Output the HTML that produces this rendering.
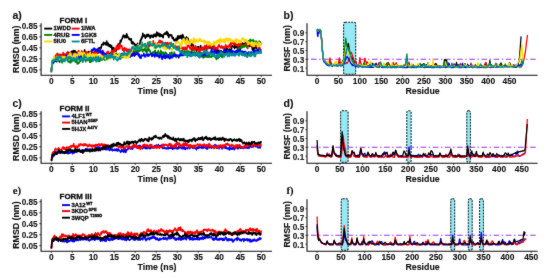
<!DOCTYPE html>
<html><head><meta charset="utf-8"><title>RMSD and RMSF</title>
<style>html,body{margin:0;padding:0;background:#fff;width:550px;height:278px;overflow:hidden} svg text{stroke:#000;stroke-width:0.1px}</style>
</head><body>
<svg width="550" height="278" viewBox="0 0 550 278" style="display:block"><defs><filter id="bl" x="0" y="0" width="550" height="278" filterUnits="userSpaceOnUse" color-interpolation-filters="sRGB"><feConvolveMatrix order="3" kernelMatrix="1 2 1 2 32 2 1 2 1" edgeMode="duplicate"/></filter></defs><g filter="url(#bl)"><rect width="550" height="278" fill="#fff"/><text x="12.4" y="19.1" font-family="'Liberation Sans', Arial, Helvetica, sans-serif" font-weight="bold" font-size="10.5" fill="#111">a)</text><text transform="translate(18.6,49.2) rotate(-90)" text-anchor="middle" font-family="'Liberation Sans', Arial, Helvetica, sans-serif" font-weight="bold" font-size="8.8" fill="#111">RMSD (nm)</text><line x1="39.3" y1="69.8" x2="41.1" y2="69.8" stroke="#111" stroke-width="0.8"/><text x="37.6" y="73.2" text-anchor="end" font-family="'Liberation Sans', Arial, Helvetica, sans-serif" font-weight="bold" font-size="8.2" fill="#222" color="#222">0.05</text><line x1="39.3" y1="58.8" x2="41.1" y2="58.8" stroke="#111" stroke-width="0.8"/><text x="37.6" y="62.2" text-anchor="end" font-family="'Liberation Sans', Arial, Helvetica, sans-serif" font-weight="bold" font-size="8.2" fill="#222" color="#222">0.25</text><line x1="39.3" y1="47.8" x2="41.1" y2="47.8" stroke="#111" stroke-width="0.8"/><text x="37.6" y="51.2" text-anchor="end" font-family="'Liberation Sans', Arial, Helvetica, sans-serif" font-weight="bold" font-size="8.2" fill="#222" color="#222">0.45</text><line x1="39.3" y1="36.8" x2="41.1" y2="36.8" stroke="#111" stroke-width="0.8"/><text x="37.6" y="40.2" text-anchor="end" font-family="'Liberation Sans', Arial, Helvetica, sans-serif" font-weight="bold" font-size="8.2" fill="#222" color="#222">0.65</text><line x1="39.3" y1="25.8" x2="41.1" y2="25.8" stroke="#111" stroke-width="0.8"/><text x="37.6" y="29.2" text-anchor="end" font-family="'Liberation Sans', Arial, Helvetica, sans-serif" font-weight="bold" font-size="8.2" fill="#222" color="#222">0.85</text><line x1="51.3" y1="75.3" x2="51.3" y2="76.9" stroke="#111" stroke-width="0.8"/><text x="51.3" y="84.2" text-anchor="middle" font-family="'Liberation Sans', Arial, Helvetica, sans-serif" font-weight="bold" font-size="8.4" fill="#111">0</text><line x1="72.3" y1="75.3" x2="72.3" y2="76.9" stroke="#111" stroke-width="0.8"/><text x="72.3" y="84.2" text-anchor="middle" font-family="'Liberation Sans', Arial, Helvetica, sans-serif" font-weight="bold" font-size="8.4" fill="#111">5</text><line x1="93.3" y1="75.3" x2="93.3" y2="76.9" stroke="#111" stroke-width="0.8"/><text x="93.3" y="84.2" text-anchor="middle" font-family="'Liberation Sans', Arial, Helvetica, sans-serif" font-weight="bold" font-size="8.4" fill="#111">10</text><line x1="114.3" y1="75.3" x2="114.3" y2="76.9" stroke="#111" stroke-width="0.8"/><text x="114.3" y="84.2" text-anchor="middle" font-family="'Liberation Sans', Arial, Helvetica, sans-serif" font-weight="bold" font-size="8.4" fill="#111">15</text><line x1="135.3" y1="75.3" x2="135.3" y2="76.9" stroke="#111" stroke-width="0.8"/><text x="135.3" y="84.2" text-anchor="middle" font-family="'Liberation Sans', Arial, Helvetica, sans-serif" font-weight="bold" font-size="8.4" fill="#111">20</text><line x1="156.3" y1="75.3" x2="156.3" y2="76.9" stroke="#111" stroke-width="0.8"/><text x="156.3" y="84.2" text-anchor="middle" font-family="'Liberation Sans', Arial, Helvetica, sans-serif" font-weight="bold" font-size="8.4" fill="#111">25</text><line x1="177.3" y1="75.3" x2="177.3" y2="76.9" stroke="#111" stroke-width="0.8"/><text x="177.3" y="84.2" text-anchor="middle" font-family="'Liberation Sans', Arial, Helvetica, sans-serif" font-weight="bold" font-size="8.4" fill="#111">30</text><line x1="198.3" y1="75.3" x2="198.3" y2="76.9" stroke="#111" stroke-width="0.8"/><text x="198.3" y="84.2" text-anchor="middle" font-family="'Liberation Sans', Arial, Helvetica, sans-serif" font-weight="bold" font-size="8.4" fill="#111">35</text><line x1="219.3" y1="75.3" x2="219.3" y2="76.9" stroke="#111" stroke-width="0.8"/><text x="219.3" y="84.2" text-anchor="middle" font-family="'Liberation Sans', Arial, Helvetica, sans-serif" font-weight="bold" font-size="8.4" fill="#111">40</text><line x1="240.3" y1="75.3" x2="240.3" y2="76.9" stroke="#111" stroke-width="0.8"/><text x="240.3" y="84.2" text-anchor="middle" font-family="'Liberation Sans', Arial, Helvetica, sans-serif" font-weight="bold" font-size="8.4" fill="#111">45</text><line x1="261.3" y1="75.3" x2="261.3" y2="76.9" stroke="#111" stroke-width="0.8"/><text x="261.3" y="84.2" text-anchor="middle" font-family="'Liberation Sans', Arial, Helvetica, sans-serif" font-weight="bold" font-size="8.4" fill="#111">50</text><text x="157" y="94" text-anchor="middle" font-family="'Liberation Sans', Arial, Helvetica, sans-serif" font-weight="bold" font-size="8.8" fill="#111">Time (ns)</text><path d="M51.3,71.45 L51.65,67.36 L52,64.9 L52.35,61.74 L52.7,63.45 L53.05,61.93 L53.4,61.41 L53.75,60.2 L54.1,61.32 L54.46,58.99 L54.81,56.72 L55.16,56.41 L55.51,56.76 L55.86,56.49 L56.21,55.45 L56.56,58.52 L56.91,56.32 L57.26,55.6 L57.61,56.26 L57.96,55.54 L58.31,56.76 L58.66,57.24 L59.01,57.48 L59.36,56.27 L59.71,57.09 L60.06,56.22 L60.42,56.23 L60.77,54.87 L61.12,56.59 L61.47,55.89 L61.82,56.05 L62.17,54.86 L62.52,56.62 L62.87,55.23 L63.22,56.91 L63.57,56.36 L63.92,56.19 L64.27,54.47 L64.62,54.43 L64.97,57.08 L65.32,56.29 L65.67,54.86 L66.02,56.56 L66.38,57.32 L66.73,53.75 L67.08,55.23 L67.43,54.66 L67.78,55.61 L68.13,54.39 L68.48,54.35 L68.83,52.39 L69.18,55.14 L69.53,54.9 L69.88,53.32 L70.23,54.28 L70.58,52.33 L70.93,52.73 L71.28,53.51 L71.63,51.59 L71.98,52.45 L72.34,50.97 L72.69,52.85 L73.04,52.51 L73.39,51.39 L73.74,50.5 L74.09,50.7 L74.44,52.08 L74.79,51.36 L75.14,50.89 L75.49,53.18 L75.84,53.74 L76.19,53.81 L76.54,53.69 L76.89,55.05 L77.24,55.15 L77.59,54.58 L77.94,52.64 L78.29,54.42 L78.65,53.97 L79,52.76 L79.35,52.71 L79.7,54 L80.05,53 L80.4,54.64 L80.75,54.28 L81.1,55.58 L81.45,53.21 L81.8,54.6 L82.15,54.57 L82.5,53.75 L82.85,53.62 L83.2,52.26 L83.55,54.92 L83.9,53.73 L84.25,53.1 L84.61,49.74 L84.96,52.23 L85.31,53.15 L85.66,53.26 L86.01,52.92 L86.36,55.32 L86.71,55.77 L87.06,53.77 L87.41,52.98 L87.76,53.17 L88.11,54.62 L88.46,51.75 L88.81,51.54 L89.16,52.73 L89.51,52.6 L89.86,54.92 L90.21,51.72 L90.57,53.14 L90.92,52.4 L91.27,52 L91.62,53.58 L91.97,54.68 L92.32,52.86 L92.67,53.28 L93.02,52.62 L93.37,52.75 L93.72,52.72 L94.07,54.73 L94.42,52.03 L94.77,53.32 L95.12,51.69 L95.47,51.52 L95.82,52.52 L96.17,54.94 L96.53,52.96 L96.88,53.26 L97.23,51.53 L97.58,50.37 L97.93,53 L98.28,49.28 L98.63,49.98 L98.98,47.77 L99.33,48.02 L99.68,47.98 L100.03,47.91 L100.38,47.34 L100.73,47.38 L101.08,48.16 L101.43,46.49 L101.78,44.45 L102.13,44.59 L102.49,44.06 L102.84,44.38 L103.19,44.86 L103.54,42.27 L103.89,43.9 L104.24,43.71 L104.59,43.87 L104.94,43.03 L105.29,43.39 L105.64,43.02 L105.99,44.99 L106.34,44.76 L106.69,41.03 L107.04,44.04 L107.39,44.93 L107.74,43.99 L108.09,43.09 L108.45,46.04 L108.8,45.32 L109.15,44.6 L109.5,46.39 L109.85,46.12 L110.2,44.69 L110.55,47.08 L110.9,46.81 L111.25,47.26 L111.6,45.56 L111.95,49.37 L112.3,48.8 L112.65,49.56 L113,47.69 L113.35,48.3 L113.7,47.54 L114.05,50.97 L114.41,49.06 L114.76,50.72 L115.11,51.01 L115.46,49.44 L115.81,50.52 L116.16,51.17 L116.51,48.14 L116.86,48.47 L117.21,46.93 L117.56,45.77 L117.91,46.18 L118.26,43.76 L118.61,44.63 L118.96,45.73 L119.31,44.2 L119.66,43.55 L120.01,43.05 L120.37,40.47 L120.72,41.62 L121.07,41.85 L121.42,39.52 L121.77,39.55 L122.12,38.49 L122.47,37.98 L122.82,36.11 L123.17,35.73 L123.52,35.04 L123.87,36.67 L124.22,35.92 L124.57,36.21 L124.92,37.83 L125.27,35.62 L125.62,36.35 L125.97,36.64 L126.33,37.59 L126.68,33.88 L127.03,35.13 L127.38,36.12 L127.73,37.49 L128.08,37.17 L128.43,37.3 L128.78,38.77 L129.13,39.07 L129.48,39.7 L129.83,38.67 L130.18,40 L130.53,40.1 L130.88,39.63 L131.23,38.72 L131.58,43.18 L131.93,42.64 L132.28,43.67 L132.64,41.91 L132.99,43.96 L133.34,42.35 L133.69,43.04 L134.04,43.75 L134.39,44.07 L134.74,43.86 L135.09,46.7 L135.44,46.49 L135.79,45.18 L136.14,44.89 L136.49,45.46 L136.84,47.58 L137.19,45.2 L137.54,43.24 L137.89,44.12 L138.24,44.42 L138.6,45.61 L138.95,44.99 L139.3,45.52 L139.65,44.33 L140,43 L140.35,40.4 L140.7,41.3 L141.05,38.7 L141.4,39.48 L141.75,37.13 L142.1,37.98 L142.45,36.72 L142.8,33.37 L143.15,34.84 L143.5,36.07 L143.85,36.26 L144.2,35.5 L144.56,34.96 L144.91,36.1 L145.26,38.2 L145.61,36.71 L145.96,36.37 L146.31,37.01 L146.66,34.66 L147.01,34.89 L147.36,34.75 L147.71,36.4 L148.06,34.22 L148.41,34.56 L148.76,35.79 L149.11,36.37 L149.46,36.43 L149.81,35.33 L150.16,38.28 L150.52,37.42 L150.87,36.03 L151.22,35.51 L151.57,36.75 L151.92,35.08 L152.27,36.1 L152.62,35.95 L152.97,37.28 L153.32,37.36 L153.67,35.63 L154.02,34.22 L154.37,35.89 L154.72,35.2 L155.07,34.25 L155.42,36.35 L155.77,35.25 L156.12,36.61 L156.48,33.5 L156.83,32.09 L157.18,32.6 L157.53,35.46 L157.88,34.91 L158.23,34.7 L158.58,34.57 L158.93,33.16 L159.28,36.53 L159.63,34.77 L159.98,36.02 L160.33,34 L160.68,35.59 L161.03,36.61 L161.38,35.55 L161.73,34.8 L162.08,36.27 L162.44,35.64 L162.79,36.9 L163.14,37.76 L163.49,34.73 L163.84,34.3 L164.19,33.74 L164.54,33.83 L164.89,32.96 L165.24,34.19 L165.59,34.24 L165.94,34.04 L166.29,32.05 L166.64,33.74 L166.99,31.53 L167.34,33.93 L167.69,35.35 L168.04,32.94 L168.4,35.37 L168.75,37.49 L169.1,35.92 L169.45,35.32 L169.8,34.62 L170.15,35.71 L170.5,35.04 L170.85,34.76 L171.2,35.46 L171.55,35 L171.9,36.24 L172.25,38.13 L172.6,38.55 L172.95,37.6 L173.3,37.66 L173.65,39.45 L174,40.34 L174.36,39.49 L174.71,40.73 L175.06,40.61 L175.41,40.13 L175.76,40.25 L176.11,38.31 L176.46,41.24 L176.81,39.04 L177.16,39.93 L177.51,36.98 L177.86,35.74 L178.21,39.04 L178.56,37.76 L178.91,36.79 L179.26,36.1 L179.61,36.97 L179.96,38.2 L180.32,36.65 L180.67,35.59 L181.02,36.06 L181.37,35.48 L181.72,39.04 L182.07,36.46 L182.42,37.93 L182.77,34.65 L183.12,36.04 L183.47,37.45 L183.82,37.02 L184.17,38.56 L184.52,38.82 L184.87,40.33 L185.22,38.74 L185.57,38.96 L185.92,37.83 L186.27,38.59 L186.63,36.93 L186.98,38.56 L187.33,38.63 L187.68,38.27 L188.03,38.25 L188.38,40.26 L188.73,41.35 L189.08,42.46 L189.43,42.05 L189.78,43.55 L190.13,41.75 L190.48,43.06 L190.83,43.6 L191.18,45.76 L191.53,44.72 L191.88,44.8 L192.23,46.24 L192.59,43.36 L192.94,45.26 L193.29,44.76 L193.64,46.38 L193.99,47.81 L194.34,47.49 L194.69,47.98 L195.04,47.77 L195.39,47.69 L195.74,47.57 L196.09,49.77 L196.44,48.37 L196.79,51.1 L197.14,46.81 L197.49,48.13 L197.84,47.24 L198.19,47.21 L198.55,46.66 L198.9,49.48 L199.25,49.99 L199.6,48.64 L199.95,50.39 L200.3,48.55 L200.65,45.64 L201,49.03 L201.35,47.45 L201.7,49.76 L202.05,47.91 L202.4,48.76 L202.75,48.83 L203.1,48.17 L203.45,47.33 L203.8,49.49 L204.15,49.32 L204.51,49.71 L204.86,48.72 L205.21,49.29 L205.56,48.24 L205.91,49.42 L206.26,46.71 L206.61,50.67 L206.96,47.75 L207.31,46.78 L207.66,47.65 L208.01,48.08 L208.36,47.77 L208.71,48.4 L209.06,46.74 L209.41,43.77 L209.76,45.03 L210.11,47.91 L210.47,47.54 L210.82,46.83 L211.17,44.62 L211.52,46.96 L211.87,46.69 L212.22,45.86 L212.57,45.26 L212.92,47 L213.27,48.84 L213.62,49.34 L213.97,47.84 L214.32,50.45 L214.67,47.97 L215.02,49.85 L215.37,49.31 L215.72,47.57 L216.07,48.76 L216.43,51.61 L216.78,49.1 L217.13,49.25 L217.48,51.02 L217.83,51.86 L218.18,51.71 L218.53,54.34 L218.88,49.94 L219.23,54.28 L219.58,52.83 L219.93,52.06 L220.28,52.04 L220.63,51.73 L220.98,50.68 L221.33,52.07 L221.68,51.76 L222.03,55.61 L222.39,53.68 L222.74,53.51 L223.09,51.72 L223.44,51.82 L223.79,53.41 L224.14,52.86 L224.49,50.07 L224.84,51.8 L225.19,52.06 L225.54,49.35 L225.89,47.96 L226.24,52.15 L226.59,50.05 L226.94,48.25 L227.29,50.24 L227.64,49.61 L227.99,49.28 L228.35,49.62 L228.7,49.51 L229.05,50.66 L229.4,49.13 L229.75,49.98 L230.1,49.71 L230.45,50.23 L230.8,49.33 L231.15,49.9 L231.5,48.82 L231.85,46.46 L232.2,45.87 L232.55,45.68 L232.9,46.19 L233.25,46.45 L233.6,46.9 L233.95,47.39 L234.31,46.14 L234.66,48.53 L235.01,45.42 L235.36,46.71 L235.71,47.24 L236.06,46.95 L236.41,47.44 L236.76,46.94 L237.11,47.8 L237.46,45.94 L237.81,47.62 L238.16,49.01 L238.51,47.99 L238.86,49.06 L239.21,47.53 L239.56,46.45 L239.91,46.76 L240.26,49.77 L240.62,48.44 L240.97,45.01 L241.32,46.02 L241.67,45.99 L242.02,44.49 L242.37,42.98 L242.72,43.72 L243.07,44.63 L243.42,43.72 L243.77,43.54 L244.12,44.06 L244.47,43.84 L244.82,42.77 L245.17,44.16 L245.52,42.99 L245.87,43.91 L246.22,41.32 L246.58,44.65 L246.93,43.84 L247.28,43.83 L247.63,43.76 L247.98,43.43 L248.33,44.85 L248.68,45.16 L249.03,46.14 L249.38,46.51 L249.73,44.83 L250.08,44.89 L250.43,45.71 L250.78,45.24 L251.13,46.06 L251.48,45.27 L251.83,46.82 L252.18,48.22 L252.54,49.8 L252.89,50.14 L253.24,47.69 L253.59,51.72 L253.94,48.67 L254.29,48.03 L254.64,48.23 L254.99,47.44 L255.34,45.61 L255.69,45.57 L256.04,45.74 L256.39,48.29 L256.74,46.71 L257.09,47.03 L257.44,46.32 L257.79,45.31 L258.14,44.17 L258.5,44.28 L258.85,45.67 L259.2,43.63 L259.55,43.07 L259.9,42.57 L260.25,42.2 L260.6,44.14 L260.95,44.07 L261.3,43.71" fill="none" stroke="#000000" stroke-width="1.6" stroke-linejoin="round"/><path d="M51.3,71.45 L51.65,68.81 L52,67.3 L52.35,60.56 L52.7,63.77 L53.05,62.38 L53.4,61.67 L53.75,59.13 L54.1,59.85 L54.46,57.74 L54.81,59.09 L55.16,56.99 L55.51,58.1 L55.86,57.52 L56.21,54.48 L56.56,54.88 L56.91,54.95 L57.26,53.39 L57.61,55.62 L57.96,57.39 L58.31,56.06 L58.66,56.89 L59.01,53.98 L59.36,54.46 L59.71,55.58 L60.06,54.94 L60.42,54.41 L60.77,55.06 L61.12,56.36 L61.47,54.61 L61.82,57.07 L62.17,54.8 L62.52,54.26 L62.87,53.69 L63.22,52.6 L63.57,54.21 L63.92,53.55 L64.27,54.55 L64.62,54.96 L64.97,56.04 L65.32,55.4 L65.67,54.09 L66.02,56.1 L66.38,54.2 L66.73,52.86 L67.08,52.89 L67.43,51.92 L67.78,53.43 L68.13,54.28 L68.48,53.67 L68.83,54.85 L69.18,54.25 L69.53,55.96 L69.88,54.5 L70.23,54.12 L70.58,54.54 L70.93,55.39 L71.28,54.25 L71.63,54.72 L71.98,55.44 L72.34,54.43 L72.69,55.72 L73.04,53.73 L73.39,55.16 L73.74,54.28 L74.09,55.9 L74.44,55.87 L74.79,52.95 L75.14,55.77 L75.49,56.54 L75.84,55.96 L76.19,53.88 L76.54,51.81 L76.89,53.14 L77.24,52.55 L77.59,54.79 L77.94,53.06 L78.29,52.34 L78.65,50.59 L79,53.27 L79.35,52.46 L79.7,53.25 L80.05,54.47 L80.4,53.21 L80.75,52.82 L81.1,54.97 L81.45,51.49 L81.8,50.93 L82.15,52.19 L82.5,54.29 L82.85,52.17 L83.2,54.36 L83.55,52.65 L83.9,52.81 L84.25,54.17 L84.61,52.52 L84.96,52.77 L85.31,52.21 L85.66,52.53 L86.01,52.77 L86.36,51.72 L86.71,52.82 L87.06,53.58 L87.41,53.83 L87.76,52.35 L88.11,54.81 L88.46,54.3 L88.81,54.42 L89.16,54.86 L89.51,53.92 L89.86,54.53 L90.21,51.38 L90.57,53.1 L90.92,53.37 L91.27,54.3 L91.62,51.59 L91.97,53.5 L92.32,55.47 L92.67,55.38 L93.02,55.12 L93.37,52.93 L93.72,54.2 L94.07,51.76 L94.42,55.68 L94.77,53.07 L95.12,53.78 L95.47,50.85 L95.82,53.3 L96.17,53.97 L96.53,52.34 L96.88,50.42 L97.23,52.63 L97.58,51.24 L97.93,52.24 L98.28,51.39 L98.63,50.99 L98.98,52.14 L99.33,52.7 L99.68,52.28 L100.03,52.21 L100.38,50.72 L100.73,49.56 L101.08,53.75 L101.43,52.62 L101.78,52.87 L102.13,52.3 L102.49,54.52 L102.84,54.27 L103.19,55.3 L103.54,54.32 L103.89,55.42 L104.24,56.29 L104.59,55.2 L104.94,55.25 L105.29,55.17 L105.64,53.59 L105.99,54.06 L106.34,53.74 L106.69,52.47 L107.04,52.22 L107.39,53.49 L107.74,53.28 L108.09,51.39 L108.45,52.12 L108.8,53.99 L109.15,54.09 L109.5,54.16 L109.85,54.36 L110.2,54.91 L110.55,52.56 L110.9,54.05 L111.25,53.34 L111.6,50.53 L111.95,53.05 L112.3,52.29 L112.65,51.01 L113,50.89 L113.35,53.06 L113.7,52.43 L114.05,52.54 L114.41,48.6 L114.76,50.81 L115.11,50.83 L115.46,50.15 L115.81,48.63 L116.16,48.01 L116.51,45.93 L116.86,46.29 L117.21,48.94 L117.56,47.98 L117.91,49.57 L118.26,49.28 L118.61,47.47 L118.96,44.27 L119.31,45.91 L119.66,48.78 L120.01,46.39 L120.37,44.68 L120.72,45.45 L121.07,45.54 L121.42,46.16 L121.77,45.87 L122.12,48.01 L122.47,49.94 L122.82,48.21 L123.17,50.28 L123.52,50.38 L123.87,51.43 L124.22,49.75 L124.57,47.67 L124.92,50.35 L125.27,48.27 L125.62,48.19 L125.97,49.79 L126.33,48.84 L126.68,51.25 L127.03,49.04 L127.38,50.16 L127.73,50.93 L128.08,52.03 L128.43,51.75 L128.78,49.48 L129.13,49.22 L129.48,51.33 L129.83,50.93 L130.18,51.88 L130.53,50.01 L130.88,49.6 L131.23,49.67 L131.58,51.36 L131.93,49.03 L132.28,48.22 L132.64,50.75 L132.99,50.91 L133.34,48.87 L133.69,50.39 L134.04,52.52 L134.39,50.21 L134.74,51.1 L135.09,52.52 L135.44,49.64 L135.79,51.96 L136.14,52.48 L136.49,50.97 L136.84,52.7 L137.19,52.5 L137.54,51.43 L137.89,51.57 L138.24,50.11 L138.6,47.14 L138.95,48 L139.3,47.01 L139.65,48.05 L140,47.01 L140.35,46.24 L140.7,49.22 L141.05,45.39 L141.4,47.28 L141.75,47.06 L142.1,48.01 L142.45,46.9 L142.8,45.77 L143.15,45.49 L143.5,47.87 L143.85,46.65 L144.2,46.72 L144.56,46.28 L144.91,46.62 L145.26,43.86 L145.61,46.21 L145.96,44.1 L146.31,45.29 L146.66,46.6 L147.01,46.01 L147.36,46.83 L147.71,42.91 L148.06,46.21 L148.41,43.61 L148.76,44.62 L149.11,45.72 L149.46,46.61 L149.81,43.61 L150.16,42.39 L150.52,45.55 L150.87,45.38 L151.22,43.72 L151.57,44.5 L151.92,42.11 L152.27,43.33 L152.62,41.85 L152.97,43.98 L153.32,40.74 L153.67,44.39 L154.02,46.58 L154.37,45.01 L154.72,45.24 L155.07,43.29 L155.42,45.2 L155.77,45.08 L156.12,44.54 L156.48,44.18 L156.83,44.89 L157.18,43.45 L157.53,43.02 L157.88,43.58 L158.23,42.51 L158.58,42.97 L158.93,43.77 L159.28,40.21 L159.63,44.04 L159.98,40.94 L160.33,40.51 L160.68,41.76 L161.03,42.4 L161.38,41.48 L161.73,41.55 L162.08,41.37 L162.44,42.71 L162.79,42.62 L163.14,44.81 L163.49,44.2 L163.84,46.14 L164.19,43.54 L164.54,45.16 L164.89,44.64 L165.24,42.45 L165.59,42.74 L165.94,46.89 L166.29,44.13 L166.64,45.56 L166.99,42.85 L167.34,42.55 L167.69,45.37 L168.04,43.15 L168.4,44.88 L168.75,43.81 L169.1,43.48 L169.45,43.07 L169.8,44.85 L170.15,43.09 L170.5,45.8 L170.85,43.81 L171.2,43.23 L171.55,44.14 L171.9,45.98 L172.25,46.18 L172.6,45.16 L172.95,45.5 L173.3,43.88 L173.65,47.4 L174,45.27 L174.36,45.33 L174.71,47.05 L175.06,47.13 L175.41,46.64 L175.76,47.93 L176.11,46.55 L176.46,47.54 L176.81,46.84 L177.16,49.8 L177.51,46.38 L177.86,47.13 L178.21,47.08 L178.56,48.46 L178.91,49.53 L179.26,47.3 L179.61,47.21 L179.96,46.16 L180.32,48.39 L180.67,45.56 L181.02,47.28 L181.37,46.8 L181.72,47.51 L182.07,48.47 L182.42,49.24 L182.77,48.29 L183.12,47.35 L183.47,47.69 L183.82,49.44 L184.17,48.21 L184.52,49.85 L184.87,49.4 L185.22,46.95 L185.57,48.43 L185.92,49.07 L186.27,49.63 L186.63,49 L186.98,49.28 L187.33,45.49 L187.68,46.8 L188.03,46.29 L188.38,46.69 L188.73,45.84 L189.08,45.11 L189.43,47.35 L189.78,47.16 L190.13,48.87 L190.48,47.12 L190.83,49.22 L191.18,49.5 L191.53,50.63 L191.88,50.66 L192.23,48.5 L192.59,46.03 L192.94,50.3 L193.29,47.64 L193.64,48.94 L193.99,50.27 L194.34,48.43 L194.69,48.71 L195.04,49.37 L195.39,45.83 L195.74,50.05 L196.09,47.73 L196.44,47.56 L196.79,47.84 L197.14,48.37 L197.49,47.97 L197.84,49.16 L198.19,49.32 L198.55,49.28 L198.9,52.38 L199.25,48.19 L199.6,47.62 L199.95,48.64 L200.3,48.13 L200.65,50.92 L201,49.26 L201.35,48.84 L201.7,48.34 L202.05,47.03 L202.4,48.86 L202.75,48.61 L203.1,50.21 L203.45,47.76 L203.8,47.94 L204.15,48.83 L204.51,48.1 L204.86,45.64 L205.21,48.76 L205.56,49.17 L205.91,49.31 L206.26,47.37 L206.61,45.03 L206.96,47.13 L207.31,48.52 L207.66,48.49 L208.01,46.93 L208.36,48.56 L208.71,45.92 L209.06,44.75 L209.41,46.15 L209.76,44.81 L210.11,44.72 L210.47,43.7 L210.82,47.47 L211.17,45.27 L211.52,47.03 L211.87,47.65 L212.22,48.01 L212.57,47.75 L212.92,48.76 L213.27,49.61 L213.62,49 L213.97,46.52 L214.32,45.67 L214.67,47.74 L215.02,47.59 L215.37,48.96 L215.72,48.14 L216.07,47.74 L216.43,49.25 L216.78,49.36 L217.13,47.94 L217.48,47.4 L217.83,48.58 L218.18,45.91 L218.53,45.94 L218.88,44.73 L219.23,45.22 L219.58,46.28 L219.93,46.64 L220.28,47.42 L220.63,47.84 L220.98,47.4 L221.33,46.14 L221.68,45.84 L222.03,46.07 L222.39,48.5 L222.74,47.58 L223.09,47.55 L223.44,46.73 L223.79,47.74 L224.14,48.26 L224.49,47.09 L224.84,47.34 L225.19,48.06 L225.54,44.81 L225.89,45.51 L226.24,47.36 L226.59,46.13 L226.94,47.22 L227.29,46.18 L227.64,46.54 L227.99,47.2 L228.35,46.96 L228.7,46.92 L229.05,45.1 L229.4,44.78 L229.75,44.22 L230.1,44.74 L230.45,47.29 L230.8,42.66 L231.15,44.94 L231.5,41.95 L231.85,41.09 L232.2,42.12 L232.55,43.5 L232.9,43.53 L233.25,43.1 L233.6,44.39 L233.95,44.07 L234.31,44.28 L234.66,41.95 L235.01,44.57 L235.36,43.54 L235.71,44.38 L236.06,44.46 L236.41,44.64 L236.76,45.33 L237.11,44.41 L237.46,45.33 L237.81,45.68 L238.16,46.81 L238.51,43.69 L238.86,45.78 L239.21,45.24 L239.56,43.89 L239.91,44.57 L240.26,43.76 L240.62,45.27 L240.97,42.76 L241.32,44.95 L241.67,45.33 L242.02,45.3 L242.37,45.6 L242.72,46.01 L243.07,45.2 L243.42,44.49 L243.77,44.53 L244.12,45.13 L244.47,44.88 L244.82,44.38 L245.17,45.79 L245.52,44.2 L245.87,44.77 L246.22,42.37 L246.58,44.82 L246.93,45.01 L247.28,45.36 L247.63,48.55 L247.98,45.12 L248.33,43.73 L248.68,42.43 L249.03,43.71 L249.38,43.64 L249.73,43.37 L250.08,43.37 L250.43,43.14 L250.78,45.3 L251.13,44.72 L251.48,46.48 L251.83,43.59 L252.18,44.41 L252.54,44.81 L252.89,46.82 L253.24,44.73 L253.59,44.84 L253.94,45.53 L254.29,45.61 L254.64,44.39 L254.99,45.19 L255.34,43.4 L255.69,44.53 L256.04,45.76 L256.39,45.09 L256.74,46.16 L257.09,46.11 L257.44,46.58 L257.79,46.38 L258.14,47.23 L258.5,49.13 L258.85,47.23 L259.2,49.77 L259.55,47.9 L259.9,47.73 L260.25,51.06 L260.6,49.58 L260.95,49.58 L261.3,50.25" fill="none" stroke="#ff0000" stroke-width="1.6" stroke-linejoin="round"/><path d="M51.3,71.45 L51.65,67.7 L52,64.65 L52.35,62.78 L52.7,60.55 L53.05,61.98 L53.4,62.53 L53.75,61.69 L54.1,60.53 L54.46,59.38 L54.81,59.49 L55.16,60.52 L55.51,59.09 L55.86,59.76 L56.21,59.05 L56.56,61.91 L56.91,61.73 L57.26,57.82 L57.61,60.42 L57.96,59.19 L58.31,58.88 L58.66,60.91 L59.01,60.79 L59.36,59.24 L59.71,62.54 L60.06,59.13 L60.42,58.13 L60.77,60.64 L61.12,60.57 L61.47,60.11 L61.82,58.94 L62.17,62.89 L62.52,61.57 L62.87,61.32 L63.22,59.37 L63.57,59.47 L63.92,58.91 L64.27,59.47 L64.62,58.54 L64.97,58.55 L65.32,58.2 L65.67,58.03 L66.02,58.16 L66.38,59.42 L66.73,56.6 L67.08,58.53 L67.43,60.54 L67.78,59.29 L68.13,61.66 L68.48,61.49 L68.83,61.89 L69.18,61.5 L69.53,62.45 L69.88,62.66 L70.23,61.4 L70.58,59.18 L70.93,62.69 L71.28,59.24 L71.63,59.7 L71.98,60.76 L72.34,60.97 L72.69,57.15 L73.04,59.44 L73.39,57.46 L73.74,59.57 L74.09,60.62 L74.44,60.66 L74.79,60.54 L75.14,60.79 L75.49,62.08 L75.84,61.91 L76.19,61.83 L76.54,60.27 L76.89,61.83 L77.24,64.01 L77.59,63.72 L77.94,62.44 L78.29,63.58 L78.65,62.55 L79,63.05 L79.35,62.16 L79.7,61.3 L80.05,60.17 L80.4,61.41 L80.75,58.5 L81.1,60.48 L81.45,56.95 L81.8,59.25 L82.15,59.5 L82.5,60 L82.85,62 L83.2,59.1 L83.55,58.38 L83.9,56.65 L84.25,59.58 L84.61,56.34 L84.96,60 L85.31,58.25 L85.66,61.75 L86.01,59.7 L86.36,60.36 L86.71,59.8 L87.06,59.17 L87.41,60.27 L87.76,59.06 L88.11,59.01 L88.46,59.37 L88.81,57.83 L89.16,58.45 L89.51,60.96 L89.86,62.23 L90.21,62.37 L90.57,59.62 L90.92,61.41 L91.27,61.57 L91.62,60.99 L91.97,61.52 L92.32,60.67 L92.67,61.28 L93.02,60.19 L93.37,56.94 L93.72,59.11 L94.07,59.36 L94.42,59.85 L94.77,59.67 L95.12,57.77 L95.47,58.09 L95.82,60.17 L96.17,58.64 L96.53,59.25 L96.88,60.46 L97.23,57.69 L97.58,59.55 L97.93,58 L98.28,61.53 L98.63,60.98 L98.98,59.65 L99.33,60.01 L99.68,61.38 L100.03,60.5 L100.38,58.95 L100.73,59.26 L101.08,59.48 L101.43,58.77 L101.78,58.02 L102.13,58.39 L102.49,58.65 L102.84,59.67 L103.19,58.64 L103.54,58.58 L103.89,58.94 L104.24,58.5 L104.59,59.69 L104.94,60.16 L105.29,59.24 L105.64,57.68 L105.99,57.29 L106.34,56.25 L106.69,58.03 L107.04,57.07 L107.39,56.98 L107.74,57.5 L108.09,59.19 L108.45,57.76 L108.8,56.55 L109.15,57.95 L109.5,55.53 L109.85,55.1 L110.2,56.58 L110.55,53.6 L110.9,55.97 L111.25,54.63 L111.6,54.8 L111.95,56.23 L112.3,54.44 L112.65,55.31 L113,53.91 L113.35,56.86 L113.7,56.29 L114.05,56.61 L114.41,57.45 L114.76,55.56 L115.11,55.5 L115.46,53.83 L115.81,54.49 L116.16,53.33 L116.51,54.66 L116.86,54.04 L117.21,54.6 L117.56,55.53 L117.91,54.91 L118.26,54.79 L118.61,57.03 L118.96,55.49 L119.31,53.48 L119.66,57.23 L120.01,57.93 L120.37,57.2 L120.72,58.81 L121.07,55.76 L121.42,56.48 L121.77,55.78 L122.12,54.81 L122.47,54.19 L122.82,57.57 L123.17,54.95 L123.52,55.73 L123.87,56.54 L124.22,55.73 L124.57,55.54 L124.92,53.6 L125.27,54.99 L125.62,55 L125.97,53.97 L126.33,53.84 L126.68,55.05 L127.03,55.06 L127.38,53.53 L127.73,55.36 L128.08,55.69 L128.43,56.32 L128.78,55.86 L129.13,56.2 L129.48,55.64 L129.83,55.29 L130.18,57.26 L130.53,54.73 L130.88,53.29 L131.23,54.4 L131.58,56.28 L131.93,53.55 L132.28,55.15 L132.64,54.31 L132.99,53.74 L133.34,53.09 L133.69,51.49 L134.04,51.75 L134.39,53.51 L134.74,53.31 L135.09,52.53 L135.44,52.39 L135.79,51.41 L136.14,52.18 L136.49,50.23 L136.84,49.18 L137.19,50.86 L137.54,51.18 L137.89,51.9 L138.24,51.74 L138.6,50.78 L138.95,48.97 L139.3,49.21 L139.65,51.37 L140,48.86 L140.35,50.29 L140.7,48.28 L141.05,49.37 L141.4,49.97 L141.75,48.62 L142.1,50.1 L142.45,51.21 L142.8,51.64 L143.15,48.76 L143.5,49.67 L143.85,50 L144.2,50.03 L144.56,47.75 L144.91,49.61 L145.26,51.12 L145.61,48.89 L145.96,49.53 L146.31,51.22 L146.66,53.11 L147.01,52.11 L147.36,50.38 L147.71,49.25 L148.06,47.41 L148.41,50.33 L148.76,48.94 L149.11,50.87 L149.46,49.55 L149.81,51.38 L150.16,50.87 L150.52,53.01 L150.87,53.89 L151.22,54.1 L151.57,54.28 L151.92,55.33 L152.27,52.49 L152.62,52.13 L152.97,52.51 L153.32,53.21 L153.67,52.42 L154.02,52.61 L154.37,51.2 L154.72,51.02 L155.07,50.22 L155.42,51.42 L155.77,53.9 L156.12,52.41 L156.48,53.91 L156.83,52.73 L157.18,52.49 L157.53,53.36 L157.88,53.18 L158.23,50.51 L158.58,53.79 L158.93,53.53 L159.28,53.06 L159.63,54 L159.98,53.35 L160.33,52.86 L160.68,50.41 L161.03,54.5 L161.38,51.51 L161.73,52.21 L162.08,52.06 L162.44,52.96 L162.79,53.91 L163.14,52.35 L163.49,53.48 L163.84,53.87 L164.19,53 L164.54,53.37 L164.89,53.57 L165.24,52.11 L165.59,52.86 L165.94,53.76 L166.29,53.02 L166.64,53.76 L166.99,53.92 L167.34,54.8 L167.69,54.46 L168.04,56.11 L168.4,56.01 L168.75,54.73 L169.1,54.97 L169.45,57.53 L169.8,52.82 L170.15,54.71 L170.5,55.13 L170.85,53.03 L171.2,53.82 L171.55,54.54 L171.9,51.97 L172.25,56.25 L172.6,55.75 L172.95,54.82 L173.3,56.77 L173.65,55.33 L174,54.34 L174.36,51.96 L174.71,55.22 L175.06,54.83 L175.41,55.2 L175.76,55.87 L176.11,57.53 L176.46,55.92 L176.81,56.1 L177.16,56.18 L177.51,55.77 L177.86,55.6 L178.21,55.84 L178.56,56.03 L178.91,56.93 L179.26,55.79 L179.61,55.77 L179.96,56.13 L180.32,54.28 L180.67,55.53 L181.02,52.22 L181.37,50.71 L181.72,52.55 L182.07,52.3 L182.42,51.85 L182.77,50.36 L183.12,51.54 L183.47,52.18 L183.82,52.25 L184.17,51.98 L184.52,53.39 L184.87,50.98 L185.22,53.03 L185.57,52.41 L185.92,52.41 L186.27,51.06 L186.63,51.72 L186.98,51.4 L187.33,52.91 L187.68,51.15 L188.03,51.17 L188.38,51.68 L188.73,51.83 L189.08,51.21 L189.43,55.36 L189.78,53.3 L190.13,54.54 L190.48,51.99 L190.83,55.77 L191.18,54.21 L191.53,54.36 L191.88,50.37 L192.23,54.03 L192.59,52.65 L192.94,52.79 L193.29,54.61 L193.64,53.56 L193.99,52.04 L194.34,52.09 L194.69,51.7 L195.04,54.63 L195.39,54.98 L195.74,55.81 L196.09,54.91 L196.44,52.72 L196.79,54.28 L197.14,54.72 L197.49,55.33 L197.84,55.89 L198.19,53.4 L198.55,56.32 L198.9,54.38 L199.25,53.04 L199.6,53.9 L199.95,51.95 L200.3,56.69 L200.65,54.67 L201,54.54 L201.35,56.7 L201.7,55.47 L202.05,54.43 L202.4,53.46 L202.75,56.74 L203.1,57.86 L203.45,54.92 L203.8,54.2 L204.15,55.25 L204.51,57.44 L204.86,52.91 L205.21,54.59 L205.56,53.3 L205.91,55.81 L206.26,56.91 L206.61,56.51 L206.96,53.69 L207.31,53.72 L207.66,57.19 L208.01,56.34 L208.36,53.84 L208.71,56.63 L209.06,57.22 L209.41,55.75 L209.76,56.19 L210.11,56.55 L210.47,56.79 L210.82,56.62 L211.17,57.37 L211.52,55.58 L211.87,56.78 L212.22,56.37 L212.57,55.51 L212.92,53.6 L213.27,54.89 L213.62,55.33 L213.97,55.51 L214.32,56.18 L214.67,56.88 L215.02,56.78 L215.37,56.57 L215.72,56.61 L216.07,58.55 L216.43,59.47 L216.78,58.13 L217.13,58.28 L217.48,58.32 L217.83,58.51 L218.18,58.53 L218.53,55.59 L218.88,55.4 L219.23,54.83 L219.58,56.86 L219.93,54.57 L220.28,56.16 L220.63,55.08 L220.98,54.79 L221.33,55.7 L221.68,55.64 L222.03,57.48 L222.39,55.62 L222.74,57.37 L223.09,55.1 L223.44,54.31 L223.79,54.78 L224.14,55.42 L224.49,55.7 L224.84,55.31 L225.19,54.2 L225.54,54.4 L225.89,53.52 L226.24,53.73 L226.59,52.05 L226.94,52.16 L227.29,52.35 L227.64,51.62 L227.99,50.26 L228.35,53.12 L228.7,53.21 L229.05,54.57 L229.4,52.97 L229.75,53.43 L230.1,55.07 L230.45,53.18 L230.8,52.04 L231.15,53.17 L231.5,53.61 L231.85,54.13 L232.2,52.63 L232.55,55.25 L232.9,53.75 L233.25,51.6 L233.6,52.86 L233.95,52.7 L234.31,52.63 L234.66,53.65 L235.01,51.87 L235.36,51.69 L235.71,53.42 L236.06,52.56 L236.41,51.12 L236.76,50.66 L237.11,52.2 L237.46,50.81 L237.81,51.17 L238.16,48.29 L238.51,48.35 L238.86,48.08 L239.21,48.7 L239.56,48.32 L239.91,47.38 L240.26,47.58 L240.62,47.57 L240.97,46.17 L241.32,45.61 L241.67,45.17 L242.02,46.59 L242.37,47.7 L242.72,45.89 L243.07,46.43 L243.42,46.12 L243.77,46.78 L244.12,47.1 L244.47,45.74 L244.82,45.78 L245.17,45.35 L245.52,46.21 L245.87,46.52 L246.22,45.37 L246.58,47.09 L246.93,46.74 L247.28,45.15 L247.63,43.19 L247.98,42.73 L248.33,40.89 L248.68,42.18 L249.03,42.27 L249.38,43.51 L249.73,42.06 L250.08,39.32 L250.43,41.31 L250.78,40.26 L251.13,40.03 L251.48,40.28 L251.83,40.31 L252.18,40.79 L252.54,40.89 L252.89,40 L253.24,39.86 L253.59,41.07 L253.94,41.79 L254.29,41.42 L254.64,43.14 L254.99,42.23 L255.34,46.25 L255.69,43.86 L256.04,40.93 L256.39,43.77 L256.74,44.26 L257.09,42.6 L257.44,42.34 L257.79,43.84 L258.14,43.31 L258.5,44.34 L258.85,44.89 L259.2,40.98 L259.55,44.14 L259.9,45.39 L260.25,45.33 L260.6,42.96 L260.95,43.4 L261.3,43.81" fill="none" stroke="#008000" stroke-width="1.6" stroke-linejoin="round"/><path d="M51.3,71.45 L51.65,69.02 L52,64.2 L52.35,62.08 L52.7,61.04 L53.05,61.29 L53.4,61.78 L53.75,62.6 L54.1,59.81 L54.46,60.6 L54.81,59.26 L55.16,61.25 L55.51,60.86 L55.86,61.37 L56.21,60.42 L56.56,58.12 L56.91,59.47 L57.26,59.88 L57.61,60.2 L57.96,59.54 L58.31,59.82 L58.66,59.25 L59.01,59.18 L59.36,61.39 L59.71,58.74 L60.06,56.69 L60.42,57.68 L60.77,58.01 L61.12,58.82 L61.47,58.13 L61.82,56.73 L62.17,58 L62.52,58.45 L62.87,60.77 L63.22,58.1 L63.57,59.26 L63.92,58.87 L64.27,56.82 L64.62,56.61 L64.97,59.19 L65.32,56.28 L65.67,56.11 L66.02,56.84 L66.38,55.35 L66.73,57.23 L67.08,58.12 L67.43,57.93 L67.78,57.76 L68.13,55.96 L68.48,58.02 L68.83,58.44 L69.18,58.41 L69.53,57.02 L69.88,56.81 L70.23,56.02 L70.58,57.77 L70.93,57.59 L71.28,57.28 L71.63,55.87 L71.98,56.75 L72.34,56.12 L72.69,54.35 L73.04,55.79 L73.39,55.97 L73.74,54.2 L74.09,56.18 L74.44,55.8 L74.79,56.32 L75.14,55.79 L75.49,55.5 L75.84,55.73 L76.19,54.74 L76.54,53.07 L76.89,53.35 L77.24,55.67 L77.59,54.86 L77.94,55.04 L78.29,54.97 L78.65,55.99 L79,57.51 L79.35,57.21 L79.7,58.33 L80.05,55.63 L80.4,55.87 L80.75,55.23 L81.1,56.36 L81.45,56.45 L81.8,57.2 L82.15,58.07 L82.5,55.8 L82.85,56.55 L83.2,56.26 L83.55,57.61 L83.9,56.09 L84.25,57.44 L84.61,56.23 L84.96,56.65 L85.31,55.96 L85.66,56.24 L86.01,56.12 L86.36,55.6 L86.71,56.63 L87.06,55.75 L87.41,55.93 L87.76,56.14 L88.11,56.23 L88.46,55.31 L88.81,55.25 L89.16,54.3 L89.51,53.11 L89.86,53.54 L90.21,54.67 L90.57,54.9 L90.92,52.89 L91.27,52.14 L91.62,49.89 L91.97,50.98 L92.32,50.64 L92.67,49.27 L93.02,50.23 L93.37,49.86 L93.72,48.52 L94.07,48.07 L94.42,49.11 L94.77,49.13 L95.12,50.87 L95.47,49.02 L95.82,49.92 L96.17,49.37 L96.53,50.7 L96.88,50.36 L97.23,49.9 L97.58,49.76 L97.93,48.66 L98.28,49.72 L98.63,52.39 L98.98,51.45 L99.33,51.63 L99.68,51.35 L100.03,50.07 L100.38,50.74 L100.73,52.21 L101.08,51.57 L101.43,52.91 L101.78,52.63 L102.13,53.52 L102.49,52.9 L102.84,50.64 L103.19,54.13 L103.54,52.73 L103.89,52.47 L104.24,54.11 L104.59,53.91 L104.94,54.03 L105.29,53.86 L105.64,53.88 L105.99,55.75 L106.34,54.81 L106.69,55.09 L107.04,55.71 L107.39,55.68 L107.74,56.69 L108.09,55.57 L108.45,56.3 L108.8,54.56 L109.15,55.26 L109.5,56.33 L109.85,53.86 L110.2,56.71 L110.55,57.01 L110.9,55.69 L111.25,57.45 L111.6,56.21 L111.95,57.02 L112.3,55.9 L112.65,55.08 L113,55.87 L113.35,55.34 L113.7,55.5 L114.05,54.63 L114.41,55.21 L114.76,56.18 L115.11,55 L115.46,56.02 L115.81,56.26 L116.16,54.57 L116.51,55.45 L116.86,55.59 L117.21,55.28 L117.56,55.79 L117.91,57.34 L118.26,56.41 L118.61,57.08 L118.96,55.67 L119.31,55.77 L119.66,53.52 L120.01,54.53 L120.37,55.77 L120.72,55.63 L121.07,55.89 L121.42,54.62 L121.77,53.61 L122.12,54.08 L122.47,56.96 L122.82,54.87 L123.17,54.13 L123.52,54.3 L123.87,53.57 L124.22,55.48 L124.57,53.72 L124.92,55.52 L125.27,54.32 L125.62,54.41 L125.97,54.39 L126.33,54.76 L126.68,53.76 L127.03,55.21 L127.38,56.33 L127.73,54.55 L128.08,54.88 L128.43,56.34 L128.78,56.24 L129.13,55.8 L129.48,54.95 L129.83,55.21 L130.18,55.01 L130.53,56.81 L130.88,55.66 L131.23,55.05 L131.58,54.89 L131.93,55.12 L132.28,55.76 L132.64,53.1 L132.99,53.35 L133.34,54.45 L133.69,55.55 L134.04,52.96 L134.39,56.08 L134.74,54.57 L135.09,53.44 L135.44,55.1 L135.79,53.63 L136.14,54.06 L136.49,53.46 L136.84,54.05 L137.19,52.81 L137.54,53.84 L137.89,54.83 L138.24,53.5 L138.6,55.26 L138.95,56.16 L139.3,54.28 L139.65,57.62 L140,57.79 L140.35,56.65 L140.7,57.59 L141.05,58.31 L141.4,54.94 L141.75,55.98 L142.1,56.01 L142.45,55.29 L142.8,55.72 L143.15,55.87 L143.5,54.65 L143.85,53.38 L144.2,55.18 L144.56,55.19 L144.91,56.88 L145.26,55.74 L145.61,56.8 L145.96,54.64 L146.31,54.93 L146.66,54.45 L147.01,54.12 L147.36,54.88 L147.71,55.96 L148.06,54.06 L148.41,56.02 L148.76,56.13 L149.11,54.69 L149.46,55.25 L149.81,54.91 L150.16,54.09 L150.52,54.04 L150.87,54.2 L151.22,53.97 L151.57,53.6 L151.92,56.34 L152.27,54.8 L152.62,56.08 L152.97,55.61 L153.32,55.16 L153.67,54.87 L154.02,54.59 L154.37,54.32 L154.72,57.04 L155.07,54.89 L155.42,53.1 L155.77,54.89 L156.12,54.26 L156.48,55.94 L156.83,56.19 L157.18,56.12 L157.53,54.52 L157.88,54.9 L158.23,56.63 L158.58,56.8 L158.93,55.87 L159.28,57.77 L159.63,56.29 L159.98,54.88 L160.33,54.59 L160.68,56.03 L161.03,54.78 L161.38,57.62 L161.73,57.62 L162.08,59.31 L162.44,56.59 L162.79,57.26 L163.14,55.18 L163.49,56.48 L163.84,56.87 L164.19,57.92 L164.54,54.46 L164.89,56.37 L165.24,56.33 L165.59,58.52 L165.94,55.68 L166.29,55.14 L166.64,57.22 L166.99,56.2 L167.34,56.54 L167.69,56.39 L168.04,57.86 L168.4,55.4 L168.75,57.08 L169.1,57.28 L169.45,57.45 L169.8,58.78 L170.15,58.19 L170.5,56.51 L170.85,56.15 L171.2,57.27 L171.55,56.17 L171.9,57.91 L172.25,56.7 L172.6,55.91 L172.95,55.27 L173.3,56.46 L173.65,54.79 L174,54.09 L174.36,55.95 L174.71,54.87 L175.06,56.24 L175.41,56.32 L175.76,54.22 L176.11,55.81 L176.46,55.28 L176.81,55.6 L177.16,55.72 L177.51,55.55 L177.86,55.09 L178.21,56.21 L178.56,57.79 L178.91,55.24 L179.26,55.55 L179.61,54.79 L179.96,55.13 L180.32,53.19 L180.67,55.31 L181.02,54.1 L181.37,55.68 L181.72,54.6 L182.07,55.29 L182.42,54.97 L182.77,54.28 L183.12,55.54 L183.47,52.92 L183.82,55.21 L184.17,54.55 L184.52,53.68 L184.87,54.82 L185.22,53.64 L185.57,53.74 L185.92,53.55 L186.27,52.23 L186.63,54.08 L186.98,53.45 L187.33,54.67 L187.68,55.69 L188.03,55.34 L188.38,54.78 L188.73,54.43 L189.08,52.77 L189.43,55.6 L189.78,54.11 L190.13,55.28 L190.48,52.46 L190.83,54.49 L191.18,54.38 L191.53,54.6 L191.88,52.43 L192.23,54.1 L192.59,53.03 L192.94,55.31 L193.29,52.99 L193.64,53.75 L193.99,54.24 L194.34,53.57 L194.69,54.65 L195.04,54.67 L195.39,53.61 L195.74,53.98 L196.09,54.54 L196.44,54.88 L196.79,55.25 L197.14,54.46 L197.49,54.35 L197.84,55.09 L198.19,53.25 L198.55,56.88 L198.9,56.24 L199.25,54.45 L199.6,55.92 L199.95,56.65 L200.3,53.49 L200.65,53.59 L201,54.9 L201.35,53.17 L201.7,55.21 L202.05,55.85 L202.4,54.93 L202.75,55.01 L203.1,55.38 L203.45,54.68 L203.8,55.26 L204.15,53.99 L204.51,53.95 L204.86,53.12 L205.21,54.04 L205.56,55.05 L205.91,55.47 L206.26,54.24 L206.61,52.45 L206.96,53.13 L207.31,54.59 L207.66,52.17 L208.01,54.4 L208.36,52.6 L208.71,53.72 L209.06,53.21 L209.41,53.25 L209.76,53.23 L210.11,52.34 L210.47,53.38 L210.82,52.34 L211.17,51.38 L211.52,48.41 L211.87,51.6 L212.22,52.44 L212.57,53.45 L212.92,51.3 L213.27,53.66 L213.62,52.72 L213.97,52.69 L214.32,53.58 L214.67,50.21 L215.02,50.19 L215.37,52 L215.72,52.53 L216.07,53.21 L216.43,53.82 L216.78,51.95 L217.13,52.1 L217.48,51.98 L217.83,51.56 L218.18,53.31 L218.53,52.4 L218.88,54.37 L219.23,53.68 L219.58,52.6 L219.93,52.75 L220.28,53.8 L220.63,54.32 L220.98,52.26 L221.33,50.99 L221.68,53.69 L222.03,52.58 L222.39,52.09 L222.74,51.81 L223.09,53.41 L223.44,51.97 L223.79,52.54 L224.14,49.15 L224.49,50.73 L224.84,51.24 L225.19,50.93 L225.54,50.52 L225.89,51.5 L226.24,53.3 L226.59,52.5 L226.94,53.6 L227.29,53.28 L227.64,53.04 L227.99,52.52 L228.35,51.78 L228.7,52.38 L229.05,50.92 L229.4,50.49 L229.75,52.03 L230.1,52.77 L230.45,50.87 L230.8,53.41 L231.15,52.77 L231.5,50.08 L231.85,50.71 L232.2,50.53 L232.55,52.09 L232.9,52.85 L233.25,52.67 L233.6,51.38 L233.95,52.48 L234.31,52.1 L234.66,52.91 L235.01,53.44 L235.36,50.94 L235.71,51.47 L236.06,52.39 L236.41,52.27 L236.76,51.66 L237.11,50.04 L237.46,51.63 L237.81,50.36 L238.16,52.99 L238.51,51.99 L238.86,50.79 L239.21,50.58 L239.56,52.52 L239.91,52.15 L240.26,50.16 L240.62,52.19 L240.97,52.38 L241.32,51.83 L241.67,51.64 L242.02,51.1 L242.37,51.23 L242.72,52.68 L243.07,52.03 L243.42,51.6 L243.77,53.02 L244.12,52.74 L244.47,51.7 L244.82,53.83 L245.17,51.19 L245.52,52.1 L245.87,52.01 L246.22,52.37 L246.58,53.19 L246.93,53.03 L247.28,54.5 L247.63,54.17 L247.98,54.07 L248.33,52.08 L248.68,52.47 L249.03,54.24 L249.38,54.16 L249.73,54.88 L250.08,53.15 L250.43,53.91 L250.78,51.99 L251.13,54.83 L251.48,52.02 L251.83,52.85 L252.18,53.76 L252.54,52.83 L252.89,52.58 L253.24,52.5 L253.59,51.31 L253.94,53.44 L254.29,50.49 L254.64,51.44 L254.99,50.05 L255.34,51.73 L255.69,50.86 L256.04,50.71 L256.39,50.06 L256.74,51 L257.09,50.87 L257.44,50.2 L257.79,49.92 L258.14,49.11 L258.5,52.83 L258.85,51.32 L259.2,49.66 L259.55,52.26 L259.9,51.69 L260.25,50.38 L260.6,50.78 L260.95,53.02 L261.3,50.79" fill="none" stroke="#0000ff" stroke-width="1.6" stroke-linejoin="round"/><path d="M51.3,71.45 L51.65,68.99 L52,62.82 L52.35,60.16 L52.7,61.05 L53.05,61.11 L53.4,58.02 L53.75,57.87 L54.1,56.1 L54.46,59.27 L54.81,60.05 L55.16,58.23 L55.51,59.89 L55.86,59.04 L56.21,60.09 L56.56,56.69 L56.91,56.46 L57.26,57.51 L57.61,57.25 L57.96,58.09 L58.31,58.79 L58.66,56.7 L59.01,59.67 L59.36,57.98 L59.71,59.29 L60.06,59.73 L60.42,56.76 L60.77,58.21 L61.12,57.62 L61.47,57.12 L61.82,59.18 L62.17,56.3 L62.52,58.93 L62.87,56.72 L63.22,58.93 L63.57,58.8 L63.92,56.43 L64.27,56.75 L64.62,56.61 L64.97,59.08 L65.32,56.97 L65.67,59.5 L66.02,58.85 L66.38,58.94 L66.73,58.79 L67.08,57.83 L67.43,58.06 L67.78,56.25 L68.13,55.34 L68.48,57.91 L68.83,56.78 L69.18,55.58 L69.53,55.18 L69.88,52.94 L70.23,55.79 L70.58,53.12 L70.93,53.41 L71.28,56.84 L71.63,59.01 L71.98,57.44 L72.34,57.54 L72.69,56.7 L73.04,56.61 L73.39,54.95 L73.74,56.53 L74.09,53.7 L74.44,56.69 L74.79,55.28 L75.14,54.55 L75.49,55.89 L75.84,53.85 L76.19,56.35 L76.54,55.05 L76.89,56.59 L77.24,55.5 L77.59,54.5 L77.94,54.2 L78.29,54.36 L78.65,52.43 L79,54.97 L79.35,55.59 L79.7,54.03 L80.05,52.43 L80.4,52.47 L80.75,52.5 L81.1,54.85 L81.45,52.51 L81.8,52.71 L82.15,54.3 L82.5,53.97 L82.85,57.08 L83.2,54.27 L83.55,52.23 L83.9,55.94 L84.25,54.31 L84.61,53.2 L84.96,55.12 L85.31,54.62 L85.66,58.68 L86.01,56.86 L86.36,55.81 L86.71,57.46 L87.06,55.73 L87.41,53.83 L87.76,54.44 L88.11,54.18 L88.46,58.03 L88.81,55.3 L89.16,53.85 L89.51,54.55 L89.86,55.77 L90.21,52.24 L90.57,56.02 L90.92,56.92 L91.27,54.98 L91.62,55.35 L91.97,55.61 L92.32,54.88 L92.67,53.81 L93.02,54.45 L93.37,55.9 L93.72,54.75 L94.07,54.47 L94.42,55.86 L94.77,54.21 L95.12,55.27 L95.47,57.93 L95.82,55.64 L96.17,54.04 L96.53,54.49 L96.88,56.28 L97.23,55.24 L97.58,56.87 L97.93,57.64 L98.28,56.02 L98.63,55.7 L98.98,55.87 L99.33,55.75 L99.68,56.62 L100.03,58.09 L100.38,56.27 L100.73,55.91 L101.08,57.2 L101.43,55.94 L101.78,59.25 L102.13,58.03 L102.49,56.96 L102.84,56.67 L103.19,58.43 L103.54,58.2 L103.89,58.67 L104.24,57.36 L104.59,55.73 L104.94,58.44 L105.29,57.51 L105.64,58.88 L105.99,57.63 L106.34,59.15 L106.69,57.62 L107.04,60.06 L107.39,57.37 L107.74,57.68 L108.09,58.95 L108.45,55.02 L108.8,55.34 L109.15,58.71 L109.5,54.99 L109.85,58.52 L110.2,57.17 L110.55,55.15 L110.9,58.96 L111.25,54.76 L111.6,55.95 L111.95,56.43 L112.3,57.23 L112.65,56.17 L113,56.91 L113.35,56.23 L113.7,55.77 L114.05,56.33 L114.41,53.17 L114.76,56.58 L115.11,55.55 L115.46,55.42 L115.81,54.84 L116.16,54.79 L116.51,54.8 L116.86,55.82 L117.21,56.52 L117.56,56.4 L117.91,55.93 L118.26,55.6 L118.61,57.36 L118.96,58.66 L119.31,53.24 L119.66,54.36 L120.01,56.19 L120.37,56.01 L120.72,56.24 L121.07,56.98 L121.42,55.6 L121.77,55.18 L122.12,55.45 L122.47,56.63 L122.82,55.84 L123.17,55.12 L123.52,56.24 L123.87,55.39 L124.22,57.39 L124.57,55.68 L124.92,55.59 L125.27,56.56 L125.62,58.18 L125.97,56.35 L126.33,58.05 L126.68,56.67 L127.03,57.55 L127.38,56.19 L127.73,57.32 L128.08,57.65 L128.43,55.55 L128.78,56.46 L129.13,54.92 L129.48,56.34 L129.83,54.68 L130.18,53.25 L130.53,52.77 L130.88,52.71 L131.23,52.14 L131.58,52.38 L131.93,50.66 L132.28,50.1 L132.64,49.79 L132.99,49.2 L133.34,49.65 L133.69,46.16 L134.04,48.32 L134.39,48.08 L134.74,48.89 L135.09,48.09 L135.44,47.63 L135.79,49.53 L136.14,49.03 L136.49,46.45 L136.84,48.8 L137.19,46.85 L137.54,46.53 L137.89,44.92 L138.24,44.22 L138.6,45.05 L138.95,45.36 L139.3,47.12 L139.65,47.22 L140,47.08 L140.35,49.31 L140.7,46.18 L141.05,45.99 L141.4,46.1 L141.75,47.34 L142.1,46.16 L142.45,47.37 L142.8,47.08 L143.15,48.18 L143.5,47.26 L143.85,45.06 L144.2,46.16 L144.56,45.45 L144.91,47.4 L145.26,45.16 L145.61,47.64 L145.96,45.57 L146.31,46.03 L146.66,46.85 L147.01,43.41 L147.36,43.56 L147.71,43.82 L148.06,43.91 L148.41,43.28 L148.76,43.92 L149.11,42.18 L149.46,42.19 L149.81,42.22 L150.16,43.29 L150.52,44.18 L150.87,43.94 L151.22,44.37 L151.57,44.01 L151.92,42.14 L152.27,45.51 L152.62,43.85 L152.97,46.72 L153.32,46.44 L153.67,44.93 L154.02,48.36 L154.37,48.31 L154.72,45.76 L155.07,46.71 L155.42,46.43 L155.77,46.33 L156.12,43.81 L156.48,46.14 L156.83,47.61 L157.18,44.58 L157.53,45.67 L157.88,46.6 L158.23,44.14 L158.58,45.08 L158.93,43.89 L159.28,44.17 L159.63,46.54 L159.98,44.45 L160.33,45.19 L160.68,47.55 L161.03,46.56 L161.38,44.9 L161.73,46.26 L162.08,46.6 L162.44,46.05 L162.79,46.5 L163.14,48.51 L163.49,46.19 L163.84,47.24 L164.19,46.35 L164.54,46.25 L164.89,48.87 L165.24,48.83 L165.59,48.25 L165.94,49.61 L166.29,47.83 L166.64,47.4 L166.99,48.8 L167.34,46.04 L167.69,46.65 L168.04,47.2 L168.4,45.8 L168.75,46.25 L169.1,46.82 L169.45,46.71 L169.8,45.04 L170.15,46.96 L170.5,48.96 L170.85,48.34 L171.2,48.66 L171.55,50.04 L171.9,49.7 L172.25,49.89 L172.6,49.33 L172.95,47.29 L173.3,46.79 L173.65,45.54 L174,45.59 L174.36,45.27 L174.71,44.95 L175.06,43.58 L175.41,44.53 L175.76,42.9 L176.11,43.41 L176.46,42.6 L176.81,41.96 L177.16,42.49 L177.51,42.49 L177.86,42.92 L178.21,41.79 L178.56,42.27 L178.91,42.28 L179.26,42.64 L179.61,42.49 L179.96,44.97 L180.32,44.79 L180.67,47.6 L181.02,46.65 L181.37,45.41 L181.72,41 L182.07,44.42 L182.42,41.42 L182.77,39.68 L183.12,41.26 L183.47,38.69 L183.82,39.29 L184.17,40.13 L184.52,39.13 L184.87,41.83 L185.22,44 L185.57,42.34 L185.92,42.66 L186.27,44.46 L186.63,43.26 L186.98,38.59 L187.33,41.97 L187.68,41.8 L188.03,42.56 L188.38,41.11 L188.73,41.83 L189.08,42.75 L189.43,43.34 L189.78,44.84 L190.13,43.89 L190.48,41.92 L190.83,39.79 L191.18,40.34 L191.53,39.22 L191.88,40.21 L192.23,40.79 L192.59,42.69 L192.94,41.43 L193.29,43.72 L193.64,40.95 L193.99,38.02 L194.34,39.37 L194.69,39.25 L195.04,41.49 L195.39,42.78 L195.74,41.06 L196.09,40.94 L196.44,39.48 L196.79,39.32 L197.14,41.74 L197.49,41.31 L197.84,41.29 L198.19,41.58 L198.55,41.55 L198.9,40.39 L199.25,39.16 L199.6,38.57 L199.95,40.48 L200.3,39.01 L200.65,41.07 L201,39.02 L201.35,41.38 L201.7,41.27 L202.05,41.17 L202.4,41.37 L202.75,41.56 L203.1,41.87 L203.45,40.26 L203.8,41.53 L204.15,42.59 L204.51,40.36 L204.86,43.08 L205.21,42.12 L205.56,41.64 L205.91,41.41 L206.26,41.83 L206.61,41.92 L206.96,43.63 L207.31,42.48 L207.66,41.42 L208.01,45.08 L208.36,43.37 L208.71,41.5 L209.06,41.71 L209.41,44.67 L209.76,42.34 L210.11,44.13 L210.47,43.6 L210.82,43.82 L211.17,45.6 L211.52,43.8 L211.87,45.48 L212.22,45.26 L212.57,44.93 L212.92,44.62 L213.27,43.8 L213.62,43.56 L213.97,41.29 L214.32,42.97 L214.67,44.51 L215.02,42.52 L215.37,43.02 L215.72,42.23 L216.07,42.26 L216.43,43.22 L216.78,40.47 L217.13,42.09 L217.48,42.83 L217.83,42.39 L218.18,41.75 L218.53,39.44 L218.88,40.69 L219.23,40.03 L219.58,43.17 L219.93,40.51 L220.28,39.77 L220.63,38.42 L220.98,40.6 L221.33,42.24 L221.68,39.92 L222.03,40.92 L222.39,41.62 L222.74,40.83 L223.09,39.19 L223.44,39.33 L223.79,40.31 L224.14,42.37 L224.49,39.48 L224.84,42.98 L225.19,40.87 L225.54,41.44 L225.89,38.02 L226.24,39.91 L226.59,38.67 L226.94,40.14 L227.29,40.43 L227.64,39.08 L227.99,42.1 L228.35,38.59 L228.7,38.59 L229.05,40.16 L229.4,40.37 L229.75,39.76 L230.1,38.71 L230.45,39.21 L230.8,38.85 L231.15,40.38 L231.5,41.72 L231.85,40.88 L232.2,40.82 L232.55,41.69 L232.9,41.04 L233.25,40.23 L233.6,41.36 L233.95,41.54 L234.31,40.46 L234.66,41.43 L235.01,41.89 L235.36,39.96 L235.71,41.18 L236.06,38.89 L236.41,42.16 L236.76,39.33 L237.11,40.66 L237.46,39.34 L237.81,40.55 L238.16,41.01 L238.51,40.32 L238.86,42.35 L239.21,42.78 L239.56,41.72 L239.91,40.51 L240.26,41.47 L240.62,41.38 L240.97,42.49 L241.32,41.19 L241.67,40.62 L242.02,38.33 L242.37,38.87 L242.72,39.35 L243.07,37.77 L243.42,39.34 L243.77,39.64 L244.12,40.16 L244.47,41.83 L244.82,39.53 L245.17,40.34 L245.52,40.59 L245.87,41.35 L246.22,39.55 L246.58,39.54 L246.93,41.49 L247.28,42.48 L247.63,41.57 L247.98,44.33 L248.33,44.28 L248.68,42.02 L249.03,42.93 L249.38,43.36 L249.73,43.72 L250.08,43.17 L250.43,42.78 L250.78,44.29 L251.13,45.29 L251.48,44.18 L251.83,43.71 L252.18,43.59 L252.54,43.26 L252.89,46.15 L253.24,44.07 L253.59,43.79 L253.94,44.42 L254.29,46.15 L254.64,42.38 L254.99,43.77 L255.34,44.03 L255.69,43.29 L256.04,42.98 L256.39,43.4 L256.74,42.95 L257.09,44.49 L257.44,46.56 L257.79,46.82 L258.14,45.99 L258.5,46.37 L258.85,42.65 L259.2,45.29 L259.55,42.55 L259.9,44.26 L260.25,45.59 L260.6,44.31 L260.95,43.68 L261.3,44.77" fill="none" stroke="#ffd700" stroke-width="1.6" stroke-linejoin="round"/><path d="M51.3,72.55 L51.65,69.94 L52,64.55 L52.35,60.71 L52.7,60.18 L53.05,60.69 L53.4,60.82 L53.75,60.73 L54.1,60.68 L54.46,59.38 L54.81,59.45 L55.16,59.37 L55.51,60.16 L55.86,58.79 L56.21,57.4 L56.56,58.96 L56.91,59.97 L57.26,56.98 L57.61,58.24 L57.96,61.19 L58.31,57.89 L58.66,57.01 L59.01,56.19 L59.36,55.99 L59.71,56.17 L60.06,56.69 L60.42,59.05 L60.77,58.73 L61.12,57.31 L61.47,57.84 L61.82,60.5 L62.17,59.67 L62.52,59.48 L62.87,61.09 L63.22,61.33 L63.57,59.41 L63.92,58.89 L64.27,59.43 L64.62,61.53 L64.97,59.33 L65.32,60.81 L65.67,58.12 L66.02,58.3 L66.38,57.29 L66.73,56.85 L67.08,58.36 L67.43,58.05 L67.78,57.27 L68.13,57.73 L68.48,57.08 L68.83,58.73 L69.18,56.48 L69.53,57.27 L69.88,58.12 L70.23,57.19 L70.58,58.86 L70.93,59.22 L71.28,58.83 L71.63,57.51 L71.98,59.49 L72.34,59.26 L72.69,61.43 L73.04,59.71 L73.39,58.49 L73.74,58.21 L74.09,58.08 L74.44,59.06 L74.79,59.43 L75.14,58.49 L75.49,59.77 L75.84,58.81 L76.19,58.09 L76.54,60.11 L76.89,57.06 L77.24,59.77 L77.59,58.5 L77.94,59.96 L78.29,58.06 L78.65,59.64 L79,59.62 L79.35,59.94 L79.7,60.83 L80.05,59.29 L80.4,58.62 L80.75,59.64 L81.1,57.98 L81.45,59.25 L81.8,59.59 L82.15,57.8 L82.5,62 L82.85,59.47 L83.2,60.76 L83.55,58.63 L83.9,59.11 L84.25,54.68 L84.61,56.96 L84.96,56.38 L85.31,56.22 L85.66,57.45 L86.01,57.73 L86.36,57.33 L86.71,59.4 L87.06,58.69 L87.41,58.59 L87.76,60.72 L88.11,59.52 L88.46,58.22 L88.81,57.86 L89.16,59.57 L89.51,58.28 L89.86,58.56 L90.21,57.62 L90.57,57.02 L90.92,58.16 L91.27,57.73 L91.62,59.17 L91.97,59.99 L92.32,58.37 L92.67,61.11 L93.02,59.52 L93.37,59.89 L93.72,60.43 L94.07,58.54 L94.42,60.03 L94.77,58.97 L95.12,58.83 L95.47,58.72 L95.82,56.45 L96.17,61.92 L96.53,59.46 L96.88,59.54 L97.23,57.58 L97.58,58.79 L97.93,60.85 L98.28,56.63 L98.63,59.21 L98.98,57.92 L99.33,58.82 L99.68,58.1 L100.03,57.85 L100.38,57.47 L100.73,57.87 L101.08,59.09 L101.43,59.27 L101.78,60.22 L102.13,59.22 L102.49,59.3 L102.84,59.25 L103.19,59.28 L103.54,57.84 L103.89,57.58 L104.24,56.89 L104.59,57.1 L104.94,55.2 L105.29,55.97 L105.64,55.39 L105.99,56.22 L106.34,55.84 L106.69,59.36 L107.04,55.67 L107.39,57.97 L107.74,58.34 L108.09,56.78 L108.45,54.7 L108.8,55.63 L109.15,58.03 L109.5,56.68 L109.85,55.03 L110.2,57.81 L110.55,56.55 L110.9,56.63 L111.25,54.12 L111.6,57.17 L111.95,55.79 L112.3,57.56 L112.65,57.66 L113,56.34 L113.35,56.98 L113.7,59.65 L114.05,56.98 L114.41,56.66 L114.76,57.73 L115.11,57.06 L115.46,56.79 L115.81,58.18 L116.16,59.69 L116.51,59.4 L116.86,59.55 L117.21,60.76 L117.56,59.64 L117.91,60.31 L118.26,58.94 L118.61,58.5 L118.96,59.37 L119.31,57.71 L119.66,57.04 L120.01,56.92 L120.37,59.09 L120.72,55.51 L121.07,55.27 L121.42,55.23 L121.77,55.49 L122.12,54.82 L122.47,53.17 L122.82,54.11 L123.17,55.44 L123.52,54.32 L123.87,55.01 L124.22,53.58 L124.57,51.78 L124.92,54.58 L125.27,53.87 L125.62,54.16 L125.97,54.59 L126.33,53.77 L126.68,53.34 L127.03,55.36 L127.38,54.98 L127.73,51.95 L128.08,53.22 L128.43,52.45 L128.78,53.61 L129.13,52.83 L129.48,51.31 L129.83,51.59 L130.18,52.24 L130.53,50.91 L130.88,49.82 L131.23,51.07 L131.58,47.8 L131.93,46.97 L132.28,48.37 L132.64,46.87 L132.99,47.31 L133.34,47.25 L133.69,47.09 L134.04,49.33 L134.39,50.06 L134.74,48.32 L135.09,48.63 L135.44,48.51 L135.79,49.28 L136.14,46.35 L136.49,48.95 L136.84,46.6 L137.19,48.08 L137.54,46.82 L137.89,45.17 L138.24,48.91 L138.6,47.72 L138.95,48.37 L139.3,48.7 L139.65,47.34 L140,49.22 L140.35,49.28 L140.7,47.16 L141.05,46.39 L141.4,47.1 L141.75,47.7 L142.1,42.39 L142.45,43.96 L142.8,44.62 L143.15,45.57 L143.5,45.32 L143.85,44.64 L144.2,46.14 L144.56,43.79 L144.91,45.88 L145.26,45.78 L145.61,47.98 L145.96,47.38 L146.31,47.96 L146.66,45.38 L147.01,44.82 L147.36,44.16 L147.71,43.67 L148.06,44.1 L148.41,42.04 L148.76,43.71 L149.11,44.27 L149.46,43.69 L149.81,41.53 L150.16,44.19 L150.52,43.6 L150.87,45.11 L151.22,44.68 L151.57,44.5 L151.92,45.86 L152.27,45.49 L152.62,43.77 L152.97,43.66 L153.32,43.13 L153.67,44.65 L154.02,45.5 L154.37,45.22 L154.72,44.78 L155.07,47.63 L155.42,45.83 L155.77,48.24 L156.12,46.95 L156.48,46.8 L156.83,47.42 L157.18,45.19 L157.53,47 L157.88,46.35 L158.23,45.54 L158.58,45.86 L158.93,44.9 L159.28,46.41 L159.63,45.61 L159.98,47.66 L160.33,45.91 L160.68,46.76 L161.03,45.58 L161.38,46.26 L161.73,44.6 L162.08,43.24 L162.44,45.84 L162.79,45.78 L163.14,45.85 L163.49,42.52 L163.84,42.92 L164.19,44.64 L164.54,44.25 L164.89,45.37 L165.24,45.06 L165.59,45.31 L165.94,45.97 L166.29,46.53 L166.64,46.01 L166.99,45.21 L167.34,46.2 L167.69,47.93 L168.04,46.56 L168.4,45.17 L168.75,47.57 L169.1,47.56 L169.45,49.06 L169.8,46.65 L170.15,47.7 L170.5,46.49 L170.85,45.72 L171.2,42.42 L171.55,45.03 L171.9,46.22 L172.25,45.27 L172.6,44.86 L172.95,43.96 L173.3,47.33 L173.65,48.15 L174,47.2 L174.36,47.11 L174.71,46.94 L175.06,45.75 L175.41,48.95 L175.76,49.31 L176.11,48.74 L176.46,48.77 L176.81,49.6 L177.16,49.9 L177.51,49.34 L177.86,47.43 L178.21,48.27 L178.56,46.22 L178.91,50.76 L179.26,49.42 L179.61,51.57 L179.96,50.64 L180.32,51.8 L180.67,52.67 L181.02,52.66 L181.37,52.46 L181.72,52.41 L182.07,52.68 L182.42,51.98 L182.77,53.94 L183.12,53.28 L183.47,52.07 L183.82,53.77 L184.17,54.58 L184.52,54.45 L184.87,54.69 L185.22,53.64 L185.57,55.11 L185.92,52.38 L186.27,52.14 L186.63,52.91 L186.98,55.68 L187.33,57.28 L187.68,55.48 L188.03,52.98 L188.38,53.06 L188.73,54.7 L189.08,54.57 L189.43,52.38 L189.78,55.04 L190.13,53.18 L190.48,54.26 L190.83,56.65 L191.18,54.37 L191.53,54.28 L191.88,54.85 L192.23,56 L192.59,55.5 L192.94,52.9 L193.29,53.59 L193.64,53.5 L193.99,54.73 L194.34,53.46 L194.69,53.93 L195.04,56.06 L195.39,55.87 L195.74,53.49 L196.09,53.26 L196.44,54.41 L196.79,53.99 L197.14,53.48 L197.49,52.86 L197.84,56.16 L198.19,54.82 L198.55,53.42 L198.9,54.76 L199.25,53.95 L199.6,58.04 L199.95,54.08 L200.3,54.6 L200.65,56.34 L201,53.78 L201.35,53 L201.7,52.8 L202.05,53.09 L202.4,53.47 L202.75,53.88 L203.1,52.7 L203.45,51.79 L203.8,51.13 L204.15,52.23 L204.51,52.55 L204.86,51.45 L205.21,52.18 L205.56,49.94 L205.91,50.29 L206.26,54.3 L206.61,54.4 L206.96,54.83 L207.31,54.04 L207.66,52.6 L208.01,54.06 L208.36,53.47 L208.71,53.36 L209.06,52.59 L209.41,54.54 L209.76,53.91 L210.11,52.54 L210.47,53.38 L210.82,54.42 L211.17,53.98 L211.52,55.41 L211.87,54.34 L212.22,55.47 L212.57,53.37 L212.92,54.33 L213.27,56.18 L213.62,53.33 L213.97,56.38 L214.32,54.39 L214.67,55.17 L215.02,56.29 L215.37,56.65 L215.72,55.65 L216.07,55.22 L216.43,56.46 L216.78,55.48 L217.13,57.19 L217.48,55.06 L217.83,54.32 L218.18,56.86 L218.53,54.03 L218.88,55.35 L219.23,56.81 L219.58,54.71 L219.93,54 L220.28,52 L220.63,54.33 L220.98,52.15 L221.33,52.48 L221.68,53.15 L222.03,52.42 L222.39,53.19 L222.74,54.96 L223.09,54.04 L223.44,53.72 L223.79,55.36 L224.14,55.35 L224.49,56.8 L224.84,54.39 L225.19,54.55 L225.54,55.28 L225.89,53.93 L226.24,53.6 L226.59,53.56 L226.94,53.08 L227.29,53.53 L227.64,56.72 L227.99,54.87 L228.35,53.94 L228.7,53.28 L229.05,52.74 L229.4,56.35 L229.75,54.92 L230.1,54.51 L230.45,53.65 L230.8,53.02 L231.15,54.77 L231.5,54.64 L231.85,55.61 L232.2,54.18 L232.55,55.51 L232.9,53.56 L233.25,53.27 L233.6,52.86 L233.95,55.73 L234.31,53.76 L234.66,53.52 L235.01,55.9 L235.36,55.5 L235.71,55.05 L236.06,53.82 L236.41,54.72 L236.76,53.98 L237.11,54.38 L237.46,54.12 L237.81,54.5 L238.16,54.35 L238.51,55.24 L238.86,52.61 L239.21,55.84 L239.56,52.52 L239.91,54.23 L240.26,52.36 L240.62,53.2 L240.97,52.55 L241.32,52.9 L241.67,55.23 L242.02,53.77 L242.37,54.13 L242.72,53.33 L243.07,55.5 L243.42,55.02 L243.77,54.72 L244.12,55 L244.47,54.64 L244.82,56.16 L245.17,52.82 L245.52,54.07 L245.87,52.27 L246.22,55.19 L246.58,56.75 L246.93,55.12 L247.28,57.3 L247.63,55.59 L247.98,56.09 L248.33,55.8 L248.68,54.68 L249.03,54.13 L249.38,52.08 L249.73,54.19 L250.08,56.48 L250.43,53.42 L250.78,55.89 L251.13,54.76 L251.48,56.06 L251.83,55.21 L252.18,52.74 L252.54,54.26 L252.89,54.8 L253.24,54.8 L253.59,54.61 L253.94,52.71 L254.29,56.56 L254.64,56.57 L254.99,55.25 L255.34,56.49 L255.69,54.19 L256.04,51.64 L256.39,52.42 L256.74,53.3 L257.09,53.06 L257.44,53.5 L257.79,52.91 L258.14,52.78 L258.5,52.01 L258.85,52.05 L259.2,52.68 L259.55,53 L259.9,50.36 L260.25,51.65 L260.6,51.31 L260.95,51.47 L261.3,53.06" fill="none" stroke="#009090" stroke-width="1.6" stroke-linejoin="round"/><path d="M41.1,23.3 L41.1,75.3 L272,75.3" fill="none" stroke="#111" stroke-width="1.1"/><text x="59.6" y="23" font-family="'Liberation Sans', Arial, Helvetica, sans-serif" font-weight="bold" font-size="7.9" fill="#111" style="stroke-width:0.3px">FORM I</text><line x1="44.2" y1="28.6" x2="52.2" y2="28.6" stroke="#000000" stroke-width="1.9"/><text x="53.6" y="30.4" font-family="'Liberation Sans', Arial, Helvetica, sans-serif" font-weight="bold" font-size="5.9" fill="#111" style="stroke-width:0.3px">1WDD</text><line x1="71.7" y1="28.6" x2="79.7" y2="28.6" stroke="#ff0000" stroke-width="1.9"/><text x="81.1" y="30.4" font-family="'Liberation Sans', Arial, Helvetica, sans-serif" font-weight="bold" font-size="5.9" fill="#111" style="stroke-width:0.3px">1IWA</text><line x1="44.2" y1="34.9" x2="52.2" y2="34.9" stroke="#008000" stroke-width="1.9"/><text x="53.6" y="36.7" font-family="'Liberation Sans', Arial, Helvetica, sans-serif" font-weight="bold" font-size="5.9" fill="#111" style="stroke-width:0.3px">4RUB</text><line x1="71.7" y1="34.9" x2="79.7" y2="34.9" stroke="#0000ff" stroke-width="1.9"/><text x="81.1" y="36.7" font-family="'Liberation Sans', Arial, Helvetica, sans-serif" font-weight="bold" font-size="5.9" fill="#111" style="stroke-width:0.3px">1GK8</text><line x1="44.2" y1="41.5" x2="52.2" y2="41.5" stroke="#ffd700" stroke-width="1.9"/><text x="53.6" y="43.3" font-family="'Liberation Sans', Arial, Helvetica, sans-serif" font-weight="bold" font-size="5.9" fill="#111" style="stroke-width:0.3px">5IU0</text><line x1="71.7" y1="41.5" x2="79.7" y2="41.5" stroke="#009090" stroke-width="1.9"/><text x="81.1" y="43.3" font-family="'Liberation Sans', Arial, Helvetica, sans-serif" font-weight="bold" font-size="5.9" fill="#111" style="stroke-width:0.3px">6FTL</text><text x="12.4" y="107.1" font-family="'Liberation Sans', Arial, Helvetica, sans-serif" font-weight="bold" font-size="10.5" fill="#111">c)</text><text transform="translate(18.6,137.2) rotate(-90)" text-anchor="middle" font-family="'Liberation Sans', Arial, Helvetica, sans-serif" font-weight="bold" font-size="8.8" fill="#111">RMSD (nm)</text><line x1="39.3" y1="157.8" x2="41.1" y2="157.8" stroke="#111" stroke-width="0.8"/><text x="37.6" y="161.2" text-anchor="end" font-family="'Liberation Sans', Arial, Helvetica, sans-serif" font-weight="bold" font-size="8.2" fill="#222" color="#222">0.05</text><line x1="39.3" y1="146.8" x2="41.1" y2="146.8" stroke="#111" stroke-width="0.8"/><text x="37.6" y="150.2" text-anchor="end" font-family="'Liberation Sans', Arial, Helvetica, sans-serif" font-weight="bold" font-size="8.2" fill="#222" color="#222">0.25</text><line x1="39.3" y1="135.8" x2="41.1" y2="135.8" stroke="#111" stroke-width="0.8"/><text x="37.6" y="139.2" text-anchor="end" font-family="'Liberation Sans', Arial, Helvetica, sans-serif" font-weight="bold" font-size="8.2" fill="#222" color="#222">0.45</text><line x1="39.3" y1="124.8" x2="41.1" y2="124.8" stroke="#111" stroke-width="0.8"/><text x="37.6" y="128.2" text-anchor="end" font-family="'Liberation Sans', Arial, Helvetica, sans-serif" font-weight="bold" font-size="8.2" fill="#222" color="#222">0.65</text><line x1="39.3" y1="113.8" x2="41.1" y2="113.8" stroke="#111" stroke-width="0.8"/><text x="37.6" y="117.2" text-anchor="end" font-family="'Liberation Sans', Arial, Helvetica, sans-serif" font-weight="bold" font-size="8.2" fill="#222" color="#222">0.85</text><line x1="51.3" y1="163.3" x2="51.3" y2="164.9" stroke="#111" stroke-width="0.8"/><text x="51.3" y="172.2" text-anchor="middle" font-family="'Liberation Sans', Arial, Helvetica, sans-serif" font-weight="bold" font-size="8.4" fill="#111">0</text><line x1="72.3" y1="163.3" x2="72.3" y2="164.9" stroke="#111" stroke-width="0.8"/><text x="72.3" y="172.2" text-anchor="middle" font-family="'Liberation Sans', Arial, Helvetica, sans-serif" font-weight="bold" font-size="8.4" fill="#111">5</text><line x1="93.3" y1="163.3" x2="93.3" y2="164.9" stroke="#111" stroke-width="0.8"/><text x="93.3" y="172.2" text-anchor="middle" font-family="'Liberation Sans', Arial, Helvetica, sans-serif" font-weight="bold" font-size="8.4" fill="#111">10</text><line x1="114.3" y1="163.3" x2="114.3" y2="164.9" stroke="#111" stroke-width="0.8"/><text x="114.3" y="172.2" text-anchor="middle" font-family="'Liberation Sans', Arial, Helvetica, sans-serif" font-weight="bold" font-size="8.4" fill="#111">15</text><line x1="135.3" y1="163.3" x2="135.3" y2="164.9" stroke="#111" stroke-width="0.8"/><text x="135.3" y="172.2" text-anchor="middle" font-family="'Liberation Sans', Arial, Helvetica, sans-serif" font-weight="bold" font-size="8.4" fill="#111">20</text><line x1="156.3" y1="163.3" x2="156.3" y2="164.9" stroke="#111" stroke-width="0.8"/><text x="156.3" y="172.2" text-anchor="middle" font-family="'Liberation Sans', Arial, Helvetica, sans-serif" font-weight="bold" font-size="8.4" fill="#111">25</text><line x1="177.3" y1="163.3" x2="177.3" y2="164.9" stroke="#111" stroke-width="0.8"/><text x="177.3" y="172.2" text-anchor="middle" font-family="'Liberation Sans', Arial, Helvetica, sans-serif" font-weight="bold" font-size="8.4" fill="#111">30</text><line x1="198.3" y1="163.3" x2="198.3" y2="164.9" stroke="#111" stroke-width="0.8"/><text x="198.3" y="172.2" text-anchor="middle" font-family="'Liberation Sans', Arial, Helvetica, sans-serif" font-weight="bold" font-size="8.4" fill="#111">35</text><line x1="219.3" y1="163.3" x2="219.3" y2="164.9" stroke="#111" stroke-width="0.8"/><text x="219.3" y="172.2" text-anchor="middle" font-family="'Liberation Sans', Arial, Helvetica, sans-serif" font-weight="bold" font-size="8.4" fill="#111">40</text><line x1="240.3" y1="163.3" x2="240.3" y2="164.9" stroke="#111" stroke-width="0.8"/><text x="240.3" y="172.2" text-anchor="middle" font-family="'Liberation Sans', Arial, Helvetica, sans-serif" font-weight="bold" font-size="8.4" fill="#111">45</text><line x1="261.3" y1="163.3" x2="261.3" y2="164.9" stroke="#111" stroke-width="0.8"/><text x="261.3" y="172.2" text-anchor="middle" font-family="'Liberation Sans', Arial, Helvetica, sans-serif" font-weight="bold" font-size="8.4" fill="#111">50</text><text x="157" y="182" text-anchor="middle" font-family="'Liberation Sans', Arial, Helvetica, sans-serif" font-weight="bold" font-size="8.8" fill="#111">Time (ns)</text><path d="M51.3,160.55 L51.65,158.94 L52,157.84 L52.35,154.63 L52.7,155.06 L53.05,155.33 L53.4,156.66 L53.75,155.04 L54.1,155.55 L54.46,153.15 L54.81,153.67 L55.16,154.21 L55.51,153.89 L55.86,151.39 L56.21,152.17 L56.56,153.88 L56.91,152.64 L57.26,153.6 L57.61,153.67 L57.96,152.32 L58.31,151.05 L58.66,151.32 L59.01,152.84 L59.36,152.83 L59.71,152.68 L60.06,151.89 L60.42,153.08 L60.77,153.16 L61.12,150.79 L61.47,151.89 L61.82,151.08 L62.17,152.4 L62.52,151.85 L62.87,153.18 L63.22,152.14 L63.57,151.94 L63.92,152.21 L64.27,152.94 L64.62,151.87 L64.97,153.21 L65.32,153.27 L65.67,152.27 L66.02,151.33 L66.38,151.09 L66.73,153.23 L67.08,151.58 L67.43,151.53 L67.78,152.19 L68.13,153.82 L68.48,151.41 L68.83,151.9 L69.18,152 L69.53,153.27 L69.88,153.25 L70.23,151.72 L70.58,151.9 L70.93,151.99 L71.28,152.37 L71.63,151.85 L71.98,152.37 L72.34,152.56 L72.69,153.75 L73.04,152.54 L73.39,152.35 L73.74,151.76 L74.09,152 L74.44,152.81 L74.79,150.49 L75.14,152.25 L75.49,150.65 L75.84,150.2 L76.19,149.9 L76.54,152.19 L76.89,150.1 L77.24,149.53 L77.59,149.2 L77.94,151.49 L78.29,150.61 L78.65,149.9 L79,150.58 L79.35,149.23 L79.7,151.57 L80.05,150.52 L80.4,150.65 L80.75,152.16 L81.1,151.72 L81.45,151.84 L81.8,150.81 L82.15,149.93 L82.5,150.75 L82.85,149.81 L83.2,151.44 L83.55,152 L83.9,150.06 L84.25,150.04 L84.61,150.7 L84.96,150.7 L85.31,149.52 L85.66,148.64 L86.01,149.88 L86.36,150.31 L86.71,150.22 L87.06,148.83 L87.41,150.53 L87.76,149.8 L88.11,149.43 L88.46,149.38 L88.81,150.11 L89.16,148.94 L89.51,148.97 L89.86,149.44 L90.21,149.3 L90.57,150.42 L90.92,150.55 L91.27,151.51 L91.62,150.01 L91.97,150.96 L92.32,149.77 L92.67,150.74 L93.02,149.98 L93.37,149.89 L93.72,149.41 L94.07,149.59 L94.42,149.32 L94.77,149.62 L95.12,150.76 L95.47,147.59 L95.82,148.78 L96.17,147.95 L96.53,148.52 L96.88,147.05 L97.23,148.4 L97.58,147.28 L97.93,147.12 L98.28,147.08 L98.63,147.23 L98.98,148.11 L99.33,149.57 L99.68,147.47 L100.03,147.64 L100.38,148.06 L100.73,148.3 L101.08,148.58 L101.43,148.95 L101.78,147.63 L102.13,147.54 L102.49,148.51 L102.84,147.34 L103.19,148.5 L103.54,147.97 L103.89,148.38 L104.24,147.73 L104.59,148.32 L104.94,147.99 L105.29,149.58 L105.64,148.05 L105.99,149.13 L106.34,149.75 L106.69,148.46 L107.04,149.45 L107.39,148.03 L107.74,147.91 L108.09,149.39 L108.45,148.69 L108.8,148.85 L109.15,149.06 L109.5,150.47 L109.85,149.13 L110.2,149.45 L110.55,149.19 L110.9,149.96 L111.25,149.18 L111.6,149.93 L111.95,149.56 L112.3,149.14 L112.65,150.71 L113,150.07 L113.35,150.07 L113.7,149.75 L114.05,150.28 L114.41,149.25 L114.76,149.15 L115.11,150.54 L115.46,149.66 L115.81,149.59 L116.16,150.53 L116.51,149.47 L116.86,148.76 L117.21,150.14 L117.56,151.05 L117.91,149.78 L118.26,150.36 L118.61,149 L118.96,150.54 L119.31,150.29 L119.66,150.82 L120.01,150.99 L120.37,151.4 L120.72,152.31 L121.07,150.92 L121.42,151.11 L121.77,149.36 L122.12,151.27 L122.47,150.84 L122.82,151.25 L123.17,151.63 L123.52,149.7 L123.87,152.15 L124.22,149.38 L124.57,151.1 L124.92,150.37 L125.27,149.52 L125.62,152.42 L125.97,151.99 L126.33,149.85 L126.68,149.98 L127.03,149.86 L127.38,149.35 L127.73,149.58 L128.08,148.26 L128.43,147.32 L128.78,148.55 L129.13,147.92 L129.48,147.23 L129.83,146.87 L130.18,148.88 L130.53,148.23 L130.88,148.98 L131.23,148.7 L131.58,148.59 L131.93,148.2 L132.28,148.54 L132.64,149.14 L132.99,147.88 L133.34,147.41 L133.69,146.18 L134.04,147.22 L134.39,147 L134.74,146.21 L135.09,146.36 L135.44,146.86 L135.79,146.78 L136.14,145.58 L136.49,147.05 L136.84,147.56 L137.19,148.2 L137.54,147.23 L137.89,147.51 L138.24,145.88 L138.6,147.23 L138.95,146.68 L139.3,145.63 L139.65,145.34 L140,147.44 L140.35,145.81 L140.7,146.47 L141.05,146.82 L141.4,146.71 L141.75,147.19 L142.1,147.11 L142.45,148.67 L142.8,146.45 L143.15,146.93 L143.5,147.97 L143.85,147.23 L144.2,146.03 L144.56,147.65 L144.91,147.89 L145.26,147.05 L145.61,148.45 L145.96,148.1 L146.31,148.63 L146.66,148.26 L147.01,147.33 L147.36,147.59 L147.71,148.5 L148.06,147.77 L148.41,147.36 L148.76,147.72 L149.11,147.72 L149.46,148.48 L149.81,148.64 L150.16,147.81 L150.52,148.33 L150.87,147.22 L151.22,147.18 L151.57,147.82 L151.92,147.76 L152.27,147.81 L152.62,146.96 L152.97,147.51 L153.32,147.62 L153.67,147.92 L154.02,146.34 L154.37,145.95 L154.72,146.2 L155.07,145.49 L155.42,146.34 L155.77,146.67 L156.12,146.65 L156.48,144.94 L156.83,146.1 L157.18,146.3 L157.53,147.13 L157.88,145.98 L158.23,144.63 L158.58,145.95 L158.93,146.27 L159.28,145.84 L159.63,146 L159.98,145.54 L160.33,146.71 L160.68,146.39 L161.03,147.51 L161.38,145.07 L161.73,147.09 L162.08,147.55 L162.44,146.68 L162.79,148.43 L163.14,148.06 L163.49,148.37 L163.84,148.23 L164.19,148.15 L164.54,147.68 L164.89,147.92 L165.24,148.16 L165.59,148.09 L165.94,148.13 L166.29,148.91 L166.64,148.07 L166.99,148.4 L167.34,148.11 L167.69,148.65 L168.04,147.92 L168.4,148.83 L168.75,147.74 L169.1,147.95 L169.45,148.22 L169.8,148.12 L170.15,148.24 L170.5,146.46 L170.85,147.98 L171.2,148.26 L171.55,147.38 L171.9,147.76 L172.25,147.52 L172.6,149.31 L172.95,149.06 L173.3,145.72 L173.65,147.9 L174,148.35 L174.36,147.77 L174.71,147.16 L175.06,148.46 L175.41,147.11 L175.76,147.67 L176.11,147.27 L176.46,147.83 L176.81,148.59 L177.16,148.14 L177.51,148.94 L177.86,147.24 L178.21,148.75 L178.56,148.21 L178.91,146.42 L179.26,147.83 L179.61,147.2 L179.96,147.73 L180.32,147 L180.67,147.47 L181.02,147.93 L181.37,146.72 L181.72,147.66 L182.07,148.77 L182.42,148.07 L182.77,147.5 L183.12,148.75 L183.47,147.19 L183.82,147.62 L184.17,146.76 L184.52,148.85 L184.87,147.71 L185.22,149.38 L185.57,148.45 L185.92,147.92 L186.27,148.19 L186.63,148.26 L186.98,148.46 L187.33,148.81 L187.68,148.65 L188.03,147.79 L188.38,147.34 L188.73,146.69 L189.08,146.43 L189.43,146.49 L189.78,148.69 L190.13,147.62 L190.48,146.88 L190.83,147.16 L191.18,146.27 L191.53,146.43 L191.88,146.98 L192.23,146.86 L192.59,146.37 L192.94,148.3 L193.29,148.38 L193.64,147.14 L193.99,147.32 L194.34,147.37 L194.69,147.98 L195.04,148.23 L195.39,148.32 L195.74,148.46 L196.09,148.17 L196.44,149.61 L196.79,147.74 L197.14,147.11 L197.49,147.65 L197.84,148.19 L198.19,147.01 L198.55,148.17 L198.9,146.98 L199.25,146.12 L199.6,147.43 L199.95,147.82 L200.3,147.5 L200.65,147.16 L201,147.57 L201.35,147.15 L201.7,146.44 L202.05,148.36 L202.4,147.51 L202.75,146.99 L203.1,147.55 L203.45,147.06 L203.8,148.11 L204.15,146.66 L204.51,146.16 L204.86,146.2 L205.21,146.99 L205.56,148.13 L205.91,147.46 L206.26,147.12 L206.61,146.49 L206.96,149.1 L207.31,147.66 L207.66,148.84 L208.01,147.17 L208.36,146.63 L208.71,146.93 L209.06,146.46 L209.41,146.84 L209.76,147.84 L210.11,146.76 L210.47,146.23 L210.82,147.47 L211.17,147.51 L211.52,148.04 L211.87,146.9 L212.22,147.58 L212.57,147.57 L212.92,147.54 L213.27,147.44 L213.62,146.56 L213.97,145.48 L214.32,145.9 L214.67,145.02 L215.02,144.68 L215.37,146.8 L215.72,146.11 L216.07,145.64 L216.43,145.36 L216.78,148.44 L217.13,148.2 L217.48,146.96 L217.83,147.54 L218.18,147.59 L218.53,146.95 L218.88,147.83 L219.23,148.8 L219.58,147.49 L219.93,147.45 L220.28,146.89 L220.63,146.73 L220.98,146.85 L221.33,147.45 L221.68,147.72 L222.03,148.89 L222.39,148.11 L222.74,147.36 L223.09,147.12 L223.44,145.95 L223.79,147.3 L224.14,147.85 L224.49,145.73 L224.84,145.49 L225.19,147.34 L225.54,148.22 L225.89,147.09 L226.24,146.87 L226.59,148.34 L226.94,147.91 L227.29,148.73 L227.64,148.46 L227.99,148.91 L228.35,148.11 L228.7,148.2 L229.05,148.89 L229.4,149.8 L229.75,146.52 L230.1,148.41 L230.45,148.19 L230.8,148.96 L231.15,148.47 L231.5,149.17 L231.85,148.01 L232.2,148.37 L232.55,147.85 L232.9,148.91 L233.25,148.05 L233.6,148.17 L233.95,146.73 L234.31,149.63 L234.66,148.1 L235.01,148.6 L235.36,147.13 L235.71,146.95 L236.06,147.43 L236.41,147.57 L236.76,147.24 L237.11,148.34 L237.46,147.79 L237.81,148.64 L238.16,147.91 L238.51,148.45 L238.86,147.7 L239.21,146.4 L239.56,146.82 L239.91,146.61 L240.26,145.65 L240.62,148.27 L240.97,146.51 L241.32,147.25 L241.67,147.33 L242.02,148.15 L242.37,147.02 L242.72,146.83 L243.07,147.37 L243.42,148.46 L243.77,148.15 L244.12,147.59 L244.47,147.03 L244.82,147.58 L245.17,147.94 L245.52,147.68 L245.87,147.79 L246.22,147.85 L246.58,148.01 L246.93,146.95 L247.28,148.14 L247.63,148.05 L247.98,147.21 L248.33,147.4 L248.68,147.44 L249.03,148.32 L249.38,146.23 L249.73,147.09 L250.08,146.78 L250.43,146.08 L250.78,146.71 L251.13,146.65 L251.48,145.25 L251.83,147.2 L252.18,146.32 L252.54,145.44 L252.89,146.88 L253.24,146.44 L253.59,146.6 L253.94,145.25 L254.29,145.77 L254.64,145.44 L254.99,143.93 L255.34,145.2 L255.69,146.62 L256.04,145.62 L256.39,146.25 L256.74,144.52 L257.09,145.59 L257.44,147.45 L257.79,147.27 L258.14,147.66 L258.5,147.76 L258.85,147.33 L259.2,146.74 L259.55,147.07 L259.9,147.92 L260.25,147.74 L260.6,146.15 L260.95,145.88 L261.3,146.35" fill="none" stroke="#0000ff" stroke-width="1.6" stroke-linejoin="round"/><path d="M51.3,160.55 L51.65,158.23 L52,155.61 L52.35,153.67 L52.7,152.59 L53.05,152.19 L53.4,151.63 L53.75,153.46 L54.1,152.44 L54.46,152.57 L54.81,150.42 L55.16,149.16 L55.51,148.4 L55.86,149.38 L56.21,149.1 L56.56,149.41 L56.91,149.28 L57.26,150 L57.61,149.5 L57.96,149.56 L58.31,148.12 L58.66,147.86 L59.01,148.97 L59.36,148.87 L59.71,149.14 L60.06,150.22 L60.42,150.29 L60.77,150.07 L61.12,150.76 L61.47,149.56 L61.82,149.2 L62.17,148.37 L62.52,147.7 L62.87,147.04 L63.22,147.83 L63.57,147.19 L63.92,149.25 L64.27,148.05 L64.62,147.79 L64.97,148.98 L65.32,149.71 L65.67,148.25 L66.02,148.64 L66.38,147.34 L66.73,147.35 L67.08,147.86 L67.43,147.64 L67.78,147.06 L68.13,147.45 L68.48,148.81 L68.83,147.63 L69.18,146.89 L69.53,146.91 L69.88,146.67 L70.23,146.71 L70.58,145.96 L70.93,146.47 L71.28,147.26 L71.63,145.76 L71.98,146.68 L72.34,145.67 L72.69,146.62 L73.04,145.2 L73.39,145.87 L73.74,143.74 L74.09,146.75 L74.44,147.26 L74.79,145.95 L75.14,146.15 L75.49,148.24 L75.84,146.51 L76.19,146.58 L76.54,147.62 L76.89,145.89 L77.24,147.08 L77.59,147.21 L77.94,146.38 L78.29,146.45 L78.65,146.71 L79,144.03 L79.35,145.5 L79.7,145.61 L80.05,144.52 L80.4,144.97 L80.75,143.72 L81.1,144.79 L81.45,144.55 L81.8,145.02 L82.15,145.08 L82.5,145.51 L82.85,145.33 L83.2,144 L83.55,145.65 L83.9,145.54 L84.25,145.31 L84.61,144.14 L84.96,143.89 L85.31,143.78 L85.66,145.27 L86.01,144.32 L86.36,144.69 L86.71,144.87 L87.06,144.78 L87.41,146.71 L87.76,145.9 L88.11,145.79 L88.46,146.38 L88.81,145.69 L89.16,144.28 L89.51,145.7 L89.86,144.85 L90.21,145.63 L90.57,146.03 L90.92,146.06 L91.27,146.41 L91.62,145 L91.97,145.25 L92.32,147.02 L92.67,145.42 L93.02,146.06 L93.37,146.25 L93.72,145.24 L94.07,146.23 L94.42,146.95 L94.77,144.99 L95.12,147.19 L95.47,144.67 L95.82,145.46 L96.17,144.61 L96.53,144.88 L96.88,144.94 L97.23,145.97 L97.58,144.78 L97.93,145.06 L98.28,144.98 L98.63,144.09 L98.98,143.93 L99.33,145.72 L99.68,145.27 L100.03,146.1 L100.38,144.79 L100.73,144.69 L101.08,143.91 L101.43,144.84 L101.78,144.89 L102.13,144.16 L102.49,145.96 L102.84,144.27 L103.19,145.39 L103.54,145.78 L103.89,144.5 L104.24,145.48 L104.59,144.3 L104.94,146.02 L105.29,145.13 L105.64,145.55 L105.99,144.93 L106.34,146.85 L106.69,144.92 L107.04,144.87 L107.39,146.28 L107.74,146.6 L108.09,146.76 L108.45,145.18 L108.8,147 L109.15,147.61 L109.5,147.08 L109.85,147.24 L110.2,146.85 L110.55,146.28 L110.9,146.13 L111.25,145.52 L111.6,146.74 L111.95,146.26 L112.3,146.63 L112.65,145.26 L113,144.74 L113.35,145.08 L113.7,144.85 L114.05,143.85 L114.41,145.26 L114.76,145.23 L115.11,144.3 L115.46,144.24 L115.81,144.52 L116.16,145.16 L116.51,145.83 L116.86,146.1 L117.21,145.47 L117.56,145.74 L117.91,146.34 L118.26,146.58 L118.61,147.79 L118.96,146.47 L119.31,146.77 L119.66,146.44 L120.01,146.19 L120.37,147 L120.72,146.97 L121.07,148.06 L121.42,146.53 L121.77,146.8 L122.12,145.98 L122.47,146.39 L122.82,147.17 L123.17,146.21 L123.52,148.62 L123.87,147.48 L124.22,147.19 L124.57,148.83 L124.92,148.9 L125.27,147.77 L125.62,147.17 L125.97,146.93 L126.33,146.18 L126.68,146.69 L127.03,146.2 L127.38,145.97 L127.73,146.54 L128.08,146.59 L128.43,147.15 L128.78,145.95 L129.13,145.61 L129.48,148.01 L129.83,146.85 L130.18,147.22 L130.53,148.23 L130.88,147.39 L131.23,147.27 L131.58,147.15 L131.93,146.48 L132.28,146 L132.64,145.94 L132.99,145.42 L133.34,146.12 L133.69,147.26 L134.04,145.12 L134.39,144.5 L134.74,146.18 L135.09,145.3 L135.44,145.95 L135.79,146.25 L136.14,145.01 L136.49,147.65 L136.84,147.09 L137.19,146.02 L137.54,147.36 L137.89,147.79 L138.24,146.45 L138.6,146.96 L138.95,148.53 L139.3,148.11 L139.65,147.47 L140,146.79 L140.35,149.39 L140.7,147.48 L141.05,147.32 L141.4,148.26 L141.75,147.4 L142.1,147.62 L142.45,146.75 L142.8,145.05 L143.15,145.61 L143.5,144.96 L143.85,144.81 L144.2,144.85 L144.56,144.27 L144.91,146.16 L145.26,145.9 L145.61,145.16 L145.96,146.25 L146.31,146.08 L146.66,144.88 L147.01,144.68 L147.36,146.33 L147.71,147.05 L148.06,145.75 L148.41,145.75 L148.76,146.71 L149.11,145.64 L149.46,145.52 L149.81,145.82 L150.16,144.5 L150.52,145.94 L150.87,146.42 L151.22,145.61 L151.57,144.52 L151.92,145.85 L152.27,147.4 L152.62,146.74 L152.97,146.68 L153.32,147.73 L153.67,147.98 L154.02,147.51 L154.37,147.51 L154.72,147.84 L155.07,146.42 L155.42,147.61 L155.77,146.58 L156.12,147.05 L156.48,146.34 L156.83,148.31 L157.18,145.52 L157.53,147.44 L157.88,146.87 L158.23,146.18 L158.58,147.18 L158.93,147.38 L159.28,148.3 L159.63,147.54 L159.98,146.58 L160.33,146.71 L160.68,147.2 L161.03,147.21 L161.38,146.99 L161.73,147.23 L162.08,146.77 L162.44,144.38 L162.79,146.32 L163.14,144.83 L163.49,145.53 L163.84,144.34 L164.19,145.94 L164.54,144.76 L164.89,144.81 L165.24,144.84 L165.59,144.38 L165.94,144.97 L166.29,144.85 L166.64,145.27 L166.99,144.96 L167.34,145.64 L167.69,146.58 L168.04,145.56 L168.4,145.81 L168.75,145.21 L169.1,143.79 L169.45,144.06 L169.8,143.49 L170.15,145.6 L170.5,145.46 L170.85,143.99 L171.2,146.57 L171.55,145.03 L171.9,145.54 L172.25,146.07 L172.6,145.54 L172.95,146.95 L173.3,145.89 L173.65,147.03 L174,147.23 L174.36,145.03 L174.71,145.19 L175.06,146.09 L175.41,143.82 L175.76,145.11 L176.11,147.32 L176.46,144.87 L176.81,143.69 L177.16,144.1 L177.51,142.94 L177.86,144.4 L178.21,143.12 L178.56,144.97 L178.91,144.05 L179.26,143.02 L179.61,143.75 L179.96,144.49 L180.32,146.42 L180.67,145.41 L181.02,146.02 L181.37,145.02 L181.72,146.4 L182.07,145.38 L182.42,145.93 L182.77,144.12 L183.12,146.46 L183.47,145.76 L183.82,143.12 L184.17,144.65 L184.52,145.47 L184.87,144.13 L185.22,143.14 L185.57,142.96 L185.92,145.59 L186.27,144.21 L186.63,146.06 L186.98,143.45 L187.33,145.19 L187.68,145.69 L188.03,145.27 L188.38,145.23 L188.73,146.34 L189.08,144.86 L189.43,146.67 L189.78,147.76 L190.13,145.21 L190.48,144.86 L190.83,145.01 L191.18,146.58 L191.53,147.58 L191.88,146.39 L192.23,145.69 L192.59,146.66 L192.94,146.07 L193.29,147.76 L193.64,145.37 L193.99,145.1 L194.34,146.81 L194.69,146.87 L195.04,146.23 L195.39,145.56 L195.74,145.4 L196.09,145.84 L196.44,145.33 L196.79,145.07 L197.14,144.85 L197.49,144.08 L197.84,144.14 L198.19,144.94 L198.55,145.36 L198.9,146.08 L199.25,145.19 L199.6,145.92 L199.95,144.03 L200.3,145.42 L200.65,145.49 L201,145.91 L201.35,145.22 L201.7,145.07 L202.05,145.08 L202.4,145.09 L202.75,145.43 L203.1,144.7 L203.45,145.41 L203.8,144.67 L204.15,144 L204.51,145.11 L204.86,146.51 L205.21,145.69 L205.56,146.91 L205.91,146.54 L206.26,144.53 L206.61,145.31 L206.96,145.64 L207.31,145.66 L207.66,144.9 L208.01,146.48 L208.36,144.83 L208.71,145.03 L209.06,143.54 L209.41,146.16 L209.76,144.85 L210.11,145.85 L210.47,145.17 L210.82,147.05 L211.17,145.7 L211.52,146.8 L211.87,146.75 L212.22,146.64 L212.57,146.75 L212.92,146.93 L213.27,145.45 L213.62,146.19 L213.97,148.51 L214.32,146.77 L214.67,148.14 L215.02,146.54 L215.37,145.72 L215.72,146.91 L216.07,147.36 L216.43,146.96 L216.78,148.09 L217.13,146.64 L217.48,147.41 L217.83,146.83 L218.18,145.33 L218.53,146.93 L218.88,146.6 L219.23,147.06 L219.58,145.6 L219.93,145.34 L220.28,144.86 L220.63,145.93 L220.98,146.51 L221.33,146.24 L221.68,146.97 L222.03,146.25 L222.39,145.1 L222.74,147.7 L223.09,147.63 L223.44,145.13 L223.79,147.04 L224.14,145.79 L224.49,146.62 L224.84,145.05 L225.19,144.55 L225.54,144.61 L225.89,143.96 L226.24,144.7 L226.59,144.4 L226.94,143.82 L227.29,143.41 L227.64,144.88 L227.99,144.93 L228.35,144.2 L228.7,144.84 L229.05,145.02 L229.4,145.7 L229.75,145.21 L230.1,146.09 L230.45,146.01 L230.8,145.76 L231.15,145.09 L231.5,146.37 L231.85,144.43 L232.2,145.9 L232.55,145.54 L232.9,145.27 L233.25,145.32 L233.6,145.46 L233.95,145.86 L234.31,146.3 L234.66,147.63 L235.01,146.49 L235.36,147.09 L235.71,146.82 L236.06,144.7 L236.41,147.53 L236.76,146.19 L237.11,145.47 L237.46,144.89 L237.81,145.35 L238.16,146.66 L238.51,146.32 L238.86,145.19 L239.21,146.02 L239.56,144.68 L239.91,146.12 L240.26,146.57 L240.62,146.33 L240.97,147.3 L241.32,146.59 L241.67,146.66 L242.02,147.34 L242.37,148.02 L242.72,147.2 L243.07,148.12 L243.42,147.98 L243.77,146.33 L244.12,146.12 L244.47,146.59 L244.82,145.41 L245.17,146.01 L245.52,143.56 L245.87,146.71 L246.22,144.44 L246.58,146.63 L246.93,145.21 L247.28,144.88 L247.63,144.86 L247.98,144.46 L248.33,144.62 L248.68,145.41 L249.03,145.8 L249.38,143.35 L249.73,143.55 L250.08,145.44 L250.43,145.26 L250.78,145.05 L251.13,145.4 L251.48,144.11 L251.83,145.76 L252.18,145.57 L252.54,146.57 L252.89,145 L253.24,144.28 L253.59,145.07 L253.94,144.71 L254.29,144.28 L254.64,144.92 L254.99,145.58 L255.34,143.72 L255.69,144.09 L256.04,144.59 L256.39,143.57 L256.74,144.39 L257.09,146.03 L257.44,144.81 L257.79,145.16 L258.14,144.02 L258.5,145.23 L258.85,145.33 L259.2,144.96 L259.55,145.15 L259.9,146.37 L260.25,144.67 L260.6,145.02 L260.95,144.04 L261.3,143.44" fill="none" stroke="#ff0000" stroke-width="1.6" stroke-linejoin="round"/><path d="M51.3,160.55 L51.65,160.59 L52,157.4 L52.35,155.01 L52.7,154.38 L53.05,155.15 L53.4,154.1 L53.75,154.1 L54.1,153.7 L54.46,154.76 L54.81,154.67 L55.16,152.25 L55.51,152.95 L55.86,153.39 L56.21,154.36 L56.56,152.9 L56.91,153.68 L57.26,153.75 L57.61,152.18 L57.96,152.18 L58.31,151.63 L58.66,150.31 L59.01,151.41 L59.36,150.5 L59.71,152.37 L60.06,151.89 L60.42,153.27 L60.77,151.81 L61.12,152.54 L61.47,152 L61.82,150.67 L62.17,152.37 L62.52,151.38 L62.87,152.35 L63.22,151.77 L63.57,151.97 L63.92,152.88 L64.27,152.85 L64.62,153.36 L64.97,151.81 L65.32,153.03 L65.67,151.46 L66.02,152.41 L66.38,150.08 L66.73,152.06 L67.08,149.88 L67.43,151.22 L67.78,149.92 L68.13,150.14 L68.48,149.98 L68.83,150.71 L69.18,149.21 L69.53,149.41 L69.88,149.59 L70.23,148.92 L70.58,150.68 L70.93,149.6 L71.28,150.63 L71.63,152.03 L71.98,150.79 L72.34,151.12 L72.69,150.11 L73.04,151.41 L73.39,150.99 L73.74,150.61 L74.09,151.88 L74.44,149.77 L74.79,150.73 L75.14,148.86 L75.49,148.85 L75.84,149.97 L76.19,151.53 L76.54,150.4 L76.89,150.2 L77.24,149.89 L77.59,150.53 L77.94,151.61 L78.29,150.4 L78.65,151.24 L79,149.19 L79.35,151.04 L79.7,150.72 L80.05,150.48 L80.4,151.73 L80.75,151.82 L81.1,151.64 L81.45,152.25 L81.8,151.79 L82.15,150.14 L82.5,151.47 L82.85,153.1 L83.2,152.21 L83.55,150.82 L83.9,151.67 L84.25,150.99 L84.61,150.87 L84.96,150.25 L85.31,150.17 L85.66,149.96 L86.01,150.96 L86.36,150.23 L86.71,151.06 L87.06,149.4 L87.41,150.71 L87.76,150.97 L88.11,150.41 L88.46,150.7 L88.81,150.64 L89.16,151.04 L89.51,151.66 L89.86,151.66 L90.21,150.64 L90.57,149.19 L90.92,149.91 L91.27,149.59 L91.62,150.4 L91.97,149.39 L92.32,148.72 L92.67,151.21 L93.02,150.41 L93.37,149.95 L93.72,150.7 L94.07,150.19 L94.42,150.91 L94.77,149.05 L95.12,150 L95.47,150.77 L95.82,148.94 L96.17,149.4 L96.53,148.76 L96.88,150.73 L97.23,149.86 L97.58,149.4 L97.93,149.14 L98.28,148.6 L98.63,150.64 L98.98,149.56 L99.33,149.73 L99.68,149.2 L100.03,149.69 L100.38,150.6 L100.73,149.36 L101.08,149.45 L101.43,149.13 L101.78,148.56 L102.13,148.73 L102.49,148.05 L102.84,149.66 L103.19,146.38 L103.54,146.96 L103.89,146.99 L104.24,148.85 L104.59,149.06 L104.94,147.32 L105.29,146.65 L105.64,145.39 L105.99,145.99 L106.34,147.28 L106.69,145.9 L107.04,145.93 L107.39,146.56 L107.74,145.82 L108.09,146.31 L108.45,147.2 L108.8,147.46 L109.15,146.28 L109.5,145.6 L109.85,147 L110.2,147.45 L110.55,145.94 L110.9,148.29 L111.25,144.49 L111.6,146.34 L111.95,144.99 L112.3,144.65 L112.65,147 L113,146.29 L113.35,143.62 L113.7,145.75 L114.05,145.99 L114.41,145.31 L114.76,145.08 L115.11,144.57 L115.46,145.54 L115.81,145.76 L116.16,144.64 L116.51,143.84 L116.86,142.86 L117.21,144.24 L117.56,142.91 L117.91,144.82 L118.26,143.85 L118.61,142.49 L118.96,143.46 L119.31,143.99 L119.66,144.79 L120.01,144.9 L120.37,143.84 L120.72,143.95 L121.07,144.29 L121.42,145.08 L121.77,145.28 L122.12,144.75 L122.47,144.7 L122.82,145.84 L123.17,144.61 L123.52,145.24 L123.87,144.27 L124.22,142.01 L124.57,144.29 L124.92,144.63 L125.27,144.25 L125.62,144.14 L125.97,143.78 L126.33,142.26 L126.68,142.19 L127.03,141.35 L127.38,143.57 L127.73,142.52 L128.08,141.51 L128.43,144.28 L128.78,142.41 L129.13,144.26 L129.48,142.79 L129.83,141.83 L130.18,143 L130.53,142.6 L130.88,143.56 L131.23,142.24 L131.58,141.78 L131.93,142.27 L132.28,141.44 L132.64,141.92 L132.99,141.88 L133.34,143.61 L133.69,141.87 L134.04,142.5 L134.39,141.43 L134.74,141.23 L135.09,141.46 L135.44,141.11 L135.79,142.35 L136.14,142.9 L136.49,143.81 L136.84,142.18 L137.19,141.94 L137.54,142.33 L137.89,142.13 L138.24,140.87 L138.6,140.7 L138.95,140.1 L139.3,140.49 L139.65,139.28 L140,140.55 L140.35,141.79 L140.7,140.61 L141.05,141.01 L141.4,138.83 L141.75,138.76 L142.1,140.03 L142.45,139.6 L142.8,140.72 L143.15,141.44 L143.5,140.24 L143.85,139.78 L144.2,140.53 L144.56,138.96 L144.91,138.75 L145.26,138.86 L145.61,138.82 L145.96,139 L146.31,139.92 L146.66,139.64 L147.01,139.32 L147.36,140.98 L147.71,139.27 L148.06,140.35 L148.41,141.08 L148.76,141.46 L149.11,137.37 L149.46,139.18 L149.81,139.05 L150.16,138.24 L150.52,138.44 L150.87,139.17 L151.22,138.78 L151.57,139.95 L151.92,137.77 L152.27,139.33 L152.62,138.58 L152.97,138.09 L153.32,138.62 L153.67,136.47 L154.02,137.43 L154.37,135.96 L154.72,136.81 L155.07,136.5 L155.42,137.36 L155.77,135.56 L156.12,136.97 L156.48,137.12 L156.83,137.34 L157.18,137.74 L157.53,137.9 L157.88,137.97 L158.23,137.52 L158.58,137.74 L158.93,137.91 L159.28,138.89 L159.63,138 L159.98,137.23 L160.33,138.29 L160.68,138.04 L161.03,138.54 L161.38,138.96 L161.73,138.22 L162.08,137.49 L162.44,137.01 L162.79,136.62 L163.14,135.59 L163.49,136.79 L163.84,137.47 L164.19,135.39 L164.54,136.36 L164.89,136.2 L165.24,133.73 L165.59,135.13 L165.94,135.89 L166.29,135.97 L166.64,136.33 L166.99,135.21 L167.34,136.65 L167.69,137.88 L168.04,137.54 L168.4,135.92 L168.75,136.64 L169.1,138.33 L169.45,137.11 L169.8,138.93 L170.15,137.75 L170.5,138.59 L170.85,137.6 L171.2,138.78 L171.55,139.15 L171.9,139.17 L172.25,138.83 L172.6,139.71 L172.95,139.72 L173.3,137.38 L173.65,139.69 L174,140.06 L174.36,140.35 L174.71,140.96 L175.06,139.35 L175.41,138.59 L175.76,140.64 L176.11,140.54 L176.46,141.89 L176.81,139.15 L177.16,139.16 L177.51,139.31 L177.86,138.9 L178.21,138.3 L178.56,138.77 L178.91,139.86 L179.26,140.18 L179.61,140.41 L179.96,140.64 L180.32,138.86 L180.67,139.73 L181.02,140.09 L181.37,140.23 L181.72,139.08 L182.07,140.58 L182.42,138.98 L182.77,139.45 L183.12,139.56 L183.47,140.67 L183.82,138.66 L184.17,140.57 L184.52,141.14 L184.87,141.33 L185.22,141.24 L185.57,140.4 L185.92,141.57 L186.27,140.73 L186.63,140.59 L186.98,141 L187.33,140.92 L187.68,142.08 L188.03,140.35 L188.38,141.23 L188.73,142.13 L189.08,141.05 L189.43,139.86 L189.78,140.39 L190.13,140.63 L190.48,140.3 L190.83,139.46 L191.18,140.32 L191.53,140.16 L191.88,141.56 L192.23,139.41 L192.59,139.21 L192.94,139.93 L193.29,138.26 L193.64,139.3 L193.99,138.23 L194.34,139.95 L194.69,138.12 L195.04,139.46 L195.39,141.52 L195.74,139.46 L196.09,139.86 L196.44,140 L196.79,139.24 L197.14,140.24 L197.49,138.69 L197.84,139.48 L198.19,139.1 L198.55,137.76 L198.9,139.1 L199.25,139.45 L199.6,139.39 L199.95,138.55 L200.3,137.77 L200.65,139.21 L201,139.44 L201.35,137.46 L201.7,138.14 L202.05,138.54 L202.4,136.95 L202.75,139.85 L203.1,138.76 L203.45,140.32 L203.8,138.91 L204.15,138.26 L204.51,137.53 L204.86,138.51 L205.21,137.2 L205.56,137.66 L205.91,138.22 L206.26,136.46 L206.61,138.26 L206.96,139.18 L207.31,138.07 L207.66,139.76 L208.01,138.1 L208.36,138.56 L208.71,139.4 L209.06,138.21 L209.41,138.49 L209.76,137.75 L210.11,139.15 L210.47,139.86 L210.82,140.34 L211.17,138.9 L211.52,139.55 L211.87,138.56 L212.22,138.56 L212.57,138.79 L212.92,139.33 L213.27,137.96 L213.62,138.22 L213.97,137.64 L214.32,137.58 L214.67,139.41 L215.02,139.23 L215.37,137.01 L215.72,139.59 L216.07,139.84 L216.43,138.92 L216.78,139.03 L217.13,139.63 L217.48,138.93 L217.83,138.39 L218.18,138.75 L218.53,138.43 L218.88,140.23 L219.23,139.74 L219.58,137.99 L219.93,139.38 L220.28,138.37 L220.63,138.37 L220.98,139.99 L221.33,138.53 L221.68,139.88 L222.03,138.5 L222.39,137.86 L222.74,137.41 L223.09,139.43 L223.44,138.95 L223.79,138.91 L224.14,138.33 L224.49,141.26 L224.84,139.13 L225.19,138.77 L225.54,139.06 L225.89,139.9 L226.24,138.99 L226.59,138.99 L226.94,139.94 L227.29,140.14 L227.64,140.38 L227.99,140.58 L228.35,139.54 L228.7,139.43 L229.05,140.35 L229.4,140.47 L229.75,140.15 L230.1,138.82 L230.45,138.95 L230.8,139.09 L231.15,139.38 L231.5,139.36 L231.85,140.73 L232.2,141.47 L232.55,141.02 L232.9,140.59 L233.25,139.89 L233.6,140.2 L233.95,140.22 L234.31,139.11 L234.66,140.06 L235.01,139.87 L235.36,140.44 L235.71,140.59 L236.06,140.9 L236.41,139.57 L236.76,140.03 L237.11,139.66 L237.46,140.95 L237.81,140.08 L238.16,139.52 L238.51,139.65 L238.86,138.76 L239.21,138.99 L239.56,141.16 L239.91,140.88 L240.26,141.2 L240.62,139.41 L240.97,140.4 L241.32,140.57 L241.67,140.08 L242.02,142.16 L242.37,142.45 L242.72,142.67 L243.07,143.66 L243.42,142.53 L243.77,142.6 L244.12,142.18 L244.47,142.85 L244.82,143.36 L245.17,143.34 L245.52,143.13 L245.87,144.16 L246.22,142.71 L246.58,142.51 L246.93,143.3 L247.28,143.64 L247.63,143.66 L247.98,143.13 L248.33,143.64 L248.68,142.39 L249.03,144.71 L249.38,143.18 L249.73,142.58 L250.08,143.29 L250.43,143.63 L250.78,144.55 L251.13,144.17 L251.48,143.01 L251.83,141.51 L252.18,143.54 L252.54,142.28 L252.89,142.48 L253.24,142.04 L253.59,142.29 L253.94,142 L254.29,141.59 L254.64,143.2 L254.99,142.39 L255.34,143.68 L255.69,143.45 L256.04,143.24 L256.39,143.96 L256.74,142.94 L257.09,142.9 L257.44,144.04 L257.79,143.44 L258.14,142.71 L258.5,142.28 L258.85,142.51 L259.2,142.36 L259.55,143.37 L259.9,143.43 L260.25,142.8 L260.6,141.7 L260.95,142.32 L261.3,141.14" fill="none" stroke="#000000" stroke-width="1.6" stroke-linejoin="round"/><path d="M41.1,111.3 L41.1,163.3 L272,163.3" fill="none" stroke="#111" stroke-width="1.1"/><text x="59.6" y="111" font-family="'Liberation Sans', Arial, Helvetica, sans-serif" font-weight="bold" font-size="7.9" fill="#111" style="stroke-width:0.3px">FORM II</text><line x1="62.1" y1="116.4" x2="70.1" y2="116.4" stroke="#0000ff" stroke-width="1.9"/><text x="71.5" y="118.2" font-family="'Liberation Sans', Arial, Helvetica, sans-serif" font-weight="bold" font-size="5.9" fill="#111" style="stroke-width:0.3px">4LF1<tspan font-size="4.1" dy="-2.1" dx="0.4">WT</tspan></text><line x1="62.1" y1="122.6" x2="70.1" y2="122.6" stroke="#ff0000" stroke-width="1.9"/><text x="71.5" y="124.4" font-family="'Liberation Sans', Arial, Helvetica, sans-serif" font-weight="bold" font-size="5.9" fill="#111" style="stroke-width:0.3px">5HAN<tspan font-size="4.1" dy="-2.1" dx="0.4">S58F</tspan></text><line x1="62.1" y1="128.9" x2="70.1" y2="128.9" stroke="#000000" stroke-width="1.9"/><text x="71.5" y="130.7" font-family="'Liberation Sans', Arial, Helvetica, sans-serif" font-weight="bold" font-size="5.9" fill="#111" style="stroke-width:0.3px">5HJX<tspan font-size="4.1" dy="-2.1"> A47V</tspan></text><text x="12.8" y="193.8" font-family="'Liberation Serif', 'Times New Roman', serif" font-weight="bold" font-size="10.8" fill="#111">e)</text><text transform="translate(18.6,225.1) rotate(-90)" text-anchor="middle" font-family="'Liberation Sans', Arial, Helvetica, sans-serif" font-weight="bold" font-size="8.8" fill="#111">RMSD (nm)</text><line x1="39.3" y1="245.7" x2="41.1" y2="245.7" stroke="#111" stroke-width="0.8"/><text x="37.6" y="249.1" text-anchor="end" font-family="'Liberation Sans', Arial, Helvetica, sans-serif" font-weight="bold" font-size="8.2" fill="#222" color="#222">0.05</text><line x1="39.3" y1="234.7" x2="41.1" y2="234.7" stroke="#111" stroke-width="0.8"/><text x="37.6" y="238.1" text-anchor="end" font-family="'Liberation Sans', Arial, Helvetica, sans-serif" font-weight="bold" font-size="8.2" fill="#222" color="#222">0.25</text><line x1="39.3" y1="223.7" x2="41.1" y2="223.7" stroke="#111" stroke-width="0.8"/><text x="37.6" y="227.1" text-anchor="end" font-family="'Liberation Sans', Arial, Helvetica, sans-serif" font-weight="bold" font-size="8.2" fill="#222" color="#222">0.45</text><line x1="39.3" y1="212.7" x2="41.1" y2="212.7" stroke="#111" stroke-width="0.8"/><text x="37.6" y="216.1" text-anchor="end" font-family="'Liberation Sans', Arial, Helvetica, sans-serif" font-weight="bold" font-size="8.2" fill="#222" color="#222">0.65</text><line x1="39.3" y1="201.7" x2="41.1" y2="201.7" stroke="#111" stroke-width="0.8"/><text x="37.6" y="205.1" text-anchor="end" font-family="'Liberation Sans', Arial, Helvetica, sans-serif" font-weight="bold" font-size="8.2" fill="#222" color="#222">0.85</text><line x1="51.3" y1="251.2" x2="51.3" y2="252.8" stroke="#111" stroke-width="0.8"/><text x="51.3" y="260.1" text-anchor="middle" font-family="'Liberation Sans', Arial, Helvetica, sans-serif" font-weight="bold" font-size="8.4" fill="#111">0</text><line x1="72.3" y1="251.2" x2="72.3" y2="252.8" stroke="#111" stroke-width="0.8"/><text x="72.3" y="260.1" text-anchor="middle" font-family="'Liberation Sans', Arial, Helvetica, sans-serif" font-weight="bold" font-size="8.4" fill="#111">5</text><line x1="93.3" y1="251.2" x2="93.3" y2="252.8" stroke="#111" stroke-width="0.8"/><text x="93.3" y="260.1" text-anchor="middle" font-family="'Liberation Sans', Arial, Helvetica, sans-serif" font-weight="bold" font-size="8.4" fill="#111">10</text><line x1="114.3" y1="251.2" x2="114.3" y2="252.8" stroke="#111" stroke-width="0.8"/><text x="114.3" y="260.1" text-anchor="middle" font-family="'Liberation Sans', Arial, Helvetica, sans-serif" font-weight="bold" font-size="8.4" fill="#111">15</text><line x1="135.3" y1="251.2" x2="135.3" y2="252.8" stroke="#111" stroke-width="0.8"/><text x="135.3" y="260.1" text-anchor="middle" font-family="'Liberation Sans', Arial, Helvetica, sans-serif" font-weight="bold" font-size="8.4" fill="#111">20</text><line x1="156.3" y1="251.2" x2="156.3" y2="252.8" stroke="#111" stroke-width="0.8"/><text x="156.3" y="260.1" text-anchor="middle" font-family="'Liberation Sans', Arial, Helvetica, sans-serif" font-weight="bold" font-size="8.4" fill="#111">25</text><line x1="177.3" y1="251.2" x2="177.3" y2="252.8" stroke="#111" stroke-width="0.8"/><text x="177.3" y="260.1" text-anchor="middle" font-family="'Liberation Sans', Arial, Helvetica, sans-serif" font-weight="bold" font-size="8.4" fill="#111">30</text><line x1="198.3" y1="251.2" x2="198.3" y2="252.8" stroke="#111" stroke-width="0.8"/><text x="198.3" y="260.1" text-anchor="middle" font-family="'Liberation Sans', Arial, Helvetica, sans-serif" font-weight="bold" font-size="8.4" fill="#111">35</text><line x1="219.3" y1="251.2" x2="219.3" y2="252.8" stroke="#111" stroke-width="0.8"/><text x="219.3" y="260.1" text-anchor="middle" font-family="'Liberation Sans', Arial, Helvetica, sans-serif" font-weight="bold" font-size="8.4" fill="#111">40</text><line x1="240.3" y1="251.2" x2="240.3" y2="252.8" stroke="#111" stroke-width="0.8"/><text x="240.3" y="260.1" text-anchor="middle" font-family="'Liberation Sans', Arial, Helvetica, sans-serif" font-weight="bold" font-size="8.4" fill="#111">45</text><line x1="261.3" y1="251.2" x2="261.3" y2="252.8" stroke="#111" stroke-width="0.8"/><text x="261.3" y="260.1" text-anchor="middle" font-family="'Liberation Sans', Arial, Helvetica, sans-serif" font-weight="bold" font-size="8.4" fill="#111">50</text><text x="157" y="269.9" text-anchor="middle" font-family="'Liberation Sans', Arial, Helvetica, sans-serif" font-weight="bold" font-size="8.8" fill="#111">Time (ns)</text><path d="M51.3,248.45 L51.65,245.51 L52,242.57 L52.35,240.4 L52.7,240.51 L53.05,240.82 L53.4,240.86 L53.75,239.56 L54.1,238.93 L54.46,239.69 L54.81,239.07 L55.16,239.55 L55.51,238.4 L55.86,239.73 L56.21,239.57 L56.56,240.28 L56.91,239.39 L57.26,239.36 L57.61,240.07 L57.96,240.22 L58.31,240.01 L58.66,240.43 L59.01,240.1 L59.36,240.21 L59.71,239.55 L60.06,239.38 L60.42,240.85 L60.77,240.42 L61.12,240.07 L61.47,240.86 L61.82,240.67 L62.17,240.32 L62.52,241.57 L62.87,241.25 L63.22,241.1 L63.57,240.2 L63.92,241.59 L64.27,240.97 L64.62,241.7 L64.97,241.58 L65.32,241.19 L65.67,241.45 L66.02,240.92 L66.38,241.03 L66.73,241.9 L67.08,242.59 L67.43,240.45 L67.78,241.8 L68.13,239.98 L68.48,241.31 L68.83,241.69 L69.18,240.66 L69.53,240.96 L69.88,240.65 L70.23,240.81 L70.58,240.15 L70.93,239.85 L71.28,240.76 L71.63,239.45 L71.98,241.03 L72.34,240.09 L72.69,241.44 L73.04,241.71 L73.39,239.26 L73.74,239.68 L74.09,239.75 L74.44,241.51 L74.79,240.17 L75.14,239.98 L75.49,240.02 L75.84,239.48 L76.19,240.5 L76.54,239.55 L76.89,240.33 L77.24,239.68 L77.59,239.23 L77.94,240.07 L78.29,240.35 L78.65,239.95 L79,239.92 L79.35,239.58 L79.7,239.66 L80.05,239.55 L80.4,240.13 L80.75,239.05 L81.1,238.21 L81.45,239.28 L81.8,238.91 L82.15,239.73 L82.5,238.33 L82.85,239.44 L83.2,239.81 L83.55,238.95 L83.9,239.11 L84.25,239.22 L84.61,238.57 L84.96,239.47 L85.31,239.65 L85.66,239.41 L86.01,239.39 L86.36,239.8 L86.71,239.51 L87.06,239.55 L87.41,238.92 L87.76,238.98 L88.11,239.41 L88.46,240.46 L88.81,240.19 L89.16,240.29 L89.51,240.79 L89.86,239.75 L90.21,239.92 L90.57,240.06 L90.92,240.01 L91.27,238.52 L91.62,239.29 L91.97,238.59 L92.32,239.02 L92.67,239.58 L93.02,238.77 L93.37,238.5 L93.72,238.67 L94.07,239.5 L94.42,239.21 L94.77,240.2 L95.12,239.67 L95.47,239.36 L95.82,238.26 L96.17,238.29 L96.53,238.88 L96.88,238.96 L97.23,239.41 L97.58,237.79 L97.93,238.2 L98.28,237.53 L98.63,239.09 L98.98,239.1 L99.33,238.85 L99.68,239.43 L100.03,239.96 L100.38,241.13 L100.73,240.17 L101.08,240.39 L101.43,239.88 L101.78,240.36 L102.13,240.89 L102.49,239.73 L102.84,238.92 L103.19,240.28 L103.54,240.27 L103.89,239.39 L104.24,239.76 L104.59,240.94 L104.94,238.8 L105.29,239.08 L105.64,240.08 L105.99,241.38 L106.34,240.01 L106.69,238.93 L107.04,238.82 L107.39,238.21 L107.74,239.49 L108.09,239.1 L108.45,240.06 L108.8,238.24 L109.15,239.02 L109.5,240.53 L109.85,240.47 L110.2,238.94 L110.55,239.23 L110.9,239.64 L111.25,238.6 L111.6,237.58 L111.95,238.7 L112.3,240.26 L112.65,239.19 L113,239.73 L113.35,239.18 L113.7,238.1 L114.05,238.34 L114.41,239.28 L114.76,238.1 L115.11,238.34 L115.46,237.39 L115.81,237.61 L116.16,237.79 L116.51,238.39 L116.86,237.98 L117.21,238.23 L117.56,238.56 L117.91,239.03 L118.26,238.18 L118.61,239.24 L118.96,236.68 L119.31,238.26 L119.66,238.26 L120.01,238.54 L120.37,238.67 L120.72,238.02 L121.07,238.71 L121.42,238.94 L121.77,239.48 L122.12,239.59 L122.47,239.56 L122.82,237.82 L123.17,239.47 L123.52,239.44 L123.87,238.85 L124.22,237.95 L124.57,239.51 L124.92,240.04 L125.27,238.93 L125.62,238.59 L125.97,240.07 L126.33,240.5 L126.68,239.73 L127.03,238.86 L127.38,239.46 L127.73,238.41 L128.08,239.18 L128.43,239.33 L128.78,239.52 L129.13,240.15 L129.48,240.14 L129.83,240.19 L130.18,239.55 L130.53,239.19 L130.88,238.97 L131.23,239.04 L131.58,238.22 L131.93,238.05 L132.28,238.3 L132.64,239 L132.99,238.48 L133.34,237.7 L133.69,239.67 L134.04,240.15 L134.39,239.82 L134.74,239.55 L135.09,240 L135.44,239.62 L135.79,238.46 L136.14,238.37 L136.49,238.26 L136.84,238.64 L137.19,239.54 L137.54,238.99 L137.89,239.92 L138.24,239.65 L138.6,239.82 L138.95,238.19 L139.3,238.55 L139.65,239.55 L140,240.07 L140.35,240.02 L140.7,239.38 L141.05,238.43 L141.4,238.63 L141.75,238.3 L142.1,239.28 L142.45,238.39 L142.8,239.81 L143.15,237.81 L143.5,237.65 L143.85,237.71 L144.2,237.4 L144.56,236.95 L144.91,237.72 L145.26,239.43 L145.61,238.81 L145.96,240.63 L146.31,239.54 L146.66,239.85 L147.01,239.06 L147.36,238.23 L147.71,238.84 L148.06,238.63 L148.41,238.09 L148.76,238.77 L149.11,238.43 L149.46,239.7 L149.81,238.54 L150.16,237.6 L150.52,237.51 L150.87,238.75 L151.22,238.31 L151.57,237.37 L151.92,238.18 L152.27,236.78 L152.62,237.97 L152.97,237.62 L153.32,237.73 L153.67,236.14 L154.02,237.84 L154.37,238.22 L154.72,236.99 L155.07,237.68 L155.42,237.9 L155.77,239.47 L156.12,238.14 L156.48,238.65 L156.83,239.54 L157.18,237.97 L157.53,238.86 L157.88,238.99 L158.23,240.13 L158.58,240.34 L158.93,239.31 L159.28,240.19 L159.63,238.65 L159.98,238.19 L160.33,239.17 L160.68,239.61 L161.03,239.01 L161.38,239.46 L161.73,238.92 L162.08,238.68 L162.44,238.58 L162.79,238.44 L163.14,237.46 L163.49,237.65 L163.84,239.2 L164.19,238.64 L164.54,238.63 L164.89,239.26 L165.24,237.54 L165.59,238.64 L165.94,238.68 L166.29,238.31 L166.64,238.59 L166.99,239.87 L167.34,237.96 L167.69,238.16 L168.04,238.11 L168.4,237.53 L168.75,237.81 L169.1,238.73 L169.45,237.93 L169.8,238.7 L170.15,237.89 L170.5,238.55 L170.85,236.83 L171.2,238.31 L171.55,237.96 L171.9,237.15 L172.25,237.66 L172.6,236.83 L172.95,237.74 L173.3,237.95 L173.65,237.81 L174,238.71 L174.36,237.93 L174.71,238.13 L175.06,237.89 L175.41,240.04 L175.76,239.54 L176.11,240.1 L176.46,239.43 L176.81,238.38 L177.16,239.25 L177.51,239.21 L177.86,238.4 L178.21,238.52 L178.56,237.94 L178.91,239.85 L179.26,238.29 L179.61,238.46 L179.96,238.94 L180.32,238.39 L180.67,239.48 L181.02,240.25 L181.37,239.47 L181.72,239.14 L182.07,237.55 L182.42,238.98 L182.77,239.01 L183.12,239.47 L183.47,238.16 L183.82,238.09 L184.17,237.61 L184.52,238.51 L184.87,237.94 L185.22,238.97 L185.57,237.9 L185.92,239.42 L186.27,239.57 L186.63,237.1 L186.98,237.43 L187.33,237.64 L187.68,237.82 L188.03,237.89 L188.38,237.02 L188.73,238.42 L189.08,236.68 L189.43,238.1 L189.78,239.76 L190.13,238.27 L190.48,237.65 L190.83,239.13 L191.18,238.03 L191.53,239.13 L191.88,239.22 L192.23,239.97 L192.59,237.37 L192.94,238.78 L193.29,239.12 L193.64,239.73 L193.99,239.4 L194.34,238.29 L194.69,238.81 L195.04,238.93 L195.39,239.42 L195.74,238.81 L196.09,238.33 L196.44,239.2 L196.79,239.14 L197.14,239.43 L197.49,237.75 L197.84,239.43 L198.19,238.9 L198.55,237.51 L198.9,238.94 L199.25,239.86 L199.6,239.44 L199.95,239.14 L200.3,237.76 L200.65,238.52 L201,238.95 L201.35,237.69 L201.7,237.66 L202.05,239.11 L202.4,237.2 L202.75,236.94 L203.1,237.31 L203.45,239.23 L203.8,238.06 L204.15,237.05 L204.51,238.12 L204.86,236.85 L205.21,238.17 L205.56,238.52 L205.91,237.42 L206.26,237.08 L206.61,236.57 L206.96,237.28 L207.31,236.51 L207.66,237.66 L208.01,237.05 L208.36,237.83 L208.71,237.44 L209.06,236.95 L209.41,237.45 L209.76,237.16 L210.11,237.27 L210.47,237.54 L210.82,236.85 L211.17,236.85 L211.52,236.98 L211.87,237.56 L212.22,238.23 L212.57,239.48 L212.92,238.82 L213.27,239.55 L213.62,240.12 L213.97,238.01 L214.32,239.85 L214.67,238.56 L215.02,238.36 L215.37,238.97 L215.72,237.36 L216.07,239.37 L216.43,239.55 L216.78,237.93 L217.13,239.7 L217.48,240.04 L217.83,239.89 L218.18,239.86 L218.53,239.33 L218.88,238.78 L219.23,240.04 L219.58,239.29 L219.93,238.27 L220.28,239.54 L220.63,239.43 L220.98,238.56 L221.33,238.34 L221.68,239.31 L222.03,239.56 L222.39,240.07 L222.74,238.86 L223.09,238.35 L223.44,240.34 L223.79,240.2 L224.14,239.78 L224.49,240.01 L224.84,238.75 L225.19,238.77 L225.54,237.09 L225.89,237.93 L226.24,238.49 L226.59,238.1 L226.94,239.83 L227.29,240.62 L227.64,239.51 L227.99,239.46 L228.35,240.6 L228.7,238.76 L229.05,238.88 L229.4,240.07 L229.75,239.61 L230.1,239.86 L230.45,239.29 L230.8,239.07 L231.15,240.17 L231.5,239.02 L231.85,239.19 L232.2,239.33 L232.55,241.58 L232.9,241.91 L233.25,240.38 L233.6,241.12 L233.95,240.78 L234.31,240.09 L234.66,239.95 L235.01,239.23 L235.36,239.02 L235.71,239.11 L236.06,238.65 L236.41,239.09 L236.76,238.08 L237.11,240.38 L237.46,237.57 L237.81,239.62 L238.16,238.67 L238.51,238.3 L238.86,239.07 L239.21,239.02 L239.56,239.51 L239.91,240.53 L240.26,239.57 L240.62,239.31 L240.97,240.56 L241.32,240.94 L241.67,240.1 L242.02,239.44 L242.37,239.32 L242.72,238.97 L243.07,239.17 L243.42,239.39 L243.77,241.34 L244.12,238.85 L244.47,240.09 L244.82,239.51 L245.17,239.92 L245.52,240.28 L245.87,240.16 L246.22,239.04 L246.58,239.31 L246.93,239.74 L247.28,238.95 L247.63,240.72 L247.98,239.74 L248.33,240.71 L248.68,239.24 L249.03,240.11 L249.38,239.74 L249.73,239.45 L250.08,241.96 L250.43,239.44 L250.78,240.41 L251.13,241.25 L251.48,241.75 L251.83,240.41 L252.18,241.21 L252.54,239.98 L252.89,240.77 L253.24,239.59 L253.59,240.88 L253.94,239.81 L254.29,239.81 L254.64,239.18 L254.99,240.51 L255.34,240.25 L255.69,241.05 L256.04,241.07 L256.39,240.4 L256.74,239.87 L257.09,240.82 L257.44,240.27 L257.79,239.06 L258.14,239.89 L258.5,239.4 L258.85,239.81 L259.2,238.35 L259.55,237.93 L259.9,239.05 L260.25,239.35 L260.6,237.99 L260.95,238.72 L261.3,239.36" fill="none" stroke="#0000ff" stroke-width="1.6" stroke-linejoin="round"/><path d="M51.3,248.45 L51.65,247.92 L52,241.69 L52.35,240.77 L52.7,238.12 L53.05,237.96 L53.4,238.12 L53.75,236.53 L54.1,237.75 L54.46,235.27 L54.81,236.67 L55.16,236.59 L55.51,237.11 L55.86,236.85 L56.21,237.94 L56.56,236.98 L56.91,239.29 L57.26,237.92 L57.61,238.34 L57.96,238.71 L58.31,239.1 L58.66,239.13 L59.01,237.79 L59.36,237.5 L59.71,237.39 L60.06,236.3 L60.42,237.8 L60.77,238.5 L61.12,237.31 L61.47,236.64 L61.82,234.05 L62.17,236.74 L62.52,235.48 L62.87,235.55 L63.22,234.21 L63.57,235.98 L63.92,235 L64.27,235.8 L64.62,236.14 L64.97,236.41 L65.32,236.62 L65.67,235.2 L66.02,236.33 L66.38,236.52 L66.73,235.87 L67.08,236.53 L67.43,236.38 L67.78,236.67 L68.13,235.52 L68.48,235.33 L68.83,237.87 L69.18,235.94 L69.53,235.6 L69.88,237.66 L70.23,237.01 L70.58,236.71 L70.93,236.39 L71.28,236.35 L71.63,236.32 L71.98,236.34 L72.34,235.81 L72.69,236.06 L73.04,233.77 L73.39,235.31 L73.74,237.09 L74.09,236.87 L74.44,235.4 L74.79,235.52 L75.14,234.75 L75.49,234.28 L75.84,234.17 L76.19,235.95 L76.54,234.88 L76.89,236.49 L77.24,236.81 L77.59,235.53 L77.94,236 L78.29,235.39 L78.65,236.05 L79,236.95 L79.35,235.21 L79.7,235.56 L80.05,237.92 L80.4,236.24 L80.75,235.37 L81.1,235.56 L81.45,236.02 L81.8,236.53 L82.15,234.55 L82.5,235.07 L82.85,233.97 L83.2,234.56 L83.55,234.5 L83.9,234.38 L84.25,235.05 L84.61,235.75 L84.96,235.16 L85.31,236.85 L85.66,237.82 L86.01,237.11 L86.36,236.96 L86.71,236.04 L87.06,235.85 L87.41,237.83 L87.76,236.07 L88.11,236.59 L88.46,237.24 L88.81,234.72 L89.16,236.54 L89.51,236.86 L89.86,234.86 L90.21,234.92 L90.57,236.78 L90.92,235.43 L91.27,234.89 L91.62,236.27 L91.97,233.71 L92.32,235.79 L92.67,235.26 L93.02,237.78 L93.37,235.4 L93.72,236.32 L94.07,235.25 L94.42,236.37 L94.77,234.52 L95.12,233.91 L95.47,232.72 L95.82,236.35 L96.17,233.44 L96.53,233.96 L96.88,237.11 L97.23,234.9 L97.58,234.2 L97.93,232.68 L98.28,234.37 L98.63,233.92 L98.98,234.59 L99.33,234.64 L99.68,235.74 L100.03,234.44 L100.38,234.03 L100.73,234.78 L101.08,232.3 L101.43,233.9 L101.78,232.8 L102.13,231.86 L102.49,232.53 L102.84,231.6 L103.19,231.03 L103.54,231.01 L103.89,232.15 L104.24,233.03 L104.59,231.56 L104.94,231.65 L105.29,231.55 L105.64,231.98 L105.99,230.76 L106.34,232.38 L106.69,233.18 L107.04,232.22 L107.39,232.78 L107.74,233.15 L108.09,234.84 L108.45,234.15 L108.8,232.88 L109.15,234.13 L109.5,233.75 L109.85,232.92 L110.2,234.1 L110.55,233.23 L110.9,235.4 L111.25,234.39 L111.6,235.96 L111.95,234.75 L112.3,237.12 L112.65,237.3 L113,236.18 L113.35,237 L113.7,236.93 L114.05,236.03 L114.41,235.44 L114.76,236.47 L115.11,234.66 L115.46,235.37 L115.81,235.57 L116.16,235.65 L116.51,236.08 L116.86,234.86 L117.21,235.32 L117.56,235.34 L117.91,235.13 L118.26,233.48 L118.61,233.31 L118.96,233.21 L119.31,234.14 L119.66,235.29 L120.01,233.02 L120.37,234.68 L120.72,233.07 L121.07,234.62 L121.42,234.63 L121.77,235.71 L122.12,234.09 L122.47,234.86 L122.82,235.08 L123.17,236.47 L123.52,233.7 L123.87,235.19 L124.22,234.98 L124.57,234.68 L124.92,234.4 L125.27,235.19 L125.62,234.34 L125.97,235.03 L126.33,236.3 L126.68,233.89 L127.03,233.48 L127.38,233.68 L127.73,232.14 L128.08,235.26 L128.43,236.46 L128.78,232.48 L129.13,233.94 L129.48,236.35 L129.83,235.65 L130.18,234.11 L130.53,235.7 L130.88,233.8 L131.23,232.4 L131.58,233.08 L131.93,234.31 L132.28,234.27 L132.64,234.9 L132.99,233.98 L133.34,234.39 L133.69,235.67 L134.04,235.86 L134.39,233.33 L134.74,235.16 L135.09,235.65 L135.44,235.58 L135.79,233.85 L136.14,233.3 L136.49,234.62 L136.84,234.06 L137.19,233.21 L137.54,234.07 L137.89,235.2 L138.24,235.83 L138.6,235.59 L138.95,235.69 L139.3,235.84 L139.65,235.26 L140,234.22 L140.35,234.31 L140.7,234.95 L141.05,232.79 L141.4,233.87 L141.75,233.42 L142.1,234.27 L142.45,232.54 L142.8,233.39 L143.15,234.89 L143.5,233.97 L143.85,231.71 L144.2,232.34 L144.56,232.65 L144.91,232.28 L145.26,233.45 L145.61,233.25 L145.96,233.44 L146.31,231.98 L146.66,231.94 L147.01,230.56 L147.36,229.57 L147.71,229.56 L148.06,228.99 L148.41,231.16 L148.76,230.79 L149.11,230.64 L149.46,231.28 L149.81,231.22 L150.16,230.19 L150.52,231.65 L150.87,230.29 L151.22,230.17 L151.57,232.41 L151.92,233.83 L152.27,232.02 L152.62,232.85 L152.97,231.8 L153.32,232.2 L153.67,230.93 L154.02,230.26 L154.37,231.36 L154.72,232.43 L155.07,233.02 L155.42,233.64 L155.77,232.89 L156.12,231.29 L156.48,230.67 L156.83,231.1 L157.18,231.74 L157.53,232.04 L157.88,231.94 L158.23,231.85 L158.58,230.04 L158.93,232.34 L159.28,230.37 L159.63,231.51 L159.98,230.88 L160.33,230.68 L160.68,230.01 L161.03,228.77 L161.38,230.63 L161.73,230.95 L162.08,230.49 L162.44,230.85 L162.79,229.73 L163.14,230.96 L163.49,231.35 L163.84,231.2 L164.19,232.04 L164.54,231.12 L164.89,234.08 L165.24,232.23 L165.59,231.51 L165.94,232.59 L166.29,232.12 L166.64,230.23 L166.99,230.93 L167.34,232.54 L167.69,232.2 L168.04,230.94 L168.4,232.78 L168.75,230.53 L169.1,230.84 L169.45,231.44 L169.8,230.05 L170.15,231.38 L170.5,230.54 L170.85,231.41 L171.2,230.67 L171.55,232.35 L171.9,231.2 L172.25,231 L172.6,230.84 L172.95,232.13 L173.3,231.65 L173.65,230.68 L174,229.77 L174.36,229.37 L174.71,229.42 L175.06,228.05 L175.41,229.92 L175.76,229.2 L176.11,230.5 L176.46,230.03 L176.81,230.31 L177.16,230.85 L177.51,230.41 L177.86,229.47 L178.21,227.95 L178.56,229.3 L178.91,230.26 L179.26,227.44 L179.61,228.02 L179.96,229.13 L180.32,229.8 L180.67,227.17 L181.02,230.49 L181.37,230.74 L181.72,229.97 L182.07,229.4 L182.42,231.34 L182.77,230.99 L183.12,230.17 L183.47,231.06 L183.82,231.34 L184.17,231.45 L184.52,232.05 L184.87,232.12 L185.22,233.07 L185.57,232.2 L185.92,233.87 L186.27,232.58 L186.63,234.1 L186.98,232.86 L187.33,233.9 L187.68,231.69 L188.03,232.24 L188.38,231.38 L188.73,233.82 L189.08,233.84 L189.43,233.17 L189.78,233.5 L190.13,231.4 L190.48,232.34 L190.83,232.13 L191.18,232.63 L191.53,232.44 L191.88,231.72 L192.23,233.36 L192.59,232.75 L192.94,232.27 L193.29,233.31 L193.64,233.95 L193.99,233.64 L194.34,233.02 L194.69,231.95 L195.04,232.85 L195.39,233.88 L195.74,232.14 L196.09,231.84 L196.44,230.93 L196.79,231.17 L197.14,230.15 L197.49,233.07 L197.84,233.14 L198.19,231.9 L198.55,233.44 L198.9,232.63 L199.25,231.97 L199.6,233.4 L199.95,231.87 L200.3,231.52 L200.65,232.87 L201,233.86 L201.35,231.22 L201.7,233.03 L202.05,231.72 L202.4,231.18 L202.75,231.5 L203.1,231.55 L203.45,229.99 L203.8,229.51 L204.15,230.17 L204.51,230.22 L204.86,229.34 L205.21,229.79 L205.56,230.03 L205.91,230.19 L206.26,229.43 L206.61,229.44 L206.96,230.14 L207.31,231.44 L207.66,230.07 L208.01,230.46 L208.36,229.3 L208.71,228.99 L209.06,229.83 L209.41,230.05 L209.76,230.2 L210.11,230.92 L210.47,230.12 L210.82,230.48 L211.17,230.01 L211.52,230.65 L211.87,230.15 L212.22,231.03 L212.57,229.43 L212.92,230.49 L213.27,230.75 L213.62,230.46 L213.97,231.98 L214.32,231.2 L214.67,231.01 L215.02,230.36 L215.37,234.19 L215.72,232.34 L216.07,232.11 L216.43,232.4 L216.78,232.07 L217.13,233.16 L217.48,232.76 L217.83,232.06 L218.18,231.91 L218.53,233.38 L218.88,233.83 L219.23,231.26 L219.58,231.4 L219.93,231.45 L220.28,232.61 L220.63,232.27 L220.98,231.78 L221.33,231.95 L221.68,232.57 L222.03,232.65 L222.39,232.06 L222.74,233.18 L223.09,232.7 L223.44,231.85 L223.79,231.43 L224.14,231.15 L224.49,230.97 L224.84,231.19 L225.19,229.04 L225.54,230.81 L225.89,230.89 L226.24,230.03 L226.59,231.26 L226.94,231.21 L227.29,231.08 L227.64,231.81 L227.99,232.64 L228.35,232.74 L228.7,234.15 L229.05,233.28 L229.4,233.73 L229.75,234.14 L230.1,234.32 L230.45,232.55 L230.8,233.73 L231.15,234.66 L231.5,235.17 L231.85,234.75 L232.2,234.3 L232.55,234.3 L232.9,232.83 L233.25,234.56 L233.6,233.33 L233.95,233.14 L234.31,234.33 L234.66,232.5 L235.01,232.85 L235.36,233.75 L235.71,231.49 L236.06,232.73 L236.41,233.16 L236.76,231.85 L237.11,232.05 L237.46,230.9 L237.81,231.03 L238.16,231.79 L238.51,231.33 L238.86,230.67 L239.21,230.35 L239.56,229.36 L239.91,229.2 L240.26,229.06 L240.62,228.83 L240.97,229.69 L241.32,232.68 L241.67,231.38 L242.02,230.96 L242.37,231.78 L242.72,231.37 L243.07,232.23 L243.42,233.11 L243.77,233.56 L244.12,230.72 L244.47,231.79 L244.82,230.96 L245.17,231.72 L245.52,231.05 L245.87,229.54 L246.22,230.83 L246.58,230.1 L246.93,230.44 L247.28,229.84 L247.63,229.66 L247.98,230.03 L248.33,230.23 L248.68,231.57 L249.03,230 L249.38,228.89 L249.73,228.97 L250.08,227.97 L250.43,229.04 L250.78,230.54 L251.13,230.5 L251.48,229.95 L251.83,229.04 L252.18,230.65 L252.54,228.72 L252.89,229.4 L253.24,230.6 L253.59,228.97 L253.94,230.49 L254.29,229.83 L254.64,230.49 L254.99,230.07 L255.34,230.61 L255.69,229.27 L256.04,232.11 L256.39,230.58 L256.74,230.73 L257.09,228.57 L257.44,230.18 L257.79,231.51 L258.14,231.91 L258.5,231.84 L258.85,231.86 L259.2,230.35 L259.55,234.82 L259.9,232.98 L260.25,235.22 L260.6,231.79 L260.95,232.95 L261.3,230.47" fill="none" stroke="#ff0000" stroke-width="1.6" stroke-linejoin="round"/><path d="M51.3,248.45 L51.65,244.65 L52,241.37 L52.35,239.17 L52.7,239.38 L53.05,239.01 L53.4,240.13 L53.75,241.14 L54.1,239.89 L54.46,238.96 L54.81,238.21 L55.16,239.3 L55.51,238.39 L55.86,239.17 L56.21,237.49 L56.56,238.06 L56.91,238.16 L57.26,239.53 L57.61,239.26 L57.96,239.22 L58.31,241.49 L58.66,238.56 L59.01,239.12 L59.36,239.58 L59.71,239.61 L60.06,239.78 L60.42,239.8 L60.77,240.98 L61.12,239.57 L61.47,239.32 L61.82,239.28 L62.17,240.63 L62.52,239.75 L62.87,240.17 L63.22,238.58 L63.57,238.39 L63.92,238.77 L64.27,239.5 L64.62,239.46 L64.97,239.43 L65.32,238.55 L65.67,239.71 L66.02,239.05 L66.38,240.77 L66.73,239.58 L67.08,239.33 L67.43,238.77 L67.78,237.3 L68.13,238.82 L68.48,238.46 L68.83,237.3 L69.18,238.23 L69.53,237.28 L69.88,237.44 L70.23,238.12 L70.58,239.04 L70.93,237.43 L71.28,236.69 L71.63,238.61 L71.98,238.1 L72.34,237.19 L72.69,237.69 L73.04,238.94 L73.39,238.75 L73.74,237.96 L74.09,239.09 L74.44,238.21 L74.79,238.22 L75.14,238.82 L75.49,238.82 L75.84,237.65 L76.19,237.16 L76.54,236.96 L76.89,238.89 L77.24,237.16 L77.59,236.73 L77.94,235.97 L78.29,237.34 L78.65,236.69 L79,237.08 L79.35,238.3 L79.7,236.41 L80.05,238.31 L80.4,238.56 L80.75,237.52 L81.1,238.37 L81.45,237.37 L81.8,238.19 L82.15,238.23 L82.5,237.93 L82.85,238.17 L83.2,237.63 L83.55,237.8 L83.9,238.63 L84.25,237.38 L84.61,237.69 L84.96,237.95 L85.31,237.33 L85.66,236.72 L86.01,237.28 L86.36,239.05 L86.71,237.87 L87.06,238.35 L87.41,238.26 L87.76,237.67 L88.11,238.37 L88.46,237.04 L88.81,237.81 L89.16,237.57 L89.51,236.96 L89.86,236.31 L90.21,236.1 L90.57,236.29 L90.92,236.93 L91.27,237.2 L91.62,238.74 L91.97,238.12 L92.32,236.33 L92.67,237.25 L93.02,235.93 L93.37,236.23 L93.72,238.41 L94.07,237.17 L94.42,235.1 L94.77,238.72 L95.12,237.63 L95.47,237.65 L95.82,237.22 L96.17,237.15 L96.53,236.79 L96.88,236.46 L97.23,237.59 L97.58,236.55 L97.93,237.78 L98.28,237.2 L98.63,237.25 L98.98,238.42 L99.33,237.71 L99.68,238.74 L100.03,238.65 L100.38,237.19 L100.73,239.34 L101.08,237.94 L101.43,237.89 L101.78,239.4 L102.13,238.2 L102.49,238.11 L102.84,239.06 L103.19,237.89 L103.54,237.87 L103.89,238.13 L104.24,236.61 L104.59,236.67 L104.94,237.32 L105.29,237.82 L105.64,236.08 L105.99,237.26 L106.34,238.27 L106.69,237.17 L107.04,237.78 L107.39,236.53 L107.74,234.83 L108.09,237.29 L108.45,235.61 L108.8,236.86 L109.15,236.09 L109.5,236.23 L109.85,235.13 L110.2,235.71 L110.55,236.16 L110.9,236.86 L111.25,235.53 L111.6,235 L111.95,237.33 L112.3,236.21 L112.65,235.82 L113,237.67 L113.35,235.62 L113.7,236.8 L114.05,235.28 L114.41,235.96 L114.76,237.62 L115.11,237.98 L115.46,238.65 L115.81,238.17 L116.16,236.66 L116.51,237.27 L116.86,236.61 L117.21,236.71 L117.56,236.47 L117.91,236.1 L118.26,237.16 L118.61,237.14 L118.96,236.53 L119.31,235.55 L119.66,238.55 L120.01,237.31 L120.37,236.56 L120.72,236.99 L121.07,236.13 L121.42,236.15 L121.77,235.94 L122.12,237.25 L122.47,236.47 L122.82,236.92 L123.17,236.21 L123.52,236.8 L123.87,236.75 L124.22,237.48 L124.57,236.97 L124.92,236.96 L125.27,237.17 L125.62,237.42 L125.97,237.61 L126.33,236.06 L126.68,236.81 L127.03,236.26 L127.38,238.08 L127.73,238.64 L128.08,238.54 L128.43,237.98 L128.78,236.74 L129.13,236.18 L129.48,235.74 L129.83,235.65 L130.18,236.02 L130.53,236.57 L130.88,237.18 L131.23,236.19 L131.58,238.1 L131.93,237.87 L132.28,236.67 L132.64,236.57 L132.99,236.41 L133.34,237.21 L133.69,235.71 L134.04,236.99 L134.39,237.85 L134.74,238.1 L135.09,238.42 L135.44,238.48 L135.79,236.64 L136.14,237.93 L136.49,237.05 L136.84,237.96 L137.19,238.33 L137.54,238.51 L137.89,238.22 L138.24,237.31 L138.6,237.78 L138.95,237.81 L139.3,238.12 L139.65,237.89 L140,234.61 L140.35,236.2 L140.7,236.61 L141.05,234.17 L141.4,235.81 L141.75,233.72 L142.1,233.78 L142.45,235.05 L142.8,234.97 L143.15,236.52 L143.5,236.2 L143.85,235.56 L144.2,235.09 L144.56,235.55 L144.91,235.38 L145.26,235.83 L145.61,236.77 L145.96,234.97 L146.31,234.93 L146.66,233.88 L147.01,233.33 L147.36,234.67 L147.71,234.92 L148.06,235.9 L148.41,234.47 L148.76,235.41 L149.11,234.85 L149.46,233.69 L149.81,234.97 L150.16,233.52 L150.52,233.16 L150.87,232.53 L151.22,234.61 L151.57,233.39 L151.92,232.42 L152.27,234.55 L152.62,234.75 L152.97,232.83 L153.32,232.31 L153.67,233.63 L154.02,234.39 L154.37,234.74 L154.72,233.88 L155.07,233.31 L155.42,233.27 L155.77,232.76 L156.12,232.55 L156.48,232.76 L156.83,233.26 L157.18,234.7 L157.53,233.24 L157.88,233.56 L158.23,234.34 L158.58,234.39 L158.93,234.5 L159.28,234.92 L159.63,234.6 L159.98,234.1 L160.33,233.46 L160.68,234.74 L161.03,234.56 L161.38,235.47 L161.73,234.89 L162.08,234.17 L162.44,234.6 L162.79,234.78 L163.14,234.7 L163.49,235.14 L163.84,234.47 L164.19,235.46 L164.54,234.39 L164.89,234.47 L165.24,235.42 L165.59,234.51 L165.94,234.58 L166.29,233.93 L166.64,234.72 L166.99,234.03 L167.34,233.5 L167.69,234.64 L168.04,234.86 L168.4,235.86 L168.75,235.29 L169.1,236.47 L169.45,235.55 L169.8,235.88 L170.15,234.96 L170.5,236.42 L170.85,235.44 L171.2,234.58 L171.55,234.43 L171.9,236.16 L172.25,234.74 L172.6,232.73 L172.95,234.28 L173.3,234.69 L173.65,236.34 L174,235.63 L174.36,234.22 L174.71,234.53 L175.06,233.78 L175.41,233.33 L175.76,234.09 L176.11,233.28 L176.46,234.83 L176.81,232.16 L177.16,234.16 L177.51,234.71 L177.86,233.03 L178.21,234.24 L178.56,234.12 L178.91,235.97 L179.26,235.14 L179.61,235.58 L179.96,237.14 L180.32,236.32 L180.67,236.38 L181.02,236.48 L181.37,236.99 L181.72,237.42 L182.07,236.72 L182.42,236.59 L182.77,235.56 L183.12,236.07 L183.47,236.44 L183.82,236.52 L184.17,235.31 L184.52,235.28 L184.87,233.59 L185.22,233.44 L185.57,234.24 L185.92,236.84 L186.27,236.9 L186.63,236.1 L186.98,235.86 L187.33,234.95 L187.68,235.54 L188.03,236.21 L188.38,235.91 L188.73,235.29 L189.08,236.64 L189.43,235.63 L189.78,236.55 L190.13,235.74 L190.48,235.9 L190.83,234.83 L191.18,234.83 L191.53,234.23 L191.88,234.24 L192.23,235.26 L192.59,235.71 L192.94,235.56 L193.29,235.58 L193.64,236.48 L193.99,236.56 L194.34,235.64 L194.69,235.44 L195.04,235.64 L195.39,236.26 L195.74,235.78 L196.09,235.7 L196.44,235.55 L196.79,237.07 L197.14,236.23 L197.49,237.16 L197.84,235.37 L198.19,234.27 L198.55,235.45 L198.9,234.8 L199.25,234.66 L199.6,234.87 L199.95,233.16 L200.3,233.95 L200.65,234.15 L201,234.63 L201.35,234.33 L201.7,234.85 L202.05,233.84 L202.4,234.35 L202.75,233.77 L203.1,234.05 L203.45,234.96 L203.8,232.59 L204.15,233.49 L204.51,234.65 L204.86,235.36 L205.21,235.11 L205.56,235.21 L205.91,235.08 L206.26,235.91 L206.61,235.46 L206.96,234.82 L207.31,234.72 L207.66,236.56 L208.01,235.2 L208.36,235.6 L208.71,235.25 L209.06,234.7 L209.41,235.06 L209.76,234.11 L210.11,233.48 L210.47,233.93 L210.82,234.56 L211.17,232.93 L211.52,233.08 L211.87,234.23 L212.22,235.14 L212.57,234.27 L212.92,234.34 L213.27,235.8 L213.62,233.57 L213.97,234.55 L214.32,233.95 L214.67,235.35 L215.02,235.16 L215.37,236.04 L215.72,235.87 L216.07,235.09 L216.43,236.59 L216.78,235.73 L217.13,235.01 L217.48,235.75 L217.83,233.29 L218.18,235.41 L218.53,232.56 L218.88,234.13 L219.23,232.58 L219.58,232.44 L219.93,233.12 L220.28,234.67 L220.63,234.42 L220.98,233.49 L221.33,232.69 L221.68,232.91 L222.03,232.68 L222.39,233.02 L222.74,234.34 L223.09,233.03 L223.44,235.05 L223.79,233.32 L224.14,234.21 L224.49,234.83 L224.84,232.68 L225.19,233.49 L225.54,232.53 L225.89,234.38 L226.24,233.91 L226.59,233 L226.94,233.22 L227.29,233.14 L227.64,233.06 L227.99,233.03 L228.35,233.11 L228.7,231.76 L229.05,233.08 L229.4,233.85 L229.75,232.24 L230.1,232.62 L230.45,232.74 L230.8,233.34 L231.15,233.95 L231.5,233.69 L231.85,235.19 L232.2,235.35 L232.55,234.9 L232.9,234.12 L233.25,232.75 L233.6,233.79 L233.95,233.1 L234.31,231.98 L234.66,232.95 L235.01,232.49 L235.36,232.75 L235.71,233.88 L236.06,233.44 L236.41,233.17 L236.76,234.53 L237.11,234.52 L237.46,235.57 L237.81,233.45 L238.16,232.59 L238.51,233.42 L238.86,232.67 L239.21,234.81 L239.56,232.79 L239.91,231.96 L240.26,232.36 L240.62,233.98 L240.97,232.33 L241.32,233.28 L241.67,232.39 L242.02,233.55 L242.37,233.28 L242.72,232.89 L243.07,232.39 L243.42,232.29 L243.77,231.2 L244.12,232.21 L244.47,232.47 L244.82,232.5 L245.17,232.5 L245.52,232.69 L245.87,232.14 L246.22,233.04 L246.58,233.29 L246.93,233.58 L247.28,233.51 L247.63,233.37 L247.98,234.14 L248.33,232.11 L248.68,232.59 L249.03,234.07 L249.38,232.2 L249.73,233.74 L250.08,232.7 L250.43,233.73 L250.78,233.64 L251.13,232.59 L251.48,233.27 L251.83,233.91 L252.18,235.04 L252.54,234.55 L252.89,233.28 L253.24,232.18 L253.59,232.67 L253.94,233.37 L254.29,233.04 L254.64,232.99 L254.99,232.52 L255.34,234.57 L255.69,233.43 L256.04,233.92 L256.39,234.25 L256.74,235.06 L257.09,233.14 L257.44,233.52 L257.79,233.41 L258.14,233.25 L258.5,233.11 L258.85,233.96 L259.2,232.41 L259.55,233.77 L259.9,234.21 L260.25,233.86 L260.6,234.38 L260.95,233.96 L261.3,233.3" fill="none" stroke="#000000" stroke-width="1.6" stroke-linejoin="round"/><path d="M41.1,199.2 L41.1,251.2 L272,251.2" fill="none" stroke="#111" stroke-width="1.1"/><text x="59.6" y="198.9" font-family="'Liberation Sans', Arial, Helvetica, sans-serif" font-weight="bold" font-size="7.9" fill="#111" style="stroke-width:0.3px">FORM III</text><line x1="62" y1="205.1" x2="70" y2="205.1" stroke="#0000ff" stroke-width="1.9"/><text x="71.4" y="206.9" font-family="'Liberation Sans', Arial, Helvetica, sans-serif" font-weight="bold" font-size="5.9" fill="#111" style="stroke-width:0.3px">3A12<tspan font-size="4.1" dy="-2.1" dx="0.7">WT</tspan></text><line x1="62" y1="211.1" x2="70" y2="211.1" stroke="#ff0000" stroke-width="1.9"/><text x="71.4" y="212.9" font-family="'Liberation Sans', Arial, Helvetica, sans-serif" font-weight="bold" font-size="5.9" fill="#111" style="stroke-width:0.3px">3KDO<tspan font-size="4.1" dy="-2.1" dx="0.7">SPE</tspan></text><line x1="62" y1="217.7" x2="70" y2="217.7" stroke="#000000" stroke-width="1.9"/><text x="71.4" y="219.5" font-family="'Liberation Sans', Arial, Helvetica, sans-serif" font-weight="bold" font-size="5.9" fill="#111" style="stroke-width:0.3px">3WQP<tspan font-size="4.1" dy="-2.1"> T289D</tspan></text><text x="283.6" y="19.1" font-family="'Liberation Sans', Arial, Helvetica, sans-serif" font-weight="bold" font-size="10.5" fill="#111">b)</text><text transform="translate(290.4,48.3) rotate(-90)" text-anchor="middle" font-family="'Liberation Sans', Arial, Helvetica, sans-serif" font-weight="bold" font-size="8.8" fill="#111">RMSF (nm)</text><line x1="305.5" y1="68.13" x2="307" y2="68.13" stroke="#111" stroke-width="0.8"/><text x="304.2" y="71.53" text-anchor="end" font-family="'Liberation Sans', Arial, Helvetica, sans-serif" font-weight="bold" font-size="8.2" fill="#222">0.1</text><line x1="305.5" y1="59.29" x2="307" y2="59.29" stroke="#111" stroke-width="0.8"/><text x="304.2" y="62.69" text-anchor="end" font-family="'Liberation Sans', Arial, Helvetica, sans-serif" font-weight="bold" font-size="8.2" fill="#222">0.3</text><line x1="305.5" y1="50.45" x2="307" y2="50.45" stroke="#111" stroke-width="0.8"/><text x="304.2" y="53.85" text-anchor="end" font-family="'Liberation Sans', Arial, Helvetica, sans-serif" font-weight="bold" font-size="8.2" fill="#222">0.5</text><line x1="305.5" y1="41.61" x2="307" y2="41.61" stroke="#111" stroke-width="0.8"/><text x="304.2" y="45.01" text-anchor="end" font-family="'Liberation Sans', Arial, Helvetica, sans-serif" font-weight="bold" font-size="8.2" fill="#222">0.7</text><line x1="305.5" y1="32.77" x2="307" y2="32.77" stroke="#111" stroke-width="0.8"/><text x="304.2" y="36.17" text-anchor="end" font-family="'Liberation Sans', Arial, Helvetica, sans-serif" font-weight="bold" font-size="8.2" fill="#222">0.9</text><line x1="317.1" y1="75.3" x2="317.1" y2="76.9" stroke="#111" stroke-width="0.8"/><text x="317.1" y="84.2" text-anchor="middle" font-family="'Liberation Sans', Arial, Helvetica, sans-serif" font-weight="bold" font-size="8.4" fill="#111">0</text><line x1="338.48" y1="75.3" x2="338.48" y2="76.9" stroke="#111" stroke-width="0.8"/><text x="338.48" y="84.2" text-anchor="middle" font-family="'Liberation Sans', Arial, Helvetica, sans-serif" font-weight="bold" font-size="8.4" fill="#111">50</text><line x1="359.86" y1="75.3" x2="359.86" y2="76.9" stroke="#111" stroke-width="0.8"/><text x="359.86" y="84.2" text-anchor="middle" font-family="'Liberation Sans', Arial, Helvetica, sans-serif" font-weight="bold" font-size="8.4" fill="#111">100</text><line x1="381.24" y1="75.3" x2="381.24" y2="76.9" stroke="#111" stroke-width="0.8"/><text x="381.24" y="84.2" text-anchor="middle" font-family="'Liberation Sans', Arial, Helvetica, sans-serif" font-weight="bold" font-size="8.4" fill="#111">150</text><line x1="402.62" y1="75.3" x2="402.62" y2="76.9" stroke="#111" stroke-width="0.8"/><text x="402.62" y="84.2" text-anchor="middle" font-family="'Liberation Sans', Arial, Helvetica, sans-serif" font-weight="bold" font-size="8.4" fill="#111">200</text><line x1="424" y1="75.3" x2="424" y2="76.9" stroke="#111" stroke-width="0.8"/><text x="424" y="84.2" text-anchor="middle" font-family="'Liberation Sans', Arial, Helvetica, sans-serif" font-weight="bold" font-size="8.4" fill="#111">250</text><line x1="445.38" y1="75.3" x2="445.38" y2="76.9" stroke="#111" stroke-width="0.8"/><text x="445.38" y="84.2" text-anchor="middle" font-family="'Liberation Sans', Arial, Helvetica, sans-serif" font-weight="bold" font-size="8.4" fill="#111">300</text><line x1="466.76" y1="75.3" x2="466.76" y2="76.9" stroke="#111" stroke-width="0.8"/><text x="466.76" y="84.2" text-anchor="middle" font-family="'Liberation Sans', Arial, Helvetica, sans-serif" font-weight="bold" font-size="8.4" fill="#111">350</text><line x1="488.14" y1="75.3" x2="488.14" y2="76.9" stroke="#111" stroke-width="0.8"/><text x="488.14" y="84.2" text-anchor="middle" font-family="'Liberation Sans', Arial, Helvetica, sans-serif" font-weight="bold" font-size="8.4" fill="#111">400</text><line x1="509.52" y1="75.3" x2="509.52" y2="76.9" stroke="#111" stroke-width="0.8"/><text x="509.52" y="84.2" text-anchor="middle" font-family="'Liberation Sans', Arial, Helvetica, sans-serif" font-weight="bold" font-size="8.4" fill="#111">450</text><text x="422.6" y="93.6" text-anchor="middle" font-family="'Liberation Sans', Arial, Helvetica, sans-serif" font-weight="bold" font-size="8.8" fill="#111">Residue</text><rect x="343.6" y="22.2" width="12.1" height="52.1" rx="1.6" fill="#94eaf6" stroke="#102020" stroke-width="1.05" stroke-dasharray="2,1"/><line x1="307" y1="59.29" x2="536" y2="59.29" stroke="#9b2ff0" stroke-width="1.1" stroke-dasharray="5.6,2.6,1.4,2.575" stroke-dashoffset="8.175"/><path d="M317.1,30.54 L317.53,30.13 L317.96,30.5 L318.38,31.17 L318.81,30.84 L319.24,30.28 L319.67,29.82 L320.09,30.31 L320.52,30.16 L320.95,32.9 L321.38,36.36 L321.8,42.66 L322.23,47.88 L322.66,53.03 L323.09,57.76 L323.51,59.15 L323.94,60.4 L324.37,61.13 L324.8,61.57 L325.22,62.02 L325.65,62.25 L326.08,62.24 L326.51,63.17 L326.93,63.35 L327.36,63.05 L327.79,64 L328.22,64.54 L328.65,64.52 L329.07,64.54 L329.5,63.84 L329.93,61.91 L330.36,63.52 L330.78,63.98 L331.21,64.61 L331.64,64.88 L332.07,65.32 L332.49,65.19 L332.92,64.92 L333.35,65.37 L333.78,65.05 L334.2,65.29 L334.63,65.35 L335.06,64.9 L335.49,64.8 L335.91,65.13 L336.34,65.03 L336.77,64.56 L337.2,65.41 L337.62,65.2 L338.05,65.09 L338.48,64.6 L338.91,63.42 L339.34,62.05 L339.76,63.43 L340.19,63.87 L340.62,64.11 L341.05,64.93 L341.47,65 L341.9,64.06 L342.33,64.49 L342.76,64.22 L343.18,63.64 L343.61,63.52 L344.04,61.85 L344.47,59.79 L344.89,57.61 L345.32,55.57 L345.75,53.64 L346.18,51.25 L346.6,49.78 L347.03,48.03 L347.46,46.84 L347.89,45.32 L348.31,43.33 L348.74,45.89 L349.17,48.51 L349.6,50.85 L350.03,53.45 L350.45,55.87 L350.88,57.28 L351.31,57.37 L351.74,57.11 L352.16,57.66 L352.59,59.51 L353.02,61.28 L353.45,62.57 L353.87,64.04 L354.3,63.5 L354.73,63.65 L355.16,62.18 L355.58,61.4 L356.01,61.98 L356.44,63.73 L356.87,64.63 L357.29,64.7 L357.72,65.58 L358.15,65.59 L358.58,66 L359,66.2 L359.43,65.07 L359.86,63.76 L360.29,64.86 L360.72,65.43 L361.14,65.87 L361.57,66.12 L362,65.72 L362.43,66.16 L362.85,65.78 L363.28,66.33 L363.71,65.68 L364.14,65.74 L364.56,66.18 L364.99,65.35 L365.42,66.41 L365.85,65.88 L366.27,64 L366.7,62.26 L367.13,62.02 L367.56,64.89 L367.98,65.99 L368.41,66.21 L368.84,66.11 L369.27,66.41 L369.69,66.23 L370.12,64.85 L370.55,62.91 L370.98,64.75 L371.41,64.99 L371.83,65.37 L372.26,64.48 L372.69,63.31 L373.12,65.17 L373.54,66.17 L373.97,66.34 L374.4,66.35 L374.83,66.38 L375.25,65.98 L375.68,66.26 L376.11,66.16 L376.54,66.65 L376.96,66.34 L377.39,66.32 L377.82,66.39 L378.25,65.83 L378.67,65.57 L379.1,64.78 L379.53,63.48 L379.96,62.71 L380.38,62.15 L380.81,64.09 L381.24,64.9 L381.67,65.5 L382.1,66.24 L382.52,66.43 L382.95,66.41 L383.38,65.74 L383.81,66.4 L384.23,65.83 L384.66,65.67 L385.09,66.37 L385.52,66.6 L385.94,66.56 L386.37,66.5 L386.8,66.43 L387.23,66.17 L387.65,64.93 L388.08,62.56 L388.51,62.91 L388.94,64 L389.36,65.87 L389.79,66.38 L390.22,66.45 L390.65,66.37 L391.07,66.64 L391.5,66.64 L391.93,66.75 L392.36,66.57 L392.79,66.72 L393.21,66.54 L393.64,66.6 L394.07,66.8 L394.5,66.5 L394.92,66.1 L395.35,66.19 L395.78,64.78 L396.21,63.32 L396.63,64.87 L397.06,65.4 L397.49,65.99 L397.92,66.28 L398.34,66.24 L398.77,66.36 L399.2,66.11 L399.63,66.78 L400.05,66.18 L400.48,66.8 L400.91,65.98 L401.34,65.85 L401.76,66 L402.19,66.55 L402.62,66.52 L403.05,66.03 L403.48,66.64 L403.9,66.28 L404.33,66.56 L404.76,66.67 L405.19,66.3 L405.61,66.36 L406.04,62.69 L406.47,59.22 L406.9,62.02 L407.32,63.62 L407.75,64.77 L408.18,66 L408.61,66.23 L409.03,66.61 L409.46,65.91 L409.89,66.29 L410.32,66.53 L410.74,66.43 L411.17,66.56 L411.6,66.74 L412.03,66.76 L412.45,65.57 L412.88,66.7 L413.31,66.26 L413.74,66.43 L414.17,66.02 L414.59,66 L415.02,66.3 L415.45,66.37 L415.88,65.92 L416.3,66.79 L416.73,66.22 L417.16,66.66 L417.59,65.79 L418.01,66.72 L418.44,66.57 L418.87,66.53 L419.3,66.18 L419.72,65.62 L420.15,65.82 L420.58,65.7 L421.01,66.49 L421.43,66.6 L421.86,66.48 L422.29,65.79 L422.72,64.66 L423.14,64.35 L423.57,63.5 L424,63.52 L424.43,64.51 L424.86,65.3 L425.28,66.26 L425.71,66.24 L426.14,64.79 L426.57,64.61 L426.99,65.43 L427.42,65.85 L427.85,65.76 L428.28,66.48 L428.7,66.51 L429.13,65.99 L429.56,66.14 L429.99,66.54 L430.41,66.8 L430.84,66.17 L431.27,66.16 L431.7,66.62 L432.12,66.18 L432.55,66.48 L432.98,66.56 L433.41,65.73 L433.83,66.19 L434.26,65.94 L434.69,64.88 L435.12,64.09 L435.55,63.5 L435.97,63.47 L436.4,64.5 L436.83,65.01 L437.26,66.25 L437.68,66.5 L438.11,66.48 L438.54,66.24 L438.97,66.43 L439.39,65.99 L439.82,66.63 L440.25,66.65 L440.68,66.62 L441.1,66.55 L441.53,66.66 L441.96,66.45 L442.39,66.65 L442.81,65.94 L443.24,66 L443.67,65.94 L444.1,62.3 L444.52,59.56 L444.95,60.43 L445.38,60.54 L445.81,59.76 L446.24,60.66 L446.66,60.31 L447.09,63.34 L447.52,65.43 L447.95,66.28 L448.37,66.63 L448.8,65.83 L449.23,66.19 L449.66,66.56 L450.08,66.78 L450.51,65.94 L450.94,66.43 L451.37,66.71 L451.79,65.26 L452.22,66.4 L452.65,66.32 L453.08,66.79 L453.5,66.78 L453.93,66.36 L454.36,66.74 L454.79,66.4 L455.21,66.69 L455.64,65.31 L456.07,65.1 L456.5,62.48 L456.93,64.76 L457.35,65.92 L457.78,65.53 L458.21,64.94 L458.64,64.73 L459.06,65.68 L459.49,65.95 L459.92,66.58 L460.35,66.78 L460.77,66.62 L461.2,66.12 L461.63,66.52 L462.06,66.62 L462.48,66.13 L462.91,66.7 L463.34,66.76 L463.77,66.26 L464.19,65.11 L464.62,63.81 L465.05,63.75 L465.48,65.32 L465.9,65.94 L466.33,66.5 L466.76,66.25 L467.19,66.57 L467.62,66.61 L468.04,65.49 L468.47,66.68 L468.9,66.52 L469.33,65.95 L469.75,65.83 L470.18,66.05 L470.61,66.19 L471.04,65.64 L471.46,66.5 L471.89,66.79 L472.32,66.29 L472.75,66.74 L473.17,66.69 L473.6,66.01 L474.03,66.57 L474.46,66.48 L474.88,65.69 L475.31,64.79 L475.74,65.69 L476.17,66 L476.59,66.42 L477.02,66.28 L477.45,66.54 L477.88,66.51 L478.31,66.49 L478.73,65.88 L479.16,66.75 L479.59,66.28 L480.02,66.6 L480.44,66.5 L480.87,66.41 L481.3,66.74 L481.73,66.67 L482.15,66.48 L482.58,66.13 L483.01,66.49 L483.44,66.74 L483.86,65.88 L484.29,65.19 L484.72,65.45 L485.15,64.23 L485.57,63.51 L486,63.85 L486.43,65.05 L486.86,65.38 L487.28,66.47 L487.71,66.55 L488.14,66.6 L488.57,66.41 L489,66.51 L489.42,65.02 L489.85,60.48 L490.28,63.8 L490.71,64.27 L491.13,64.62 L491.56,65 L491.99,65.36 L492.42,65.53 L492.84,66.14 L493.27,66.1 L493.7,66.48 L494.13,66.75 L494.55,66.58 L494.98,66.66 L495.41,66.3 L495.84,66.74 L496.26,66.02 L496.69,66.78 L497.12,66.05 L497.55,66.72 L497.97,66.17 L498.4,66.13 L498.83,66.74 L499.26,66.76 L499.69,65.92 L500.11,66.26 L500.54,64.04 L500.97,62.92 L501.4,64.01 L501.82,65.33 L502.25,65.88 L502.68,66.49 L503.11,66.04 L503.53,66.11 L503.96,66.54 L504.39,66.41 L504.82,66.66 L505.24,66 L505.67,66.62 L506.1,66.31 L506.53,65.89 L506.95,66.57 L507.38,66.72 L507.81,66.21 L508.24,65.91 L508.66,65.91 L509.09,64.22 L509.52,62.72 L509.95,63.1 L510.38,63.87 L510.8,64.51 L511.23,65.17 L511.66,66.5 L512.09,66.77 L512.51,66.68 L512.94,66.07 L513.37,67.14 L513.8,66.66 L514.22,66.04 L514.65,67 L515.08,67.38 L515.51,67.43 L515.93,66.28 L516.36,67.31 L516.79,66.27 L517.22,66.2 L517.64,65.67 L518.07,65.09 L518.5,62.59 L518.93,60.86 L519.35,58.57 L519.78,53.64 L520.21,48.21 L520.64,42.3 L521.07,36.37" fill="none" stroke="#000000" stroke-width="1.25" stroke-linejoin="round"/><path d="M317.1,30.56 L317.53,30.3 L317.96,30.76 L318.38,31.06 L318.81,30.14 L319.24,29.92 L319.67,29.79 L320.09,29.64 L320.52,30.5 L320.95,33.35 L321.38,37.18 L321.8,42.45 L322.23,47.23 L322.66,53.02 L323.09,57.48 L323.51,58.46 L323.94,60.37 L324.37,60.74 L324.8,61.62 L325.22,62.06 L325.65,62.37 L326.08,62.86 L326.51,63.11 L326.93,63.65 L327.36,63.81 L327.79,64.24 L328.22,64.82 L328.65,65.01 L329.07,63.05 L329.5,60.09 L329.93,57.97 L330.36,60.24 L330.78,62.16 L331.21,62.49 L331.64,63.89 L332.07,64.59 L332.49,65.38 L332.92,65.19 L333.35,65.43 L333.78,64.51 L334.2,65.26 L334.63,65.17 L335.06,64.97 L335.49,65.41 L335.91,65.16 L336.34,65.15 L336.77,65.27 L337.2,64.45 L337.62,65.29 L338.05,65.19 L338.48,63.26 L338.91,60.7 L339.34,57.89 L339.76,60.28 L340.19,61.79 L340.62,62.34 L341.05,63.39 L341.47,64.1 L341.9,64.88 L342.33,64.06 L342.76,64.87 L343.18,64.57 L343.61,63.76 L344.04,63.16 L344.47,62.61 L344.89,63.03 L345.32,63.51 L345.75,63.56 L346.18,62.97 L346.6,62.66 L347.03,63.32 L347.46,62.64 L347.89,61.96 L348.31,60.88 L348.74,59.83 L349.17,58.95 L349.6,57.33 L350.03,55.66 L350.45,54.2 L350.88,53.62 L351.31,52.31 L351.74,53.48 L352.16,54.75 L352.59,55.85 L353.02,57.33 L353.45,58.32 L353.87,60.33 L354.3,61.21 L354.73,61.44 L355.16,60.99 L355.58,61.93 L356.01,63.37 L356.44,64.47 L356.87,64.98 L357.29,65.04 L357.72,64.95 L358.15,65.45 L358.58,66.21 L359,63.76 L359.43,61.36 L359.86,57.69 L360.29,60.81 L360.72,63.06 L361.14,63.6 L361.57,64.61 L362,65.52 L362.43,66.39 L362.85,65.85 L363.28,66.17 L363.71,65.27 L364.14,63.37 L364.56,59.06 L364.99,58.16 L365.42,61.36 L365.85,61.76 L366.27,62.26 L366.7,64.91 L367.13,65.72 L367.56,66.49 L367.98,65.98 L368.41,66.07 L368.84,66.15 L369.27,66.1 L369.69,65.78 L370.12,66.34 L370.55,66.49 L370.98,65.21 L371.41,66.27 L371.83,66.33 L372.26,66.56 L372.69,65.74 L373.12,66.16 L373.54,65.77 L373.97,66.58 L374.4,66.34 L374.83,66 L375.25,66.37 L375.68,66.34 L376.11,66.56 L376.54,66.5 L376.96,66.54 L377.39,66.45 L377.82,66.05 L378.25,65.37 L378.67,63.31 L379.1,62.49 L379.53,62.75 L379.96,63.84 L380.38,64.67 L380.81,65.95 L381.24,65.67 L381.67,66.35 L382.1,66.59 L382.52,66.36 L382.95,66.59 L383.38,66.2 L383.81,66.7 L384.23,66.12 L384.66,66.2 L385.09,66.77 L385.52,66.59 L385.94,66.26 L386.37,65.87 L386.8,65.38 L387.23,63.72 L387.65,62.81 L388.08,62.96 L388.51,65.13 L388.94,66.16 L389.36,66.22 L389.79,66.44 L390.22,66.36 L390.65,66.22 L391.07,66.37 L391.5,66.37 L391.93,66.76 L392.36,66.16 L392.79,63.59 L393.21,62.43 L393.64,64.04 L394.07,65.3 L394.5,64.48 L394.92,66.06 L395.35,65.77 L395.78,64.7 L396.21,62.61 L396.63,64.3 L397.06,65.34 L397.49,65.28 L397.92,66.1 L398.34,66.76 L398.77,66.33 L399.2,66.23 L399.63,66.69 L400.05,66.66 L400.48,66.67 L400.91,66.45 L401.34,66.19 L401.76,66.71 L402.19,66.47 L402.62,65.86 L403.05,65.88 L403.48,65.29 L403.9,64.96 L404.33,65.25 L404.76,65.73 L405.19,66.18 L405.61,66.4 L406.04,66.38 L406.47,66.65 L406.9,66.75 L407.32,66.74 L407.75,66.79 L408.18,66.45 L408.61,64.39 L409.03,62.13 L409.46,64.16 L409.89,64.99 L410.32,65.74 L410.74,66.49 L411.17,66.56 L411.6,65.83 L412.03,66.69 L412.45,66.8 L412.88,66.33 L413.31,66.65 L413.74,66.5 L414.17,65.96 L414.59,66.64 L415.02,66.5 L415.45,65.78 L415.88,66.1 L416.3,66.35 L416.73,66.26 L417.16,66.5 L417.59,66.67 L418.01,66.74 L418.44,66.62 L418.87,66.28 L419.3,64.41 L419.72,64.32 L420.15,65.41 L420.58,65.71 L421.01,65.37 L421.43,66.52 L421.86,66.4 L422.29,66.38 L422.72,66.06 L423.14,66.77 L423.57,65.78 L424,66.7 L424.43,66.31 L424.86,66.44 L425.28,65.91 L425.71,66.64 L426.14,65.72 L426.57,66 L426.99,66.43 L427.42,66.35 L427.85,66.69 L428.28,66.09 L428.7,66.19 L429.13,66.68 L429.56,66.01 L429.99,66.58 L430.41,65.85 L430.84,66.39 L431.27,66.23 L431.7,65.84 L432.12,66.37 L432.55,66.39 L432.98,66.69 L433.41,66.32 L433.83,66.15 L434.26,66.3 L434.69,65.36 L435.12,66.54 L435.55,66.33 L435.97,66.63 L436.4,66.74 L436.83,66.06 L437.26,66.25 L437.68,66.33 L438.11,66.73 L438.54,66.67 L438.97,66.52 L439.39,66.06 L439.82,65.67 L440.25,66.61 L440.68,66.21 L441.1,66.69 L441.53,66.8 L441.96,66.77 L442.39,66.12 L442.81,66.8 L443.24,66.55 L443.67,66.31 L444.1,66.49 L444.52,66.13 L444.95,65.67 L445.38,64.99 L445.81,64.76 L446.24,65.93 L446.66,65.56 L447.09,66.57 L447.52,66.34 L447.95,66.74 L448.37,66.49 L448.8,65.67 L449.23,66.57 L449.66,65.97 L450.08,66.48 L450.51,66.69 L450.94,65.66 L451.37,66.71 L451.79,66.02 L452.22,65.67 L452.65,66.1 L453.08,66.25 L453.5,65.37 L453.93,63.76 L454.36,63.78 L454.79,65.47 L455.21,66.54 L455.64,66.72 L456.07,66.37 L456.5,65.54 L456.93,66.29 L457.35,66.51 L457.78,66.31 L458.21,66.14 L458.64,66.39 L459.06,66.35 L459.49,66.21 L459.92,64.83 L460.35,63.45 L460.77,64.89 L461.2,64.53 L461.63,65.92 L462.06,66.47 L462.48,66.57 L462.91,65.96 L463.34,66.6 L463.77,65.99 L464.19,66.1 L464.62,66.75 L465.05,66.38 L465.48,66.8 L465.9,66.79 L466.33,66.45 L466.76,66.63 L467.19,66.47 L467.62,66.31 L468.04,65.51 L468.47,66.28 L468.9,66.73 L469.33,66.19 L469.75,66.8 L470.18,66.46 L470.61,64.77 L471.04,63.02 L471.46,64.65 L471.89,65.91 L472.32,65.36 L472.75,65.23 L473.17,66.64 L473.6,66.26 L474.03,66.27 L474.46,66.69 L474.88,66.73 L475.31,66.27 L475.74,66.7 L476.17,66.41 L476.59,66.36 L477.02,66.63 L477.45,66.38 L477.88,66.38 L478.31,66.08 L478.73,66.66 L479.16,66.74 L479.59,66.6 L480.02,65.96 L480.44,66.5 L480.87,66.62 L481.3,66.7 L481.73,65.99 L482.15,66.48 L482.58,66.57 L483.01,66.5 L483.44,66.61 L483.86,66.33 L484.29,65.25 L484.72,65.15 L485.15,63.52 L485.57,62.52 L486,62.69 L486.43,64.27 L486.86,64.63 L487.28,66.33 L487.71,66.51 L488.14,66.7 L488.57,66.27 L489,66.29 L489.42,65.57 L489.85,66.54 L490.28,66.57 L490.71,66.16 L491.13,66.59 L491.56,66.43 L491.99,66.63 L492.42,66.11 L492.84,66.16 L493.27,66.25 L493.7,66.66 L494.13,66.14 L494.55,66.62 L494.98,65.92 L495.41,66.37 L495.84,66.46 L496.26,65.15 L496.69,63.56 L497.12,64.75 L497.55,65.36 L497.97,66.05 L498.4,66.27 L498.83,66.37 L499.26,66.15 L499.69,66.29 L500.11,66.39 L500.54,66.32 L500.97,65.99 L501.4,65.16 L501.82,64.92 L502.25,65.46 L502.68,66.14 L503.11,65.96 L503.53,66.42 L503.96,66.31 L504.39,66.3 L504.82,65.59 L505.24,66.6 L505.67,66.13 L506.1,66.37 L506.53,66.71 L506.95,66.78 L507.38,66.27 L507.81,65.62 L508.24,66.41 L508.66,66.25 L509.09,65.94 L509.52,66.22 L509.95,66.3 L510.38,66.38 L510.8,66.43 L511.23,66.54 L511.66,66.51 L512.09,66.13 L512.51,66.59 L512.94,66.11 L513.37,64.72 L513.8,64.76 L514.22,65.74 L514.65,66.15 L515.08,66.02 L515.51,66.28 L515.93,66.49 L516.36,66.17 L516.79,66.76 L517.22,66.11 L517.64,65.74 L518.07,65.1 L518.5,65.02 L518.93,66.33 L519.35,66.77 L519.78,66.77 L520.21,66.92 L520.64,67.16 L521.07,66.2 L521.49,66.95 L521.92,65.86 L522.35,64.45 L522.78,63.52 L523.2,62 L523.63,60.18 L524.06,58.65 L524.49,56.7 L524.91,54.42 L525.34,52.1 L525.77,48.99 L526.2,44.88 L526.62,41.59 L527.05,38.5 L527.48,34.89" fill="none" stroke="#ff0000" stroke-width="1.25" stroke-linejoin="round"/><path d="M317.1,29.59 L317.53,29.22 L317.96,30.64 L318.38,31.41 L318.81,30.3 L319.24,30.36 L319.67,29.15 L320.09,30.32 L320.52,30.29 L320.95,33.57 L321.38,36.96 L321.8,42.53 L322.23,48.11 L322.66,52.72 L323.09,57.59 L323.51,59.14 L323.94,60.64 L324.37,60.28 L324.8,60.76 L325.22,62.27 L325.65,62.01 L326.08,62.83 L326.51,62.35 L326.93,62.89 L327.36,63.9 L327.79,63.65 L328.22,64.29 L328.65,64.49 L329.07,64.59 L329.5,64.14 L329.93,62.7 L330.36,64.05 L330.78,64.49 L331.21,64.58 L331.64,65.14 L332.07,64.92 L332.49,65.01 L332.92,65.34 L333.35,64.82 L333.78,65.12 L334.2,64.71 L334.63,65.2 L335.06,65.09 L335.49,65.08 L335.91,65.35 L336.34,65.23 L336.77,65.33 L337.2,65.12 L337.62,65.19 L338.05,64.73 L338.48,65.37 L338.91,64.22 L339.34,63.64 L339.76,63.88 L340.19,64.49 L340.62,64.61 L341.05,65.03 L341.47,63.86 L341.9,63.26 L342.33,61.7 L342.76,60.35 L343.18,60.1 L343.61,58.45 L344.04,56.81 L344.47,51.85 L344.89,46.34 L345.32,42.97 L345.75,38.13 L346.18,41.72 L346.6,44.29 L347.03,46.29 L347.46,48.45 L347.89,48.26 L348.31,49.61 L348.74,50.69 L349.17,52.68 L349.6,54.69 L350.03,55.4 L350.45,56.18 L350.88,58.46 L351.31,60.09 L351.74,60.28 L352.16,61.03 L352.59,61.69 L353.02,62.58 L353.45,63.63 L353.87,64.07 L354.3,64.74 L354.73,64.36 L355.16,64.95 L355.58,64.38 L356.01,65.32 L356.44,64.91 L356.87,65.54 L357.29,65.6 L357.72,65.19 L358.15,65.35 L358.58,66.01 L359,66.17 L359.43,65.48 L359.86,64.11 L360.29,64.81 L360.72,64.27 L361.14,65.08 L361.57,65.35 L362,65.79 L362.43,65.32 L362.85,65.8 L363.28,65.58 L363.71,63.29 L364.14,62.84 L364.56,65.21 L364.99,66.29 L365.42,66.43 L365.85,65.88 L366.27,66 L366.7,66.12 L367.13,65.92 L367.56,65.81 L367.98,66.37 L368.41,65.99 L368.84,66.33 L369.27,65.23 L369.69,66.32 L370.12,64.04 L370.55,62.36 L370.98,64.23 L371.41,64.81 L371.83,65.58 L372.26,66.15 L372.69,65.46 L373.12,65.26 L373.54,66.15 L373.97,66.54 L374.4,66.29 L374.83,65.33 L375.25,64.07 L375.68,63.45 L376.11,63.36 L376.54,63.97 L376.96,65.66 L377.39,65.43 L377.82,66.54 L378.25,66.31 L378.67,66.73 L379.1,66.17 L379.53,66.2 L379.96,66.74 L380.38,66.49 L380.81,66.64 L381.24,66.78 L381.67,66.48 L382.1,66.56 L382.52,66.57 L382.95,66.33 L383.38,66.74 L383.81,65.25 L384.23,66.37 L384.66,66.74 L385.09,65.39 L385.52,66.25 L385.94,64.6 L386.37,63.93 L386.8,63.12 L387.23,63.37 L387.65,63.49 L388.08,63.89 L388.51,65.32 L388.94,65.45 L389.36,65.41 L389.79,65.01 L390.22,65.66 L390.65,66.55 L391.07,66.58 L391.5,65.04 L391.93,64.45 L392.36,64.97 L392.79,65.52 L393.21,64.94 L393.64,66.07 L394.07,66.42 L394.5,65.92 L394.92,66.68 L395.35,66.12 L395.78,65.62 L396.21,66.13 L396.63,66.5 L397.06,66.35 L397.49,66.63 L397.92,66.62 L398.34,65.81 L398.77,66.63 L399.2,66.21 L399.63,66.58 L400.05,66.07 L400.48,66.23 L400.91,65.43 L401.34,65.59 L401.76,66.09 L402.19,66.38 L402.62,66.76 L403.05,66.4 L403.48,66.12 L403.9,66.74 L404.33,66.72 L404.76,66.5 L405.19,66.67 L405.61,66.4 L406.04,65.85 L406.47,60.06 L406.9,53.92 L407.32,59.71 L407.75,62.58 L408.18,65.03 L408.61,66.61 L409.03,66.52 L409.46,66.7 L409.89,66.28 L410.32,66.07 L410.74,66.3 L411.17,66.69 L411.6,66.6 L412.03,65.98 L412.45,66.21 L412.88,65.75 L413.31,65.61 L413.74,66.3 L414.17,66.29 L414.59,66.2 L415.02,66.71 L415.45,65.9 L415.88,66.34 L416.3,66.29 L416.73,66.56 L417.16,66.46 L417.59,66.77 L418.01,66.75 L418.44,66.73 L418.87,65.99 L419.3,66.38 L419.72,64.3 L420.15,63.48 L420.58,65.22 L421.01,66.16 L421.43,66.47 L421.86,66.62 L422.29,66.78 L422.72,66.42 L423.14,66.64 L423.57,66.65 L424,66.76 L424.43,66.77 L424.86,66.2 L425.28,65.54 L425.71,66.58 L426.14,65.04 L426.57,65.19 L426.99,65.68 L427.42,64.87 L427.85,62.69 L428.28,63.87 L428.7,64.58 L429.13,66.12 L429.56,66 L429.99,66 L430.41,66.78 L430.84,65.95 L431.27,65.68 L431.7,65.66 L432.12,66.67 L432.55,66.74 L432.98,66.71 L433.41,66.15 L433.83,66.55 L434.26,66.27 L434.69,66.5 L435.12,66.03 L435.55,66.75 L435.97,66.8 L436.4,66.69 L436.83,66.34 L437.26,66.56 L437.68,66.69 L438.11,66.13 L438.54,66.73 L438.97,66.74 L439.39,66.77 L439.82,65.85 L440.25,66.35 L440.68,66.61 L441.1,66.35 L441.53,66.66 L441.96,66.76 L442.39,66.46 L442.81,66.32 L443.24,65.9 L443.67,66.35 L444.1,63.93 L444.52,61.71 L444.95,62.86 L445.38,65.03 L445.81,65.41 L446.24,66.08 L446.66,65.62 L447.09,64.88 L447.52,63.03 L447.95,63.02 L448.37,63.09 L448.8,64.49 L449.23,65.39 L449.66,65.78 L450.08,66.26 L450.51,66.08 L450.94,66.65 L451.37,66.42 L451.79,66.01 L452.22,66.51 L452.65,66.3 L453.08,65.86 L453.5,66.53 L453.93,66.33 L454.36,66.2 L454.79,66.2 L455.21,66.46 L455.64,66.71 L456.07,65.3 L456.5,66.05 L456.93,66 L457.35,65.16 L457.78,64.48 L458.21,65.74 L458.64,66.07 L459.06,65.17 L459.49,66.35 L459.92,66.74 L460.35,66.38 L460.77,66.7 L461.2,66.53 L461.63,66.57 L462.06,66.74 L462.48,66.46 L462.91,66.26 L463.34,66.73 L463.77,66.64 L464.19,64.9 L464.62,64.79 L465.05,64.91 L465.48,65.99 L465.9,65.8 L466.33,66.19 L466.76,66.34 L467.19,66.64 L467.62,66.33 L468.04,66.71 L468.47,66.41 L468.9,66.64 L469.33,66.26 L469.75,66.7 L470.18,66.52 L470.61,66.53 L471.04,66.76 L471.46,65.88 L471.89,66.72 L472.32,66.75 L472.75,66.64 L473.17,66.19 L473.6,66.34 L474.03,66.46 L474.46,66.14 L474.88,66 L475.31,66.66 L475.74,66.42 L476.17,66.02 L476.59,65.85 L477.02,66.71 L477.45,65.91 L477.88,66.29 L478.31,66.69 L478.73,66.29 L479.16,66.52 L479.59,66.42 L480.02,66.63 L480.44,66.14 L480.87,65.52 L481.3,65.99 L481.73,66.66 L482.15,66.58 L482.58,66.18 L483.01,66.57 L483.44,65.99 L483.86,66.27 L484.29,66.8 L484.72,66.56 L485.15,66.22 L485.57,66.72 L486,66.18 L486.43,65.65 L486.86,66.58 L487.28,66.26 L487.71,66.48 L488.14,65.89 L488.57,66.55 L489,66.29 L489.42,64.87 L489.85,63.13 L490.28,64.63 L490.71,65.59 L491.13,65.83 L491.56,65.64 L491.99,66.78 L492.42,66.73 L492.84,66.61 L493.27,66.73 L493.7,66.16 L494.13,65.65 L494.55,66.54 L494.98,66.25 L495.41,66.49 L495.84,66.71 L496.26,66.41 L496.69,65.52 L497.12,66.53 L497.55,66.47 L497.97,66.67 L498.4,66.04 L498.83,65.66 L499.26,64.91 L499.69,64.77 L500.11,64.21 L500.54,65.28 L500.97,66.09 L501.4,66.75 L501.82,66.29 L502.25,66.59 L502.68,66.51 L503.11,66.28 L503.53,66.52 L503.96,66.6 L504.39,66.06 L504.82,65.39 L505.24,63.85 L505.67,65.3 L506.1,65.35 L506.53,66.04 L506.95,66.34 L507.38,66.3 L507.81,66.72 L508.24,66.63 L508.66,66.25 L509.09,66.37 L509.52,65.94 L509.95,66.7 L510.38,65.67 L510.8,65.81 L511.23,66.33 L511.66,66.5 L512.09,66.46 L512.51,66.27 L512.94,66.47 L513.37,66.44 L513.8,66.02 L514.22,66.23 L514.65,66.29 L515.08,66.4 L515.51,65.89 L515.93,66.44 L516.36,65.96 L516.79,66.04 L517.22,65.86 L517.64,64.31 L518.07,65.75 L518.5,65.69 L518.93,65.96 L519.35,66.25 L519.78,66.32 L520.21,65.32 L520.64,64.36 L521.07,63.39 L521.49,62.01 L521.92,60.55 L522.35,61.12 L522.78,60.34 L523.2,59.81 L523.63,59.21" fill="none" stroke="#008000" stroke-width="1.25" stroke-linejoin="round"/><path d="M317.1,29.37 L317.53,35.87 L317.96,36.49 L318.38,30.15 L318.81,33.5 L319.24,31.78 L319.67,30.99 L320.09,31 L320.52,30.99 L320.95,34.37 L321.38,36.9 L321.8,43.43 L322.23,49.4 L322.66,53.22 L323.09,59.24 L323.51,60.68 L323.94,61.94 L324.37,62.42 L324.8,62.03 L325.22,63.42 L325.65,63.29 L326.08,64.28 L326.51,64.6 L326.93,64.87 L327.36,65.12 L327.79,65.51 L328.22,65.59 L328.65,65.38 L329.07,66.02 L329.5,65.14 L329.93,64.25 L330.36,65.3 L330.78,65.29 L331.21,65.95 L331.64,65.79 L332.07,65.91 L332.49,66.31 L332.92,65.82 L333.35,65.37 L333.78,64.47 L334.2,64.14 L334.63,62.95 L335.06,63.14 L335.49,63.69 L335.91,64.95 L336.34,65.57 L336.77,66 L337.2,65.68 L337.62,66.05 L338.05,65.89 L338.48,65.78 L338.91,65.58 L339.34,64.88 L339.76,65.09 L340.19,65.61 L340.62,65.83 L341.05,66.08 L341.47,65.57 L341.9,65.54 L342.33,65.56 L342.76,65 L343.18,64.76 L343.61,64.68 L344.04,63.76 L344.47,62.59 L344.89,61.45 L345.32,60.13 L345.75,59.21 L346.18,58.38 L346.6,57.55 L347.03,56.27 L347.46,57.12 L347.89,57.76 L348.31,58.15 L348.74,58.6 L349.17,59.95 L349.6,60.59 L350.03,61.5 L350.45,62.41 L350.88,63.21 L351.31,63.64 L351.74,64.3 L352.16,65.35 L352.59,64.74 L353.02,65.58 L353.45,65.22 L353.87,65.36 L354.3,65.94 L354.73,65.55 L355.16,66.22 L355.58,66.27 L356.01,65.65 L356.44,66.31 L356.87,66.07 L357.29,66.56 L357.72,66.66 L358.15,66.98 L358.58,67.1 L359,67.06 L359.43,66.11 L359.86,65.7 L360.29,66.33 L360.72,66.72 L361.14,66.74 L361.57,66.58 L362,67.23 L362.43,66.66 L362.85,67.05 L363.28,67.21 L363.71,66.67 L364.14,66.97 L364.56,66.89 L364.99,66.9 L365.42,66.99 L365.85,67.13 L366.27,67.05 L366.7,66.97 L367.13,67.31 L367.56,67 L367.98,67.24 L368.41,67.1 L368.84,66.95 L369.27,67.4 L369.69,66.65 L370.12,67.28 L370.55,67.37 L370.98,67.44 L371.41,67.04 L371.83,67.37 L372.26,67.31 L372.69,67.4 L373.12,66.96 L373.54,67.27 L373.97,66.53 L374.4,65.98 L374.83,64.45 L375.25,64.32 L375.68,65.15 L376.11,63.44 L376.54,63.74 L376.96,65.91 L377.39,67.11 L377.82,67.47 L378.25,67.28 L378.67,67.19 L379.1,67.33 L379.53,66.65 L379.96,66 L380.38,64.01 L380.81,64.1 L381.24,65.42 L381.67,67.14 L382.1,67.47 L382.52,67.34 L382.95,67.6 L383.38,67.63 L383.81,67.07 L384.23,67.05 L384.66,67.5 L385.09,67.62 L385.52,66.87 L385.94,67.17 L386.37,66.91 L386.8,67.41 L387.23,67.52 L387.65,67.57 L388.08,67.57 L388.51,67.39 L388.94,67.32 L389.36,67.17 L389.79,67.09 L390.22,67.53 L390.65,66.62 L391.07,66.96 L391.5,67.65 L391.93,67.12 L392.36,67.63 L392.79,67.5 L393.21,67.28 L393.64,67.05 L394.07,66.92 L394.5,67.59 L394.92,67.12 L395.35,67.17 L395.78,67.67 L396.21,67.26 L396.63,67.53 L397.06,67.02 L397.49,66.91 L397.92,66.29 L398.34,65.8 L398.77,66.5 L399.2,66.94 L399.63,66.72 L400.05,66.93 L400.48,67.34 L400.91,67.53 L401.34,67.39 L401.76,67.11 L402.19,67.14 L402.62,67.56 L403.05,66.67 L403.48,67.68 L403.9,67.15 L404.33,66.79 L404.76,67.62 L405.19,67.55 L405.61,67.43 L406.04,67.53 L406.47,67.16 L406.9,67.66 L407.32,67.32 L407.75,66.95 L408.18,67.47 L408.61,67.43 L409.03,67.5 L409.46,67.45 L409.89,66.74 L410.32,67.5 L410.74,67 L411.17,67.56 L411.6,67.54 L412.03,67.5 L412.45,67.44 L412.88,67.55 L413.31,67.15 L413.74,67.32 L414.17,67.38 L414.59,67.68 L415.02,67.46 L415.45,67.13 L415.88,67.43 L416.3,67.66 L416.73,66.92 L417.16,67.15 L417.59,66.44 L418.01,65.81 L418.44,65.51 L418.87,65.47 L419.3,66.05 L419.72,66.3 L420.15,67.16 L420.58,67.2 L421.01,67.42 L421.43,66.11 L421.86,64.43 L422.29,65.92 L422.72,66.62 L423.14,66.89 L423.57,66.97 L424,67.31 L424.43,67.68 L424.86,67.6 L425.28,67.18 L425.71,67.51 L426.14,67.5 L426.57,67.44 L426.99,66.81 L427.42,67.38 L427.85,67.29 L428.28,67.29 L428.7,67.37 L429.13,67.15 L429.56,67.25 L429.99,67.6 L430.41,67.32 L430.84,67.2 L431.27,67.67 L431.7,67.61 L432.12,67.46 L432.55,67.57 L432.98,67.58 L433.41,67.48 L433.83,67.63 L434.26,67.54 L434.69,67.08 L435.12,67.37 L435.55,67.47 L435.97,66.94 L436.4,67.13 L436.83,67.61 L437.26,67.2 L437.68,67.49 L438.11,67.4 L438.54,67.41 L438.97,66.93 L439.39,67.58 L439.82,67.5 L440.25,67.61 L440.68,67.56 L441.1,67.42 L441.53,67.34 L441.96,66.77 L442.39,67.37 L442.81,66.96 L443.24,67.34 L443.67,66.98 L444.1,67.2 L444.52,66.91 L444.95,67.14 L445.38,67.52 L445.81,67.56 L446.24,66.87 L446.66,67.47 L447.09,67.48 L447.52,67 L447.95,66.46 L448.37,65.11 L448.8,63.2 L449.23,63.83 L449.66,65.12 L450.08,65.8 L450.51,67.27 L450.94,67.53 L451.37,67.63 L451.79,67.45 L452.22,67.26 L452.65,67.54 L453.08,67.12 L453.5,67.66 L453.93,66.87 L454.36,67.37 L454.79,66.48 L455.21,65.62 L455.64,64.75 L456.07,64.22 L456.5,64.35 L456.93,64.56 L457.35,66.16 L457.78,66.72 L458.21,67.29 L458.64,67.6 L459.06,67.59 L459.49,67.41 L459.92,67.57 L460.35,67.48 L460.77,67.53 L461.2,67.65 L461.63,67.64 L462.06,66.1 L462.48,63.15 L462.91,65.1 L463.34,66.22 L463.77,67.64 L464.19,67.26 L464.62,67.19 L465.05,67.26 L465.48,67.53 L465.9,67.06 L466.33,67.14 L466.76,67.49 L467.19,66.14 L467.62,64.2 L468.04,64.98 L468.47,66.77 L468.9,67.07 L469.33,66.72 L469.75,66.92 L470.18,65.89 L470.61,64.93 L471.04,66 L471.46,67.19 L471.89,67.5 L472.32,67.67 L472.75,67.02 L473.17,67.68 L473.6,67.33 L474.03,67.34 L474.46,67.33 L474.88,66.9 L475.31,65.38 L475.74,65.87 L476.17,67.15 L476.59,67.6 L477.02,67.12 L477.45,67.66 L477.88,67.13 L478.31,67.46 L478.73,67.51 L479.16,67.63 L479.59,67.5 L480.02,67.24 L480.44,67.36 L480.87,67.46 L481.3,67.53 L481.73,67.22 L482.15,67.24 L482.58,66.71 L483.01,67.44 L483.44,67.66 L483.86,67.06 L484.29,67.23 L484.72,67.55 L485.15,67.57 L485.57,67.64 L486,67.29 L486.43,67.65 L486.86,67.05 L487.28,67.06 L487.71,66.57 L488.14,65.83 L488.57,66.63 L489,66.96 L489.42,67.24 L489.85,67.36 L490.28,67.53 L490.71,67.61 L491.13,67.14 L491.56,67.14 L491.99,67.19 L492.42,67.09 L492.84,66.9 L493.27,67.2 L493.7,67.15 L494.13,67.21 L494.55,67.2 L494.98,67.19 L495.41,67.14 L495.84,66.1 L496.26,66.56 L496.69,67.1 L497.12,66.63 L497.55,66.6 L497.97,67.05 L498.4,66.89 L498.83,66.97 L499.26,66.72 L499.69,65.75 L500.11,66.49 L500.54,66.9 L500.97,66.35 L501.4,66.63 L501.82,66.3 L502.25,66.28 L502.68,66.63 L503.11,66.48 L503.53,65.93 L503.96,66.25 L504.39,66.34 L504.82,66.28 L505.24,66.59 L505.67,66.52 L506.1,66.31 L506.53,66.33 L506.95,66.38 L507.38,66.29 L507.81,65.49 L508.24,66.35 L508.66,65.54 L509.09,66.2 L509.52,66.3 L509.95,65.76 L510.38,66.02 L510.8,65.52 L511.23,66.18 L511.66,65.3 L512.09,65.5 L512.51,65.73 L512.94,65.9 L513.37,66.04 L513.8,65.2 L514.22,65.31 L514.65,65.39 L515.08,65.78 L515.51,65.69 L515.93,65.4 L516.36,64.57 L516.79,64.35 L517.22,64.3 L517.64,65.33 L518.07,65.44 L518.5,64.85 L518.93,65.01 L519.35,65.07 L519.78,65.28 L520.21,65.5 L520.64,65.27 L521.07,64.71 L521.49,64.84 L521.92,64.93 L522.35,64.33 L522.78,63.8 L523.2,62.55 L523.63,62.43" fill="none" stroke="#0000ff" stroke-width="1.25" stroke-linejoin="round"/><path d="M317.1,29.8 L317.53,30.36 L317.96,30.94 L318.38,31.17 L318.81,30.72 L319.24,30.13 L319.67,29.35 L320.09,29.8 L320.52,30.24 L320.95,32.76 L321.38,36.8 L321.8,42.43 L322.23,48.13 L322.66,52.99 L323.09,57.79 L323.51,58.66 L323.94,60.55 L324.37,60.36 L324.8,61.31 L325.22,62.29 L325.65,61.91 L326.08,62.22 L326.51,63.27 L326.93,63.34 L327.36,61.84 L327.79,61.17 L328.22,63.08 L328.65,63.63 L329.07,64.4 L329.5,63.98 L329.93,65.09 L330.36,65.09 L330.78,65.44 L331.21,65.24 L331.64,65.3 L332.07,64.78 L332.49,64.67 L332.92,65.08 L333.35,65.21 L333.78,65.11 L334.2,64.19 L334.63,62.15 L335.06,61.96 L335.49,64.08 L335.91,63.39 L336.34,61.41 L336.77,63.48 L337.2,63.84 L337.62,64.33 L338.05,64.69 L338.48,64.88 L338.91,65.03 L339.34,64.45 L339.76,64.6 L340.19,64.27 L340.62,64.18 L341.05,64 L341.47,63.65 L341.9,64 L342.33,63.17 L342.76,62.27 L343.18,61.47 L343.61,61.35 L344.04,59.89 L344.47,57.56 L344.89,54.49 L345.32,51.32 L345.75,49.75 L346.18,47.48 L346.6,49.31 L347.03,50.62 L347.46,50.7 L347.89,52.26 L348.31,52.42 L348.74,53.43 L349.17,54.62 L349.6,56.07 L350.03,56.57 L350.45,58.21 L350.88,59.15 L351.31,60.25 L351.74,61.15 L352.16,62.47 L352.59,62.6 L353.02,63.38 L353.45,63.32 L353.87,63.87 L354.3,64.45 L354.73,63.88 L355.16,64.94 L355.58,64.11 L356.01,64.28 L356.44,65.35 L356.87,65.44 L357.29,65.11 L357.72,65.38 L358.15,65.76 L358.58,65.58 L359,66.1 L359.43,64.94 L359.86,64.08 L360.29,64.54 L360.72,64.55 L361.14,65.81 L361.57,65.7 L362,65.6 L362.43,66.18 L362.85,66.08 L363.28,65.15 L363.71,66.2 L364.14,65.88 L364.56,66.21 L364.99,65.34 L365.42,65.65 L365.85,66.01 L366.27,66.33 L366.7,65.39 L367.13,64.86 L367.56,63.79 L367.98,63.49 L368.41,62.94 L368.84,62.84 L369.27,63.3 L369.69,63.66 L370.12,63.04 L370.55,61.37 L370.98,63.25 L371.41,64.46 L371.83,65.46 L372.26,65.98 L372.69,66.02 L373.12,66 L373.54,66.32 L373.97,66.53 L374.4,66.29 L374.83,66.09 L375.25,66.04 L375.68,66.68 L376.11,66.43 L376.54,65.73 L376.96,65.92 L377.39,66.33 L377.82,66.51 L378.25,66.34 L378.67,65.95 L379.1,65.84 L379.53,64.63 L379.96,64.18 L380.38,64.77 L380.81,65.81 L381.24,65.91 L381.67,66.42 L382.1,65.99 L382.52,66.38 L382.95,66.47 L383.38,64.94 L383.81,62.77 L384.23,63.89 L384.66,66.05 L385.09,66.68 L385.52,65.94 L385.94,66.11 L386.37,66.29 L386.8,66.71 L387.23,66.68 L387.65,66.8 L388.08,66.16 L388.51,65.56 L388.94,66.55 L389.36,66.7 L389.79,66.63 L390.22,66.45 L390.65,66.32 L391.07,66.48 L391.5,64.52 L391.93,63.15 L392.36,64.54 L392.79,65.27 L393.21,65.61 L393.64,66.05 L394.07,66.61 L394.5,66.08 L394.92,66.21 L395.35,65.36 L395.78,65.01 L396.21,65.05 L396.63,64.7 L397.06,65.92 L397.49,66.25 L397.92,65.81 L398.34,66.78 L398.77,66.47 L399.2,66.44 L399.63,65.81 L400.05,66.27 L400.48,66.32 L400.91,66.16 L401.34,66.66 L401.76,66.62 L402.19,65.71 L402.62,66.78 L403.05,66.67 L403.48,65.87 L403.9,66.55 L404.33,65.72 L404.76,66.41 L405.19,66.34 L405.61,66.66 L406.04,65.96 L406.47,63.58 L406.9,61.32 L407.32,63.65 L407.75,64.82 L408.18,64.79 L408.61,65.61 L409.03,66.18 L409.46,66.62 L409.89,66.57 L410.32,65.43 L410.74,65.63 L411.17,65 L411.6,63.36 L412.03,64.4 L412.45,65.04 L412.88,65.69 L413.31,66.25 L413.74,66.29 L414.17,65.97 L414.59,66.24 L415.02,66.76 L415.45,66.07 L415.88,65.65 L416.3,66.45 L416.73,65.73 L417.16,65.6 L417.59,64.1 L418.01,63.62 L418.44,64.25 L418.87,64.58 L419.3,65.35 L419.72,66.07 L420.15,66.54 L420.58,66.72 L421.01,66.5 L421.43,66.27 L421.86,66.31 L422.29,66.55 L422.72,66.44 L423.14,66.14 L423.57,66.27 L424,66.4 L424.43,65.92 L424.86,66.74 L425.28,66.38 L425.71,66.29 L426.14,66.37 L426.57,65.95 L426.99,66.6 L427.42,65.93 L427.85,64.83 L428.28,62.95 L428.7,64.29 L429.13,64.99 L429.56,65.9 L429.99,66.23 L430.41,66.15 L430.84,66.65 L431.27,66.78 L431.7,66.56 L432.12,66.26 L432.55,66.34 L432.98,59.11 L433.41,64.12 L433.83,66.13 L434.26,65.8 L434.69,66.63 L435.12,66.72 L435.55,66 L435.97,66.45 L436.4,66.06 L436.83,65.77 L437.26,66.45 L437.68,66.75 L438.11,66.68 L438.54,65.95 L438.97,66.49 L439.39,66.28 L439.82,66.78 L440.25,66.61 L440.68,66.59 L441.1,65.95 L441.53,66.04 L441.96,66.51 L442.39,66.17 L442.81,66.21 L443.24,66.71 L443.67,66.49 L444.1,66.59 L444.52,66.06 L444.95,64.8 L445.38,63.58 L445.81,64.48 L446.24,65.02 L446.66,66.09 L447.09,66.46 L447.52,66.59 L447.95,66.54 L448.37,66.5 L448.8,66.28 L449.23,66.07 L449.66,66.61 L450.08,65.64 L450.51,66.55 L450.94,66.7 L451.37,66.63 L451.79,66.39 L452.22,66.02 L452.65,66.1 L453.08,66.19 L453.5,66.46 L453.93,66.09 L454.36,65.8 L454.79,66.61 L455.21,66.7 L455.64,66.29 L456.07,66.66 L456.5,66.53 L456.93,66.68 L457.35,66.79 L457.78,66.68 L458.21,66.7 L458.64,66.32 L459.06,66.57 L459.49,66.37 L459.92,66.61 L460.35,66.44 L460.77,66.39 L461.2,65.77 L461.63,65.9 L462.06,66.68 L462.48,66.73 L462.91,66.77 L463.34,66.76 L463.77,66.04 L464.19,65.59 L464.62,64.45 L465.05,65 L465.48,65.33 L465.9,65.78 L466.33,65.99 L466.76,65.78 L467.19,65.79 L467.62,66.65 L468.04,66.76 L468.47,66.78 L468.9,66.63 L469.33,66.65 L469.75,66.17 L470.18,65.9 L470.61,66.38 L471.04,66.01 L471.46,66.24 L471.89,66.38 L472.32,66.7 L472.75,66.58 L473.17,65.91 L473.6,66.78 L474.03,65.95 L474.46,66.77 L474.88,66.26 L475.31,66.64 L475.74,66.37 L476.17,66.73 L476.59,66.38 L477.02,66.49 L477.45,64.73 L477.88,62.41 L478.31,64.1 L478.73,65.86 L479.16,66.71 L479.59,66.52 L480.02,66.17 L480.44,66.47 L480.87,66.44 L481.3,66.72 L481.73,65.86 L482.15,66.55 L482.58,66.5 L483.01,66.75 L483.44,65.9 L483.86,66.72 L484.29,65.89 L484.72,66.16 L485.15,66.46 L485.57,66.38 L486,66.66 L486.43,66.8 L486.86,66.42 L487.28,66.51 L487.71,66.27 L488.14,65.65 L488.57,66.76 L489,66.63 L489.42,65.85 L489.85,66.71 L490.28,65.61 L490.71,66.52 L491.13,66.51 L491.56,66.25 L491.99,65.88 L492.42,66.67 L492.84,66.34 L493.27,66.02 L493.7,66.25 L494.13,66.27 L494.55,66.77 L494.98,66.78 L495.41,66.31 L495.84,66.17 L496.26,64.97 L496.69,64.47 L497.12,64.76 L497.55,64.49 L497.97,65.13 L498.4,65.09 L498.83,66.37 L499.26,66.25 L499.69,66.64 L500.11,66.33 L500.54,66.5 L500.97,66.59 L501.4,66.56 L501.82,66.37 L502.25,65.74 L502.68,66.42 L503.11,66.62 L503.53,66.14 L503.96,66.79 L504.39,66.63 L504.82,66.76 L505.24,66.76 L505.67,66.74 L506.1,66.61 L506.53,66.64 L506.95,66.7 L507.38,65.83 L507.81,66.63 L508.24,66.26 L508.66,65.78 L509.09,63.1 L509.52,63.34 L509.95,65.9 L510.38,66.12 L510.8,66.47 L511.23,65.97 L511.66,64.55 L512.09,65.51 L512.51,65.71 L512.94,65.74 L513.37,66.23 L513.8,66.5 L514.22,66.37 L514.65,66.35 L515.08,66.3 L515.51,65.67 L515.93,66.05 L516.36,65.74 L516.79,64.53 L517.22,64.37 L517.64,63.46 L518.07,62.67 L518.5,61.73 L518.93,59.89 L519.35,59.95 L519.78,59.25 L520.21,55.8 L520.64,52.51 L521.07,50.25 L521.49,47.32 L521.92,44.32 L522.35,52.81 L522.78,60.65" fill="none" stroke="#ffd700" stroke-width="1.25" stroke-linejoin="round"/><path d="M317.1,30.3 L317.53,30.58 L317.96,30.69 L318.38,30.99 L318.81,30.2 L319.24,30.39 L319.67,29.88 L320.09,30.18 L320.52,29.93 L320.95,33.56 L321.38,37.13 L321.8,42.31 L322.23,48.16 L322.66,52.61 L323.09,57.71 L323.51,59.15 L323.94,60.68 L324.37,61.16 L324.8,60.82 L325.22,61.95 L325.65,62.05 L326.08,62.95 L326.51,63.33 L326.93,63.65 L327.36,64.05 L327.79,64.46 L328.22,64.66 L328.65,64.95 L329.07,65.51 L329.5,64.48 L329.93,64.07 L330.36,64.91 L330.78,65.28 L331.21,64.97 L331.64,64.87 L332.07,65.78 L332.49,65.67 L332.92,65.52 L333.35,65.32 L333.78,65.65 L334.2,65.69 L334.63,65.87 L335.06,65.8 L335.49,65.89 L335.91,65.48 L336.34,65.85 L336.77,65.62 L337.2,65.21 L337.62,65.4 L338.05,65.77 L338.48,65.79 L338.91,64.67 L339.34,63.87 L339.76,64.06 L340.19,64.84 L340.62,65.3 L341.05,65.7 L341.47,65.6 L341.9,65.11 L342.33,64.65 L342.76,63.79 L343.18,64.49 L343.61,64.05 L344.04,61.26 L344.47,59.63 L344.89,57.85 L345.32,55.85 L345.75,53.27 L346.18,51.36 L346.6,49.51 L347.03,47.94 L347.46,48.46 L347.89,48.51 L348.31,48.58 L348.74,49.48 L349.17,50 L349.6,51.08 L350.03,53.02 L350.45,54.87 L350.88,56.29 L351.31,58.21 L351.74,59.44 L352.16,60.04 L352.59,61.24 L353.02,62.52 L353.45,63.48 L353.87,63.64 L354.3,64.04 L354.73,64.93 L355.16,64.9 L355.58,65.34 L356.01,64.62 L356.44,65.78 L356.87,65.13 L357.29,65.26 L357.72,66.17 L358.15,66.42 L358.58,65.5 L359,66.43 L359.43,65.78 L359.86,65.3 L360.29,65.96 L360.72,65.99 L361.14,66.5 L361.57,66.57 L362,66.73 L362.43,66.49 L362.85,66.65 L363.28,66.13 L363.71,66.73 L364.14,66.88 L364.56,66.64 L364.99,66.68 L365.42,66.53 L365.85,66.58 L366.27,66.75 L366.7,66.63 L367.13,66.86 L367.56,66.69 L367.98,66.53 L368.41,66.94 L368.84,66.61 L369.27,66.55 L369.69,66.58 L370.12,65.95 L370.55,64.71 L370.98,65.23 L371.41,65.64 L371.83,66.06 L372.26,66.35 L372.69,65.97 L373.12,64.87 L373.54,63.98 L373.97,64.89 L374.4,64.77 L374.83,65.69 L375.25,65.91 L375.68,66.73 L376.11,66.88 L376.54,66.58 L376.96,66.49 L377.39,67.06 L377.82,67.06 L378.25,67.12 L378.67,66.93 L379.1,66.09 L379.53,66.05 L379.96,64.21 L380.38,62.62 L380.81,63.12 L381.24,63.37 L381.67,64.92 L382.1,66.49 L382.52,66.87 L382.95,67.19 L383.38,66.85 L383.81,66.98 L384.23,66.38 L384.66,67.22 L385.09,66.78 L385.52,66.98 L385.94,67.15 L386.37,66.32 L386.8,67.01 L387.23,66.88 L387.65,67.09 L388.08,66.78 L388.51,67.21 L388.94,67.23 L389.36,67.13 L389.79,67.06 L390.22,66.84 L390.65,66.71 L391.07,67.07 L391.5,66.61 L391.93,66.77 L392.36,67.24 L392.79,67.15 L393.21,67.18 L393.64,66.72 L394.07,66.26 L394.5,67.24 L394.92,67 L395.35,67.19 L395.78,66.52 L396.21,66.69 L396.63,67.15 L397.06,66.62 L397.49,66.39 L397.92,66.99 L398.34,67.1 L398.77,67.14 L399.2,67 L399.63,66.72 L400.05,66.89 L400.48,66.61 L400.91,67.13 L401.34,66.77 L401.76,67.24 L402.19,66.56 L402.62,66.78 L403.05,66.2 L403.48,66.54 L403.9,66.34 L404.33,65.5 L404.76,64.51 L405.19,64.32 L405.61,64.89 L406.04,61.44 L406.47,56.11 L406.9,61.4 L407.32,63.62 L407.75,65.41 L408.18,66.4 L408.61,67.22 L409.03,66.85 L409.46,67.25 L409.89,67.2 L410.32,67.17 L410.74,67.1 L411.17,67.19 L411.6,66.87 L412.03,66.7 L412.45,66.99 L412.88,65.65 L413.31,64.58 L413.74,65.93 L414.17,66.42 L414.59,66.67 L415.02,67.16 L415.45,66.75 L415.88,66.85 L416.3,66.55 L416.73,67.01 L417.16,67.09 L417.59,67.07 L418.01,66.89 L418.44,66.81 L418.87,67.12 L419.3,66.85 L419.72,66.98 L420.15,66.83 L420.58,66.28 L421.01,66.82 L421.43,66.63 L421.86,66.86 L422.29,66.79 L422.72,66.17 L423.14,65.35 L423.57,64.07 L424,63.94 L424.43,65.93 L424.86,66.41 L425.28,66.8 L425.71,66.21 L426.14,66.65 L426.57,66 L426.99,66.55 L427.42,66.77 L427.85,66.72 L428.28,67.08 L428.7,67.08 L429.13,67.1 L429.56,66.68 L429.99,66.64 L430.41,66.7 L430.84,66.74 L431.27,67.17 L431.7,66.84 L432.12,67.12 L432.55,66.67 L432.98,66.74 L433.41,67.05 L433.83,66.92 L434.26,66.93 L434.69,66.97 L435.12,66.84 L435.55,67.24 L435.97,66.18 L436.4,67.07 L436.83,66.94 L437.26,66.87 L437.68,66.37 L438.11,66.38 L438.54,66.2 L438.97,66.24 L439.39,66.14 L439.82,66.77 L440.25,66.92 L440.68,67.1 L441.1,66.54 L441.53,66.98 L441.96,67.11 L442.39,67.13 L442.81,67.04 L443.24,67.23 L443.67,66.98 L444.1,65.72 L444.52,64.13 L444.95,65.43 L445.38,65.28 L445.81,66.61 L446.24,66.71 L446.66,66.91 L447.09,66.73 L447.52,66.2 L447.95,67.04 L448.37,66.81 L448.8,66.43 L449.23,67.07 L449.66,67.13 L450.08,66.8 L450.51,66.92 L450.94,66.38 L451.37,64.91 L451.79,63.07 L452.22,63.65 L452.65,65.55 L453.08,66.88 L453.5,66.36 L453.93,66.95 L454.36,67.24 L454.79,66.27 L455.21,66.72 L455.64,67.14 L456.07,66.86 L456.5,67.09 L456.93,67.21 L457.35,66.64 L457.78,67.12 L458.21,66.64 L458.64,67.02 L459.06,65.79 L459.49,66.62 L459.92,67.01 L460.35,66.76 L460.77,66.95 L461.2,66.5 L461.63,67.15 L462.06,66.67 L462.48,67.13 L462.91,67.07 L463.34,67.17 L463.77,67.15 L464.19,66.36 L464.62,65.64 L465.05,66.45 L465.48,66.67 L465.9,66.7 L466.33,67.04 L466.76,66.7 L467.19,66.43 L467.62,66.38 L468.04,67.11 L468.47,66.89 L468.9,67.2 L469.33,66.88 L469.75,67.06 L470.18,67.19 L470.61,66.6 L471.04,66.94 L471.46,66.62 L471.89,66.41 L472.32,67.2 L472.75,67.18 L473.17,66.96 L473.6,66.75 L474.03,66.92 L474.46,66.73 L474.88,67.06 L475.31,67.02 L475.74,66.91 L476.17,66.74 L476.59,67.13 L477.02,66.97 L477.45,66.78 L477.88,66.87 L478.31,66.81 L478.73,67.19 L479.16,66.69 L479.59,66.19 L480.02,65.11 L480.44,63.88 L480.87,63.81 L481.3,65.22 L481.73,66.66 L482.15,66.81 L482.58,66.88 L483.01,66.89 L483.44,66.77 L483.86,66.86 L484.29,67.23 L484.72,67.04 L485.15,67.22 L485.57,66.91 L486,67.18 L486.43,67.03 L486.86,67 L487.28,67.08 L487.71,66.66 L488.14,66.58 L488.57,64.98 L489,63.7 L489.42,63.9 L489.85,64.16 L490.28,65.53 L490.71,65.21 L491.13,66.35 L491.56,66.97 L491.99,67.2 L492.42,66.94 L492.84,66.97 L493.27,66.73 L493.7,66.59 L494.13,66.25 L494.55,65.85 L494.98,64.95 L495.41,63.95 L495.84,63.27 L496.26,63.85 L496.69,65.42 L497.12,65.86 L497.55,66.55 L497.97,66.84 L498.4,66.93 L498.83,67.04 L499.26,66.88 L499.69,66.89 L500.11,67.17 L500.54,66.82 L500.97,67.19 L501.4,67.09 L501.82,67.08 L502.25,66.3 L502.68,67.05 L503.11,67.16 L503.53,67.23 L503.96,66.89 L504.39,66.91 L504.82,66.59 L505.24,66.31 L505.67,66.53 L506.1,66.71 L506.53,65.74 L506.95,66.82 L507.38,67.12 L507.81,66.86 L508.24,66.74 L508.66,67.14 L509.09,66.98 L509.52,67.14 L509.95,66.42 L510.38,66.54 L510.8,66.44 L511.23,66.6 L511.66,66.67 L512.09,66.86 L512.51,66.53 L512.94,66.72 L513.37,65.62 L513.8,66.48 L514.22,66.63 L514.65,66.99 L515.08,66.81 L515.51,66.84 L515.93,66.16 L516.36,66.68 L516.79,66.49 L517.22,66.29 L517.64,66.8 L518.07,66.82 L518.5,66.41 L518.93,66.63 L519.35,66.84 L519.78,66.65 L520.21,66.67 L520.64,66.53 L521.07,65.44 L521.49,65.91 L521.92,65.41 L522.35,65.33 L522.78,64.04 L523.2,62.25 L523.63,60.8 L524.06,59.62" fill="none" stroke="#009090" stroke-width="1.25" stroke-linejoin="round"/><path d="M307,23.3 L307,75.3 L537.6,75.3" fill="none" stroke="#111" stroke-width="1.1"/><text x="283.6" y="107.1" font-family="'Liberation Sans', Arial, Helvetica, sans-serif" font-weight="bold" font-size="10.5" fill="#111">d)</text><text transform="translate(290.4,136.3) rotate(-90)" text-anchor="middle" font-family="'Liberation Sans', Arial, Helvetica, sans-serif" font-weight="bold" font-size="8.8" fill="#111">RMSF (nm)</text><line x1="305.5" y1="156.13" x2="307" y2="156.13" stroke="#111" stroke-width="0.8"/><text x="304.2" y="159.53" text-anchor="end" font-family="'Liberation Sans', Arial, Helvetica, sans-serif" font-weight="bold" font-size="8.2" fill="#222">0.1</text><line x1="305.5" y1="147.29" x2="307" y2="147.29" stroke="#111" stroke-width="0.8"/><text x="304.2" y="150.69" text-anchor="end" font-family="'Liberation Sans', Arial, Helvetica, sans-serif" font-weight="bold" font-size="8.2" fill="#222">0.3</text><line x1="305.5" y1="138.45" x2="307" y2="138.45" stroke="#111" stroke-width="0.8"/><text x="304.2" y="141.85" text-anchor="end" font-family="'Liberation Sans', Arial, Helvetica, sans-serif" font-weight="bold" font-size="8.2" fill="#222">0.5</text><line x1="305.5" y1="129.61" x2="307" y2="129.61" stroke="#111" stroke-width="0.8"/><text x="304.2" y="133.01" text-anchor="end" font-family="'Liberation Sans', Arial, Helvetica, sans-serif" font-weight="bold" font-size="8.2" fill="#222">0.7</text><line x1="305.5" y1="120.77" x2="307" y2="120.77" stroke="#111" stroke-width="0.8"/><text x="304.2" y="124.17" text-anchor="end" font-family="'Liberation Sans', Arial, Helvetica, sans-serif" font-weight="bold" font-size="8.2" fill="#222">0.9</text><line x1="317.1" y1="163.3" x2="317.1" y2="164.9" stroke="#111" stroke-width="0.8"/><text x="317.1" y="172.2" text-anchor="middle" font-family="'Liberation Sans', Arial, Helvetica, sans-serif" font-weight="bold" font-size="8.4" fill="#111">0</text><line x1="339.85" y1="163.3" x2="339.85" y2="164.9" stroke="#111" stroke-width="0.8"/><text x="339.85" y="172.2" text-anchor="middle" font-family="'Liberation Sans', Arial, Helvetica, sans-serif" font-weight="bold" font-size="8.4" fill="#111">50</text><line x1="362.6" y1="163.3" x2="362.6" y2="164.9" stroke="#111" stroke-width="0.8"/><text x="362.6" y="172.2" text-anchor="middle" font-family="'Liberation Sans', Arial, Helvetica, sans-serif" font-weight="bold" font-size="8.4" fill="#111">100</text><line x1="385.35" y1="163.3" x2="385.35" y2="164.9" stroke="#111" stroke-width="0.8"/><text x="385.35" y="172.2" text-anchor="middle" font-family="'Liberation Sans', Arial, Helvetica, sans-serif" font-weight="bold" font-size="8.4" fill="#111">150</text><line x1="408.1" y1="163.3" x2="408.1" y2="164.9" stroke="#111" stroke-width="0.8"/><text x="408.1" y="172.2" text-anchor="middle" font-family="'Liberation Sans', Arial, Helvetica, sans-serif" font-weight="bold" font-size="8.4" fill="#111">200</text><line x1="430.85" y1="163.3" x2="430.85" y2="164.9" stroke="#111" stroke-width="0.8"/><text x="430.85" y="172.2" text-anchor="middle" font-family="'Liberation Sans', Arial, Helvetica, sans-serif" font-weight="bold" font-size="8.4" fill="#111">250</text><line x1="453.6" y1="163.3" x2="453.6" y2="164.9" stroke="#111" stroke-width="0.8"/><text x="453.6" y="172.2" text-anchor="middle" font-family="'Liberation Sans', Arial, Helvetica, sans-serif" font-weight="bold" font-size="8.4" fill="#111">300</text><line x1="476.35" y1="163.3" x2="476.35" y2="164.9" stroke="#111" stroke-width="0.8"/><text x="476.35" y="172.2" text-anchor="middle" font-family="'Liberation Sans', Arial, Helvetica, sans-serif" font-weight="bold" font-size="8.4" fill="#111">350</text><line x1="499.1" y1="163.3" x2="499.1" y2="164.9" stroke="#111" stroke-width="0.8"/><text x="499.1" y="172.2" text-anchor="middle" font-family="'Liberation Sans', Arial, Helvetica, sans-serif" font-weight="bold" font-size="8.4" fill="#111">400</text><line x1="521.85" y1="163.3" x2="521.85" y2="164.9" stroke="#111" stroke-width="0.8"/><text x="521.85" y="172.2" text-anchor="middle" font-family="'Liberation Sans', Arial, Helvetica, sans-serif" font-weight="bold" font-size="8.4" fill="#111">450</text><text x="422.6" y="181.6" text-anchor="middle" font-family="'Liberation Sans', Arial, Helvetica, sans-serif" font-weight="bold" font-size="8.8" fill="#111">Residue</text><rect x="340.6" y="110.7" width="7.5" height="51.6" rx="1.6" fill="#94eaf6" stroke="#102020" stroke-width="1.05" stroke-dasharray="2,1"/><rect x="406.8" y="110.7" width="4.3" height="51.6" rx="1.6" fill="#94eaf6" stroke="#102020" stroke-width="1.05" stroke-dasharray="2,1"/><rect x="466.8" y="110.7" width="3.6" height="51.6" rx="1.6" fill="#94eaf6" stroke="#102020" stroke-width="1.05" stroke-dasharray="2,1"/><line x1="307" y1="147.29" x2="536" y2="147.29" stroke="#9b2ff0" stroke-width="1.1" stroke-dasharray="5.6,2.6,1.4,2.575" stroke-dashoffset="8.175"/><path d="M317.1,144.95 L317.56,151.18 L318.01,153.07 L318.47,155.09 L318.92,155.74 L319.38,155.54 L319.83,155.6 L320.29,155.57 L320.74,155.94 L321.2,155.79 L321.65,155.94 L322.11,155.99 L322.56,155.68 L323.02,155.79 L323.47,155.86 L323.93,156.13 L324.38,155.77 L324.84,156.18 L325.29,156.31 L325.75,156.28 L326.2,156.5 L326.66,155.91 L327.11,154.95 L327.56,155.84 L328.02,155.85 L328.48,154.66 L328.93,154 L329.39,154.33 L329.84,155.96 L330.3,156.56 L330.75,156.61 L331.21,156.49 L331.66,156.38 L332.12,153.85 L332.57,150.79 L333.03,147.67 L333.48,150.36 L333.94,152.67 L334.39,153.74 L334.85,154.24 L335.3,154.37 L335.75,153.96 L336.21,154.4 L336.67,155.44 L337.12,156.18 L337.58,156.66 L338.03,156.31 L338.49,156.76 L338.94,156.77 L339.4,156.72 L339.85,156.7 L340.31,156.32 L340.76,156.29 L341.22,153.62 L341.67,148.14 L342.12,142.45 L342.58,137.31 L343.04,142.2 L343.49,146.93 L343.95,149.01 L344.4,150.77 L344.86,152.65 L345.31,154.08 L345.77,155.74 L346.22,156.56 L346.68,156.46 L347.13,156.77 L347.59,156.79 L348.04,156.79 L348.5,156.63 L348.95,156.61 L349.41,156.43 L349.86,156.56 L350.32,156.76 L350.77,156.74 L351.23,155.26 L351.68,153.26 L352.14,150.86 L352.59,152.19 L353.05,152.69 L353.5,152.64 L353.96,152.29 L354.41,153.23 L354.87,155.58 L355.32,156.43 L355.78,156.74 L356.23,156.53 L356.69,156.37 L357.14,156.31 L357.6,155.75 L358.05,154.84 L358.5,155.55 L358.96,156.38 L359.42,156.45 L359.87,154.52 L360.33,152.27 L360.78,149.44 L361.24,152 L361.69,153.76 L362.15,154.21 L362.6,154.51 L363.06,155.42 L363.51,155.46 L363.97,154 L364.42,153.53 L364.88,153.21 L365.33,154.72 L365.79,156 L366.24,156.29 L366.7,156.13 L367.15,156.51 L367.61,155 L368.06,153.61 L368.52,155.09 L368.97,155.7 L369.43,156.17 L369.88,156.14 L370.34,156.47 L370.79,156.43 L371.25,156.77 L371.7,156.77 L372.16,156.51 L372.61,156.48 L373.07,156.66 L373.52,156.32 L373.98,156.54 L374.43,156.55 L374.89,156.22 L375.34,154.58 L375.8,153.39 L376.25,154.84 L376.71,155.34 L377.16,155.83 L377.62,156.56 L378.07,156.34 L378.53,156.64 L378.98,156.07 L379.44,156.45 L379.89,156.32 L380.35,156.6 L380.8,156.68 L381.25,156.53 L381.71,156.56 L382.17,156.4 L382.62,156.25 L383.08,155.46 L383.53,154.3 L383.99,152.53 L384.44,151.9 L384.9,152.22 L385.35,153.19 L385.81,155.16 L386.26,155.96 L386.72,156.38 L387.17,156.29 L387.62,156.59 L388.08,156.26 L388.54,156.36 L388.99,156.58 L389.45,156.49 L389.9,156.61 L390.36,156.49 L390.81,156.75 L391.27,156.51 L391.72,156.32 L392.18,156.04 L392.63,155.22 L393.09,154.5 L393.54,154.21 L394,154.83 L394.45,155.7 L394.91,154.73 L395.36,153.27 L395.82,151.53 L396.27,153.11 L396.73,154.22 L397.18,155.06 L397.63,155.18 L398.09,156.08 L398.55,156.72 L399,156.79 L399.46,156.59 L399.91,156.51 L400.37,156.75 L400.82,156.75 L401.28,156.44 L401.73,156.43 L402.19,156.7 L402.64,156.41 L403.1,156.4 L403.55,156.65 L404,156.24 L404.46,156.52 L404.92,156.19 L405.37,156.75 L405.83,156.7 L406.28,156.57 L406.74,156.67 L407.19,156.57 L407.65,156.65 L408.1,156.6 L408.56,151.93 L409.01,147.04 L409.47,151.69 L409.92,153.6 L410.38,155.2 L410.83,156.42 L411.29,156.73 L411.74,156.76 L412.2,156.29 L412.65,156.07 L413.11,156.76 L413.56,156.74 L414.02,156.58 L414.47,155.83 L414.93,156.78 L415.38,156.59 L415.84,156.48 L416.29,156.67 L416.75,156.34 L417.2,156.3 L417.66,155.8 L418.11,154.6 L418.57,154.3 L419.02,155.04 L419.48,155.24 L419.93,155.39 L420.38,154.92 L420.84,155.31 L421.3,156.4 L421.75,156.63 L422.21,156.57 L422.66,156.18 L423.12,154.92 L423.57,154.25 L424.03,155.16 L424.48,155.22 L424.94,156.15 L425.39,156.3 L425.85,156.64 L426.3,156.31 L426.75,156.32 L427.21,156.72 L427.67,156.65 L428.12,156.71 L428.58,156.62 L429.03,156.52 L429.49,156.72 L429.94,156.59 L430.4,155.46 L430.85,154.28 L431.31,154.83 L431.76,154.69 L432.22,154.44 L432.67,154.65 L433.12,155.42 L433.58,155.98 L434.04,156.37 L434.49,156.68 L434.95,156.75 L435.4,156.46 L435.86,156.45 L436.31,156.64 L436.77,156.71 L437.22,156.36 L437.68,156.31 L438.13,156.44 L438.59,156.72 L439.04,156.37 L439.5,154.99 L439.95,153.76 L440.41,154.96 L440.86,155.55 L441.32,156.07 L441.77,156.24 L442.23,156.52 L442.68,156.68 L443.14,156.75 L443.59,156.79 L444.05,156.67 L444.5,156.44 L444.96,156.58 L445.41,156.05 L445.87,156.75 L446.32,156.31 L446.78,155.72 L447.23,155.78 L447.69,155.26 L448.14,155.45 L448.6,154.97 L449.05,154.82 L449.5,153.53 L449.96,152.76 L450.42,152.09 L450.87,151.47 L451.33,154.11 L451.78,155.26 L452.24,155.68 L452.69,156.32 L453.15,156.74 L453.6,156.33 L454.06,156.54 L454.51,156.7 L454.97,156.75 L455.42,156.76 L455.88,156.77 L456.33,156.56 L456.79,156.62 L457.24,156.77 L457.7,156.32 L458.15,156.06 L458.61,154.97 L459.06,154.45 L459.51,155.23 L459.97,156.38 L460.43,156.16 L460.88,156.45 L461.34,156.39 L461.79,156.42 L462.25,156.65 L462.7,156.42 L463.16,156.58 L463.61,156.66 L464.07,156.6 L464.52,156.44 L464.98,156.5 L465.43,156.49 L465.88,156.72 L466.34,156.21 L466.8,156.43 L467.25,153.17 L467.71,148.25 L468.16,152.37 L468.62,154.11 L469.07,155.71 L469.53,156.53 L469.98,156.47 L470.44,156.51 L470.89,156.13 L471.35,155.71 L471.8,155.17 L472.25,154.83 L472.71,154.92 L473.17,155.52 L473.62,155.61 L474.08,155.68 L474.53,156.57 L474.99,156.4 L475.44,156.59 L475.9,155.69 L476.35,155.1 L476.81,155.74 L477.26,155.92 L477.72,156.25 L478.17,156.4 L478.62,156.26 L479.08,156.15 L479.54,156.44 L479.99,155.99 L480.45,156.62 L480.9,156.7 L481.36,156.73 L481.81,156.64 L482.26,156.31 L482.72,155.41 L483.18,153.76 L483.63,154.9 L484.09,155.8 L484.54,156.11 L485,156.28 L485.45,155.92 L485.91,156.76 L486.36,156.68 L486.82,156.71 L487.27,156.41 L487.73,156.64 L488.18,156.17 L488.63,156.53 L489.09,156.57 L489.55,156.69 L490,156.53 L490.46,156.34 L490.91,156.52 L491.37,156.65 L491.82,156.69 L492.28,156.49 L492.73,156.69 L493.19,156.58 L493.64,156.61 L494.1,156.72 L494.55,156.28 L495,156.74 L495.46,156.52 L495.92,156.69 L496.37,156.4 L496.83,156.79 L497.28,156.67 L497.74,156.09 L498.19,156.3 L498.65,155.84 L499.1,154.72 L499.56,155.68 L500.01,156.23 L500.47,156.24 L500.92,156.58 L501.38,156.68 L501.83,156.19 L502.29,156.32 L502.74,155.94 L503.2,156.45 L503.65,156.6 L504.11,156.44 L504.56,156.76 L505.02,156.5 L505.47,156.11 L505.93,156.19 L506.38,156.16 L506.84,156.42 L507.29,156.37 L507.75,155.42 L508.2,154.42 L508.66,154.81 L509.11,155.97 L509.57,156.11 L510.02,156.12 L510.48,155.46 L510.93,154.13 L511.38,154.49 L511.84,154.58 L512.3,155.47 L512.75,155.77 L513.21,156.1 L513.66,156.56 L514.12,156.62 L514.57,156.76 L515.03,156.68 L515.48,156.06 L515.94,155.36 L516.39,153.62 L516.85,152.04 L517.3,150.99 L517.75,153.9 L518.21,155.26 L518.66,155.84 L519.12,156.23 L519.58,156.48 L520.03,156.02 L520.49,155.77 L520.94,155.62 L521.39,155.43 L521.85,154.82 L522.31,154.78 L522.76,154.09 L523.22,153.99 L523.67,153.84 L524.12,153.4 L524.58,153.25 L525.04,152.86 L525.49,152.3" fill="none" stroke="#0000ff" stroke-width="1.25" stroke-linejoin="round"/><path d="M317.1,146.8 L317.56,152.17 L318.01,153.9 L318.47,155.91 L318.92,155.7 L319.38,155.72 L319.83,156.03 L320.29,156 L320.74,156.4 L321.2,156.35 L321.65,156.51 L322.11,156.33 L322.56,156.07 L323.02,156.6 L323.47,156.43 L323.93,156.91 L324.38,156.84 L324.84,156.62 L325.29,156.88 L325.75,157.12 L326.2,156.73 L326.66,154.57 L327.11,152.96 L327.56,153.87 L328.02,154.96 L328.48,155.72 L328.93,154.55 L329.39,154.41 L329.84,155.47 L330.3,156.78 L330.75,156.78 L331.21,157.25 L331.66,157.04 L332.12,154.05 L332.57,150.1 L333.03,146.81 L333.48,150.32 L333.94,152.69 L334.39,153.84 L334.85,154.45 L335.3,154.65 L335.75,154.82 L336.21,154.79 L336.67,155.55 L337.12,156.38 L337.58,156.68 L338.03,157.08 L338.49,156.78 L338.94,156.72 L339.4,157.21 L339.85,157.14 L340.31,157.25 L340.76,157.26 L341.22,157.15 L341.67,153.88 L342.12,148.41 L342.58,142.27 L343.04,135.15 L343.49,139.12 L343.95,142.7 L344.4,144.98 L344.86,146.91 L345.31,148.79 L345.77,151.87 L346.22,155.18 L346.68,156.38 L347.13,155.15 L347.59,154.58 L348.04,155.99 L348.5,156.58 L348.95,157.3 L349.41,156.88 L349.86,157.19 L350.32,157.16 L350.77,157.25 L351.23,155.71 L351.68,153.61 L352.14,151.6 L352.59,153.07 L353.05,154.73 L353.5,155.4 L353.96,156.09 L354.41,156.64 L354.87,156.52 L355.32,156.94 L355.78,157.43 L356.23,156.69 L356.69,157.23 L357.14,157.21 L357.6,157.21 L358.05,157.42 L358.5,157.05 L358.96,157.37 L359.42,157.36 L359.87,155 L360.33,151.62 L360.78,148.6 L361.24,151.21 L361.69,153.61 L362.15,154.56 L362.6,155.65 L363.06,156.32 L363.51,156.85 L363.97,155.84 L364.42,156.4 L364.88,157.04 L365.33,157.12 L365.79,157.23 L366.24,156.9 L366.7,157.43 L367.15,157 L367.61,154.26 L368.06,153.03 L368.52,154.79 L368.97,155.88 L369.43,156.3 L369.88,156.92 L370.34,157.36 L370.79,156.79 L371.25,156.88 L371.7,156.47 L372.16,155.66 L372.61,155.12 L373.07,154.78 L373.52,155.38 L373.98,155.89 L374.43,156.93 L374.89,157.1 L375.34,155.08 L375.8,153.86 L376.25,154.98 L376.71,155.97 L377.16,156.44 L377.62,156.91 L378.07,157.16 L378.53,157.34 L378.98,157.39 L379.44,157.09 L379.89,157.04 L380.35,157.1 L380.8,157.04 L381.25,157.35 L381.71,157.03 L382.17,157.08 L382.62,157.27 L383.08,157.44 L383.53,157.35 L383.99,157.32 L384.44,156.79 L384.9,156.51 L385.35,155.45 L385.81,155.51 L386.26,156.47 L386.72,157.08 L387.17,157.32 L387.62,157.01 L388.08,157.17 L388.54,157.04 L388.99,157.24 L389.45,156.79 L389.9,155.85 L390.36,154.24 L390.81,154.31 L391.27,154.48 L391.72,155.64 L392.18,156.71 L392.63,156.95 L393.09,157.11 L393.54,157.05 L394,156.83 L394.45,157.4 L394.91,155.91 L395.36,153.97 L395.82,152.01 L396.27,153.47 L396.73,154.95 L397.18,155.5 L397.63,156.14 L398.09,156.75 L398.55,157.24 L399,157.21 L399.46,157 L399.91,156.09 L400.37,155.71 L400.82,156.77 L401.28,157.38 L401.73,156.82 L402.19,157.29 L402.64,157.25 L403.1,156.98 L403.55,157.24 L404,157.21 L404.46,157.36 L404.92,156.95 L405.37,156.91 L405.83,157.34 L406.28,157.13 L406.74,157.22 L407.19,157.36 L407.65,157.34 L408.1,157.43 L408.56,154.73 L409.01,151.7 L409.47,154.18 L409.92,155.62 L410.38,156.59 L410.83,157.37 L411.29,157.24 L411.74,157.21 L412.2,156.53 L412.65,155.95 L413.11,155.15 L413.56,155.47 L414.02,156.37 L414.47,156.89 L414.93,157.28 L415.38,157.15 L415.84,157.18 L416.29,157.39 L416.75,156.62 L417.2,157.32 L417.66,157.37 L418.11,157.42 L418.57,157.39 L419.02,157.45 L419.48,156.78 L419.93,157.36 L420.38,156.9 L420.84,157.23 L421.3,157.15 L421.75,157.23 L422.21,157.3 L422.66,156.95 L423.12,155.67 L423.57,154.66 L424.03,155.59 L424.48,155.34 L424.94,154.16 L425.39,153.63 L425.85,154.64 L426.3,156.94 L426.75,157.31 L427.21,157.31 L427.67,157.29 L428.12,157.32 L428.58,157.32 L429.03,157.16 L429.49,157.2 L429.94,157.3 L430.4,156.19 L430.85,155.1 L431.31,155.68 L431.76,156.26 L432.22,156.84 L432.67,156.96 L433.12,157.13 L433.58,157.45 L434.04,157.45 L434.49,157.11 L434.95,157.28 L435.4,157.33 L435.86,157.13 L436.31,157.23 L436.77,156.64 L437.22,157.24 L437.68,157.15 L438.13,157.06 L438.59,157.21 L439.04,157.21 L439.5,155.37 L439.95,153.86 L440.41,155.45 L440.86,155.78 L441.32,156.33 L441.77,157.23 L442.23,156.57 L442.68,157.3 L443.14,157.3 L443.59,157.06 L444.05,157.04 L444.5,157.28 L444.96,157.06 L445.41,156.2 L445.87,154.09 L446.32,154.98 L446.78,156.58 L447.23,157.08 L447.69,157.32 L448.14,157.09 L448.6,157.08 L449.05,156.89 L449.5,157.45 L449.96,156.95 L450.42,154.84 L450.87,153.03 L451.33,154.39 L451.78,155.87 L452.24,156.34 L452.69,156.57 L453.15,156.95 L453.6,157.19 L454.06,157.31 L454.51,157.22 L454.97,156.79 L455.42,156.88 L455.88,157.4 L456.33,157.34 L456.79,156.97 L457.24,156.75 L457.7,154.87 L458.15,154.14 L458.61,154.31 L459.06,155.62 L459.51,156.86 L459.97,157.33 L460.43,157.39 L460.88,157.3 L461.34,157.34 L461.79,157.34 L462.25,157.38 L462.7,157.08 L463.16,156.89 L463.61,157.23 L464.07,157.38 L464.52,157.13 L464.98,156.63 L465.43,156.96 L465.88,156.42 L466.34,156.12 L466.8,155.66 L467.25,152.17 L467.71,148.05 L468.16,152.52 L468.62,154.13 L469.07,156.13 L469.53,156.93 L469.98,157.17 L470.44,157.28 L470.89,157.32 L471.35,157.24 L471.8,156.9 L472.25,157.03 L472.71,156.22 L473.17,155.79 L473.62,154.67 L474.08,154.48 L474.53,154.14 L474.99,154.64 L475.44,155.54 L475.9,155.83 L476.35,155.68 L476.81,156.34 L477.26,155.87 L477.72,156.64 L478.17,156.91 L478.62,157.09 L479.08,157.08 L479.54,156.48 L479.99,157.24 L480.45,157.14 L480.9,156.91 L481.36,157.26 L481.81,157.01 L482.26,156.97 L482.72,155.94 L483.18,155.24 L483.63,155.73 L484.09,156.04 L484.54,156.69 L485,156.78 L485.45,157.22 L485.91,157.38 L486.36,157.09 L486.82,157.29 L487.27,157.35 L487.73,157.34 L488.18,157.13 L488.63,157.37 L489.09,157.1 L489.55,157.26 L490,157.18 L490.46,157.2 L490.91,156.62 L491.37,156.09 L491.82,155.05 L492.28,153.98 L492.73,153.85 L493.19,153.94 L493.64,155.12 L494.1,155.98 L494.55,156.5 L495,156.8 L495.46,157.22 L495.92,157.26 L496.37,157.39 L496.83,157 L497.28,157.4 L497.74,157.4 L498.19,156.71 L498.65,156.3 L499.1,155.99 L499.56,156.3 L500.01,156.69 L500.47,157.16 L500.92,157.11 L501.38,156.76 L501.83,157.04 L502.29,157.42 L502.74,157.37 L503.2,157.05 L503.65,156.1 L504.11,155.12 L504.56,154.78 L505.02,155.74 L505.47,156.74 L505.93,157.27 L506.38,157.36 L506.84,156.78 L507.29,156.98 L507.75,156.51 L508.2,155.56 L508.66,156.19 L509.11,156.46 L509.57,156.66 L510.02,157.32 L510.48,157.06 L510.93,156.79 L511.38,157.21 L511.84,157.05 L512.3,156.72 L512.75,156.77 L513.21,156.85 L513.66,156.81 L514.12,156.14 L514.57,156.59 L515.03,156.16 L515.48,156.13 L515.94,156.03 L516.39,156.13 L516.85,156.2 L517.3,155.88 L517.75,155.89 L518.21,155.48 L518.66,155.69 L519.12,155.89 L519.58,155.73 L520.03,155.78 L520.49,155.53 L520.94,155.64 L521.39,155.72 L521.85,155.14 L522.31,154.99 L522.76,154.67 L523.22,154.89 L523.67,154.57 L524.12,154.13 L524.58,153.98 L525.04,152.49 L525.49,151.56 L525.95,143.35 L526.4,135.45 L526.86,127.46 L527.31,119.09" fill="none" stroke="#ff0000" stroke-width="1.25" stroke-linejoin="round"/><path d="M317.1,140.02 L317.56,147.21 L318.01,154.34 L318.47,153.98 L318.92,155.09 L319.38,154.55 L319.83,155.04 L320.29,155.2 L320.74,155.17 L321.2,155.23 L321.65,155.47 L322.11,155.45 L322.56,155.58 L323.02,155.21 L323.47,155.6 L323.93,155.78 L324.38,155.66 L324.84,155.79 L325.29,155.92 L325.75,155.99 L326.2,155.96 L326.66,155.31 L327.11,154.59 L327.56,155.31 L328.02,155.18 L328.48,155.83 L328.93,155.57 L329.39,155.86 L329.84,156.11 L330.3,155.13 L330.75,155.78 L331.21,155.56 L331.66,155.98 L332.12,152.59 L332.57,148.88 L333.03,145.53 L333.48,148.87 L333.94,151.77 L334.39,152.65 L334.85,153.26 L335.3,154.68 L335.75,155.83 L336.21,156.02 L336.67,156.1 L337.12,155.47 L337.58,155.71 L338.03,155.72 L338.49,156.04 L338.94,155.76 L339.4,155.66 L339.85,155.99 L340.31,156.05 L340.76,152.09 L341.22,145.27 L341.67,138.16 L342.12,131.72 L342.58,137.56 L343.04,143.38 L343.49,146.71 L343.95,148.63 L344.4,150.89 L344.86,152.74 L345.31,155.05 L345.77,155.78 L346.22,155.71 L346.68,155.78 L347.13,155.33 L347.59,156.08 L348.04,155.92 L348.5,155.62 L348.95,154.77 L349.41,155.67 L349.86,155.96 L350.32,155.82 L350.77,155.21 L351.23,154.4 L351.68,152.49 L352.14,150.6 L352.59,151.92 L353.05,152.82 L353.5,152.46 L353.96,152.15 L354.41,153.57 L354.87,154.83 L355.32,155.28 L355.78,155.64 L356.23,155.53 L356.69,155.91 L357.14,155.56 L357.6,155.88 L358.05,155.85 L358.5,156 L358.96,155.6 L359.42,156.04 L359.87,153.82 L360.33,150.96 L360.78,148.34 L361.24,150.4 L361.69,152.74 L362.15,153.6 L362.6,154.24 L363.06,154.77 L363.51,155.76 L363.97,156 L364.42,156.12 L364.88,156.04 L365.33,155.9 L365.79,155.79 L366.24,155.62 L366.7,155.49 L367.15,154.58 L367.61,152.98 L368.06,152.16 L368.52,153.19 L368.97,154.78 L369.43,154.72 L369.88,155.74 L370.34,155.97 L370.79,155.92 L371.25,156.02 L371.7,154.8 L372.16,153.76 L372.61,153.65 L373.07,154.9 L373.52,155.45 L373.98,155.93 L374.43,155.8 L374.89,155.66 L375.34,154.29 L375.8,152.5 L376.25,154 L376.71,154.94 L377.16,155.42 L377.62,155.88 L378.07,156.12 L378.53,155.71 L378.98,155.72 L379.44,155.99 L379.89,155.68 L380.35,155.94 L380.8,156.01 L381.25,156.03 L381.71,155.36 L382.17,155.13 L382.62,153.71 L383.08,153.47 L383.53,153.61 L383.99,153.35 L384.44,154.18 L384.9,153.67 L385.35,152.8 L385.81,152.86 L386.26,153.06 L386.72,152.37 L387.17,152.39 L387.62,154.79 L388.08,155.82 L388.54,156.05 L388.99,155.99 L389.45,156.11 L389.9,155.66 L390.36,155.97 L390.81,156.1 L391.27,155.55 L391.72,155.3 L392.18,154.69 L392.63,152.86 L393.09,152.22 L393.54,152.37 L394,153.54 L394.45,154.17 L394.91,152.61 L395.36,150.82 L395.82,150.14 L396.27,151.93 L396.73,153.32 L397.18,153.92 L397.63,154.49 L398.09,155.38 L398.55,155.93 L399,155.8 L399.46,156.03 L399.91,156.04 L400.37,156.04 L400.82,155.86 L401.28,156.07 L401.73,155.84 L402.19,156 L402.64,155.56 L403.1,153.95 L403.55,152.57 L404,150.96 L404.46,151.54 L404.92,151.89 L405.37,153.84 L405.83,154.94 L406.28,155.8 L406.74,155.58 L407.19,155.48 L407.65,155.79 L408.1,155.52 L408.56,153.67 L409.01,150.68 L409.47,153.21 L409.92,154.25 L410.38,154.84 L410.83,155.9 L411.29,155.96 L411.74,155.78 L412.2,155.6 L412.65,156.09 L413.11,155.43 L413.56,156.07 L414.02,155.77 L414.47,156.11 L414.93,155.95 L415.38,155.81 L415.84,155.46 L416.29,156.11 L416.75,155.6 L417.2,155.69 L417.66,155.78 L418.11,156.05 L418.57,155.96 L419.02,155.77 L419.48,156.11 L419.93,156.03 L420.38,155.99 L420.84,155.73 L421.3,155.81 L421.75,155.89 L422.21,155.82 L422.66,155.7 L423.12,154.49 L423.57,153.32 L424.03,154.36 L424.48,155.04 L424.94,155.43 L425.39,155.55 L425.85,155.98 L426.3,155.91 L426.75,155.8 L427.21,155.95 L427.67,155.53 L428.12,154.78 L428.58,153.1 L429.03,152.89 L429.49,154.64 L429.94,155.17 L430.4,154.28 L430.85,150.99 L431.31,150.64 L431.76,151.16 L432.22,151.69 L432.67,152.41 L433.12,154.04 L433.58,155.55 L434.04,155.95 L434.49,155.87 L434.95,155.69 L435.4,155.43 L435.86,155.78 L436.31,155.73 L436.77,156.11 L437.22,155.83 L437.68,156.07 L438.13,155.42 L438.59,155.6 L439.04,155.84 L439.5,154.21 L439.95,152.92 L440.41,153.86 L440.86,154.72 L441.32,155.44 L441.77,155.69 L442.23,155.81 L442.68,155.7 L443.14,155.62 L443.59,155.92 L444.05,155.78 L444.5,155.6 L444.96,156.08 L445.41,155.59 L445.87,155.77 L446.32,156.11 L446.78,155.87 L447.23,155.9 L447.69,156.09 L448.14,155.56 L448.6,155.41 L449.05,154.16 L449.5,153.12 L449.96,152.85 L450.42,150.83 L450.87,148.76 L451.33,151.7 L451.78,153.35 L452.24,154.63 L452.69,155.7 L453.15,155.64 L453.6,156 L454.06,155.92 L454.51,155.81 L454.97,155.45 L455.42,155.37 L455.88,156.12 L456.33,155.91 L456.79,155.96 L457.24,155.79 L457.7,155.7 L458.15,155.88 L458.61,156.1 L459.06,155.95 L459.51,155.77 L459.97,155.21 L460.43,156.1 L460.88,155.84 L461.34,156.11 L461.79,156.1 L462.25,155.77 L462.7,155.96 L463.16,155.98 L463.61,156.06 L464.07,155.82 L464.52,155.87 L464.98,155.92 L465.43,156.04 L465.88,156.01 L466.34,156.08 L466.8,155.86 L467.25,152.11 L467.71,145.94 L468.16,151.23 L468.62,153.1 L469.07,154.34 L469.53,156.11 L469.98,155.86 L470.44,155.97 L470.89,155.06 L471.35,153.19 L471.8,150.81 L472.25,152.89 L472.71,153.96 L473.17,154.52 L473.62,155.63 L474.08,156.13 L474.53,156 L474.99,155.84 L475.44,155.88 L475.9,153.29 L476.35,151.32 L476.81,153.4 L477.26,154.51 L477.72,154.92 L478.17,155.58 L478.62,156.09 L479.08,155.89 L479.54,156.04 L479.99,155.85 L480.45,155.75 L480.9,155.93 L481.36,155.85 L481.81,156.05 L482.26,155.57 L482.72,153.37 L483.18,152.09 L483.63,153.74 L484.09,154.45 L484.54,154.99 L485,155.41 L485.45,155.81 L485.91,156.12 L486.36,156.08 L486.82,155.67 L487.27,154.33 L487.73,153.95 L488.18,154.7 L488.63,155.2 L489.09,155.49 L489.55,153.71 L490,152.49 L490.46,153.52 L490.91,154.4 L491.37,154.99 L491.82,155.44 L492.28,155.62 L492.73,154.55 L493.19,154.01 L493.64,154.51 L494.1,155.27 L494.55,156.07 L495,155.29 L495.46,155.61 L495.92,155.66 L496.37,154.76 L496.83,153.5 L497.28,154.69 L497.74,154.93 L498.19,155.5 L498.65,155.32 L499.1,155.9 L499.56,155.66 L500.01,155.76 L500.47,155.78 L500.92,156.13 L501.38,156.06 L501.83,155.42 L502.29,156.06 L502.74,155.83 L503.2,155.47 L503.65,155.75 L504.11,155.23 L504.56,154.01 L505.02,153.16 L505.47,152.88 L505.93,153.25 L506.38,153.95 L506.84,155 L507.29,154.59 L507.75,154.49 L508.2,153.04 L508.66,154.35 L509.11,155.06 L509.57,155.21 L510.02,155.61 L510.48,155.7 L510.93,155.59 L511.38,155.26 L511.84,154.8 L512.3,154.58 L512.75,154.07 L513.21,154.21 L513.66,153.67 L514.12,153.48 L514.57,153.43 L515.03,153.49 L515.48,152.6 L515.94,153.31 L516.39,152.72 L516.85,152.92 L517.3,152.48 L517.75,152.76 L518.21,152.48 L518.66,151.69 L519.12,151.83 L519.58,151.71 L520.03,151.74 L520.49,151.43 L520.94,151.51 L521.39,151.21 L521.85,151.26 L522.31,151.25 L522.76,150.72 L523.22,150.66 L523.67,150.79 L524.12,150.8 L524.58,150.07 L525.04,149.46 L525.49,144.43 L525.95,139.1 L526.4,134.18 L526.86,128.98 L527.31,123.97" fill="none" stroke="#000000" stroke-width="1.25" stroke-linejoin="round"/><path d="M307,111.3 L307,163.3 L537.6,163.3" fill="none" stroke="#111" stroke-width="1.1"/><text x="286.4" y="193.7" font-family="'Liberation Serif', 'Times New Roman', serif" font-weight="bold" font-size="10.6" fill="#111">f)</text><text transform="translate(290.4,224.3) rotate(-90)" text-anchor="middle" font-family="'Liberation Sans', Arial, Helvetica, sans-serif" font-weight="bold" font-size="8.8" fill="#111">RMSF (nm)</text><line x1="305.5" y1="244.13" x2="307" y2="244.13" stroke="#111" stroke-width="0.8"/><text x="304.2" y="247.53" text-anchor="end" font-family="'Liberation Sans', Arial, Helvetica, sans-serif" font-weight="bold" font-size="8.2" fill="#222">0.1</text><line x1="305.5" y1="235.29" x2="307" y2="235.29" stroke="#111" stroke-width="0.8"/><text x="304.2" y="238.69" text-anchor="end" font-family="'Liberation Sans', Arial, Helvetica, sans-serif" font-weight="bold" font-size="8.2" fill="#222">0.3</text><line x1="305.5" y1="226.45" x2="307" y2="226.45" stroke="#111" stroke-width="0.8"/><text x="304.2" y="229.85" text-anchor="end" font-family="'Liberation Sans', Arial, Helvetica, sans-serif" font-weight="bold" font-size="8.2" fill="#222">0.5</text><line x1="305.5" y1="217.61" x2="307" y2="217.61" stroke="#111" stroke-width="0.8"/><text x="304.2" y="221.01" text-anchor="end" font-family="'Liberation Sans', Arial, Helvetica, sans-serif" font-weight="bold" font-size="8.2" fill="#222">0.7</text><line x1="305.5" y1="208.77" x2="307" y2="208.77" stroke="#111" stroke-width="0.8"/><text x="304.2" y="212.17" text-anchor="end" font-family="'Liberation Sans', Arial, Helvetica, sans-serif" font-weight="bold" font-size="8.2" fill="#222">0.9</text><line x1="317.1" y1="251.3" x2="317.1" y2="252.9" stroke="#111" stroke-width="0.8"/><text x="317.1" y="260.2" text-anchor="middle" font-family="'Liberation Sans', Arial, Helvetica, sans-serif" font-weight="bold" font-size="8.4" fill="#111">0</text><line x1="340.89" y1="251.3" x2="340.89" y2="252.9" stroke="#111" stroke-width="0.8"/><text x="340.89" y="260.2" text-anchor="middle" font-family="'Liberation Sans', Arial, Helvetica, sans-serif" font-weight="bold" font-size="8.4" fill="#111">50</text><line x1="364.67" y1="251.3" x2="364.67" y2="252.9" stroke="#111" stroke-width="0.8"/><text x="364.67" y="260.2" text-anchor="middle" font-family="'Liberation Sans', Arial, Helvetica, sans-serif" font-weight="bold" font-size="8.4" fill="#111">100</text><line x1="388.46" y1="251.3" x2="388.46" y2="252.9" stroke="#111" stroke-width="0.8"/><text x="388.46" y="260.2" text-anchor="middle" font-family="'Liberation Sans', Arial, Helvetica, sans-serif" font-weight="bold" font-size="8.4" fill="#111">150</text><line x1="412.24" y1="251.3" x2="412.24" y2="252.9" stroke="#111" stroke-width="0.8"/><text x="412.24" y="260.2" text-anchor="middle" font-family="'Liberation Sans', Arial, Helvetica, sans-serif" font-weight="bold" font-size="8.4" fill="#111">200</text><line x1="436.03" y1="251.3" x2="436.03" y2="252.9" stroke="#111" stroke-width="0.8"/><text x="436.03" y="260.2" text-anchor="middle" font-family="'Liberation Sans', Arial, Helvetica, sans-serif" font-weight="bold" font-size="8.4" fill="#111">250</text><line x1="459.81" y1="251.3" x2="459.81" y2="252.9" stroke="#111" stroke-width="0.8"/><text x="459.81" y="260.2" text-anchor="middle" font-family="'Liberation Sans', Arial, Helvetica, sans-serif" font-weight="bold" font-size="8.4" fill="#111">300</text><line x1="483.6" y1="251.3" x2="483.6" y2="252.9" stroke="#111" stroke-width="0.8"/><text x="483.6" y="260.2" text-anchor="middle" font-family="'Liberation Sans', Arial, Helvetica, sans-serif" font-weight="bold" font-size="8.4" fill="#111">350</text><line x1="507.38" y1="251.3" x2="507.38" y2="252.9" stroke="#111" stroke-width="0.8"/><text x="507.38" y="260.2" text-anchor="middle" font-family="'Liberation Sans', Arial, Helvetica, sans-serif" font-weight="bold" font-size="8.4" fill="#111">400</text><line x1="531.16" y1="251.3" x2="531.16" y2="252.9" stroke="#111" stroke-width="0.8"/><text x="531.16" y="260.2" text-anchor="middle" font-family="'Liberation Sans', Arial, Helvetica, sans-serif" font-weight="bold" font-size="8.4" fill="#111">450</text><text x="422.6" y="269.6" text-anchor="middle" font-family="'Liberation Sans', Arial, Helvetica, sans-serif" font-weight="bold" font-size="8.8" fill="#111">Residue</text><rect x="341.2" y="198.7" width="6.9" height="51.6" rx="1.6" fill="#94eaf6" stroke="#102020" stroke-width="1.05" stroke-dasharray="2,1"/><rect x="450.8" y="198.7" width="3.9" height="51.6" rx="1.6" fill="#94eaf6" stroke="#102020" stroke-width="1.05" stroke-dasharray="2,1"/><rect x="468.3" y="198.7" width="3.9" height="51.6" rx="1.6" fill="#94eaf6" stroke="#102020" stroke-width="1.05" stroke-dasharray="2,1"/><rect x="479.6" y="198.7" width="3.8" height="51.6" rx="1.6" fill="#94eaf6" stroke="#102020" stroke-width="1.05" stroke-dasharray="2,1"/><line x1="307" y1="235.29" x2="536" y2="235.29" stroke="#9b2ff0" stroke-width="1.1" stroke-dasharray="5.6,2.6,1.4,2.575" stroke-dashoffset="8.175"/><path d="M317.1,226.33 L317.58,234.77 L318.05,237.53 L318.53,240.29 L319,240.21 L319.48,240.22 L319.95,239.91 L320.43,240.95 L320.91,241.56 L321.38,242.51 L321.86,242.55 L322.33,243.02 L322.81,243.5 L323.28,243.68 L323.76,243.93 L324.24,243.72 L324.71,244.27 L325.19,244.47 L325.66,244.76 L326.14,244.68 L326.61,243.26 L327.09,241.9 L327.57,243.15 L328.04,243.43 L328.52,244.27 L328.99,244.38 L329.47,244.62 L329.94,244.91 L330.42,244.75 L330.9,244.82 L331.37,244.83 L331.85,244.79 L332.32,244.76 L332.8,244.97 L333.27,244.56 L333.75,243.16 L334.23,241.26 L334.7,242.82 L335.18,243.29 L335.65,243.64 L336.13,244.1 L336.6,244.95 L337.08,244.82 L337.56,244.89 L338.03,244.88 L338.51,244.65 L338.98,244.62 L339.46,244.79 L339.93,244.75 L340.41,244.8 L340.89,244.79 L341.36,244.96 L341.84,244.81 L342.31,245.01 L342.79,243.03 L343.26,240.07 L343.74,236.58 L344.21,233.51 L344.69,236.13 L345.17,238.88 L345.64,240.45 L346.12,240.79 L346.59,240.76 L347.07,241.62 L347.54,243.65 L348.02,244.66 L348.5,244.77 L348.97,244.6 L349.45,244.93 L349.92,244.47 L350.4,244.39 L350.87,244.69 L351.35,242.51 L351.83,240.54 L352.3,242.6 L352.78,243.04 L353.25,243.98 L353.73,244.5 L354.2,244.94 L354.68,244.78 L355.16,244.9 L355.63,244.67 L356.11,244.7 L356.58,242.08 L357.06,239.7 L357.53,241.71 L358.01,242.98 L358.49,243.69 L358.96,244.51 L359.44,244.5 L359.91,244.69 L360.39,244.77 L360.86,244.62 L361.34,243.86 L361.82,242.07 L362.29,241.2 L362.77,242.19 L363.24,241.65 L363.72,240.31 L364.19,241.89 L364.67,243.23 L365.15,244 L365.62,244.68 L366.1,244.96 L366.57,244.67 L367.05,244.55 L367.52,244.72 L368,244.68 L368.48,244.73 L368.95,244.82 L369.43,243.5 L369.9,242.05 L370.38,242.79 L370.85,242.35 L371.33,241.38 L371.81,240.92 L372.28,240.77 L372.76,241.81 L373.23,243.48 L373.71,244.3 L374.18,244.5 L374.66,244.89 L375.14,244.98 L375.61,244.87 L376.09,244.86 L376.56,244.58 L377.04,244.49 L377.51,244.29 L377.99,244.52 L378.47,244.92 L378.94,244.85 L379.42,244.14 L379.89,243.14 L380.37,243.17 L380.84,242.26 L381.32,241.62 L381.8,241.64 L382.27,242.98 L382.75,244.29 L383.22,244.74 L383.7,244.89 L384.17,244.59 L384.65,244.99 L385.13,244.79 L385.6,244.99 L386.08,244.35 L386.55,244.66 L387.03,244.45 L387.5,244.51 L387.98,244.78 L388.46,244.44 L388.93,243.71 L389.41,243.76 L389.88,243.65 L390.36,243.54 L390.83,244.45 L391.31,244.7 L391.78,244.94 L392.26,244.91 L392.74,244.97 L393.21,244.9 L393.69,244.86 L394.16,244.56 L394.64,243.29 L395.11,241.99 L395.59,242.98 L396.07,243.83 L396.54,244.26 L397.02,244.53 L397.49,244.5 L397.97,244.79 L398.44,244.92 L398.92,244.49 L399.4,244.56 L399.87,244.7 L400.35,244.55 L400.82,244.78 L401.3,244.77 L401.77,244.95 L402.25,244.76 L402.73,244.15 L403.2,243.89 L403.68,243.4 L404.15,243.03 L404.63,243.53 L405.1,243.99 L405.58,244.07 L406.06,244.5 L406.53,244.66 L407.01,244.67 L407.48,244.74 L407.96,244.81 L408.43,244.54 L408.91,244.74 L409.39,243.21 L409.86,241.33 L410.34,243.09 L410.81,243.89 L411.29,244.08 L411.76,244.17 L412.24,244.89 L412.72,244.6 L413.19,243.69 L413.67,242.06 L414.14,241.4 L414.62,241.46 L415.09,242.76 L415.57,244.31 L416.05,244.81 L416.52,244.63 L417,244.64 L417.47,244.58 L417.95,244.54 L418.42,244.78 L418.9,244.8 L419.38,244.98 L419.85,244.74 L420.33,245 L420.8,244.73 L421.28,244.79 L421.75,244.68 L422.23,243.79 L422.71,242.25 L423.18,242.16 L423.66,243.63 L424.13,244.3 L424.61,244.77 L425.08,244.92 L425.56,244.68 L426.04,244.95 L426.51,244.57 L426.99,244.75 L427.46,243.86 L427.94,242.71 L428.41,243.16 L428.89,244.05 L429.37,244.5 L429.84,244.52 L430.32,244.89 L430.79,244.92 L431.27,244.9 L431.74,244.98 L432.22,244.77 L432.7,244.77 L433.17,244.99 L433.65,245 L434.12,244.87 L434.6,244.83 L435.07,244.82 L435.55,244.85 L436.03,244.58 L436.5,244.94 L436.98,244.67 L437.45,244.93 L437.93,244.75 L438.4,244.86 L438.88,244.7 L439.35,244.82 L439.83,244.21 L440.31,241.36 L440.78,238.37 L441.26,240.93 L441.73,243.06 L442.21,244.03 L442.68,244.48 L443.16,244.97 L443.64,244.96 L444.11,244.75 L444.59,244.6 L445.06,244.96 L445.54,244.8 L446.01,244.88 L446.49,244.79 L446.97,244.51 L447.44,244.77 L447.92,244.97 L448.39,244.68 L448.87,244.84 L449.34,244.85 L449.82,244.7 L450.3,244.99 L450.77,244.82 L451.25,244.71 L451.72,244.72 L452.2,240.26 L452.67,235.22 L453.15,240 L453.63,241.88 L454.1,243.58 L454.58,244.8 L455.05,244.87 L455.53,244.76 L456,244.83 L456.48,244.89 L456.96,244.52 L457.43,244.73 L457.91,244.83 L458.38,244.11 L458.86,243.09 L459.33,239.64 L459.81,238.81 L460.29,241.92 L460.76,243.54 L461.24,244.59 L461.71,244.56 L462.19,245.01 L462.66,244.95 L463.14,244.75 L463.62,244.92 L464.09,244.95 L464.57,244.86 L465.04,244.86 L465.52,244.78 L465.99,244.83 L466.47,244.83 L466.95,244.83 L467.42,244.3 L467.9,245.01 L468.37,244.41 L468.85,244.71 L469.32,244.84 L469.8,240.86 L470.28,235.53 L470.75,240.02 L471.23,241.73 L471.7,243.77 L472.18,244.67 L472.65,244.92 L473.13,244.15 L473.61,244.72 L474.08,244.87 L474.56,244.97 L475.03,244.83 L475.51,244.93 L475.98,244.52 L476.46,244.41 L476.94,244.11 L477.41,243.06 L477.89,242.66 L478.36,242.98 L478.84,243.8 L479.31,244.44 L479.79,244.19 L480.27,243.42 L480.74,238.49 L481.22,232.46 L481.69,238.11 L482.17,240.8 L482.64,242.99 L483.12,244.73 L483.6,244.19 L484.07,244.47 L484.55,244.61 L485.02,244.44 L485.5,243.52 L485.97,243.47 L486.45,242.41 L486.92,243.81 L487.4,244.11 L487.88,244.43 L488.35,244.91 L488.83,244.69 L489.3,244.82 L489.78,244.93 L490.25,244.83 L490.73,244.89 L491.21,244.76 L491.68,245.01 L492.16,244.82 L492.63,244.18 L493.11,243.59 L493.58,244.21 L494.06,244.35 L494.54,244.46 L495.01,244.48 L495.49,244.85 L495.96,244.85 L496.44,244.82 L496.91,244.81 L497.39,244.55 L497.87,244.86 L498.34,244.68 L498.82,244.92 L499.29,244.82 L499.77,244.61 L500.24,244.13 L500.72,244.67 L501.2,243.85 L501.67,242.55 L502.15,240.48 L502.62,239.38 L503.1,241.12 L503.57,242.47 L504.05,242.53 L504.53,241.97 L505,242.11 L505.48,242.69 L505.95,244.15 L506.43,244.64 L506.9,244.9 L507.38,244.51 L507.86,243.83 L508.33,243.21 L508.81,241.84 L509.28,240.87 L509.76,241.11 L510.23,242 L510.71,242.95 L511.19,244.12 L511.66,244.44 L512.14,244.61 L512.61,243.61 L513.09,242.78 L513.56,241.57 L514.04,239.69 L514.52,239.24 L514.99,241.84 L515.47,243.39 L515.94,244.24 L516.42,244.29 L516.89,244.73 L517.37,244.24 L517.85,243.23 L518.32,242.5 L518.8,243.19 L519.27,242.79 L519.75,242.18 L520.22,242.15 L520.7,241.97 L521.18,241.39 L521.65,241 L522.13,241.09 L522.6,240.74 L523.08,240.29 L523.55,240.07 L524.03,239.75 L524.51,239.56 L524.98,238.83 L525.46,238.48" fill="none" stroke="#0000ff" stroke-width="1.25" stroke-linejoin="round"/><path d="M317.1,216.44 L317.58,228.59 L318.05,232.95 L318.53,236.89 L319,237.91 L319.48,238.57 L319.95,239.63 L320.43,240.89 L320.91,241.28 L321.38,242.48 L321.86,242.91 L322.33,243.29 L322.81,243.28 L323.28,243.75 L323.76,243.87 L324.24,244.02 L324.71,244.26 L325.19,244.43 L325.66,244.44 L326.14,244.26 L326.61,242.66 L327.09,241.38 L327.57,242.79 L328.04,243.42 L328.52,243.91 L328.99,244.45 L329.47,244.59 L329.94,244.42 L330.42,244.63 L330.9,244.62 L331.37,243.93 L331.85,244.53 L332.32,244.5 L332.8,244.62 L333.27,244.54 L333.75,242.64 L334.23,240.5 L334.7,242.33 L335.18,243.33 L335.65,243.24 L336.13,244.39 L336.6,244.47 L337.08,244.42 L337.56,244.49 L338.03,244.54 L338.51,244.69 L338.98,244.18 L339.46,244.76 L339.93,244.55 L340.41,243.99 L340.89,242.97 L341.36,242.28 L341.84,242.71 L342.31,243.37 L342.79,241.76 L343.26,236.26 L343.74,231.23 L344.21,225.63 L344.69,230.5 L345.17,234.95 L345.64,237.54 L346.12,239.11 L346.59,240.77 L347.07,242.22 L347.54,243.78 L348.02,244.37 L348.5,244.42 L348.97,244.25 L349.45,244.65 L349.92,244.58 L350.4,244.46 L350.87,243.46 L351.35,240.6 L351.83,237.92 L352.3,240.41 L352.78,242.32 L353.25,243.57 L353.73,243.79 L354.2,244.61 L354.68,244.67 L355.16,244.67 L355.63,244.52 L356.11,243.99 L356.58,241.44 L357.06,238.4 L357.53,241.05 L358.01,242.35 L358.49,243.35 L358.96,244.05 L359.44,244.61 L359.91,244.69 L360.39,244.6 L360.86,244.61 L361.34,244.49 L361.82,244.68 L362.29,244.52 L362.77,244.75 L363.24,241.18 L363.72,236.53 L364.19,240.43 L364.67,242.01 L365.15,243.49 L365.62,244.61 L366.1,244.71 L366.57,244.54 L367.05,244.64 L367.52,244.45 L368,244.25 L368.48,244.78 L368.95,244.27 L369.43,242.72 L369.9,241.38 L370.38,242.79 L370.85,243.06 L371.33,244.04 L371.81,244.02 L372.28,244.25 L372.76,243.36 L373.23,242.96 L373.71,242.63 L374.18,243.26 L374.66,244.4 L375.14,244.65 L375.61,244.57 L376.09,244.26 L376.56,243.2 L377.04,241.57 L377.51,241.23 L377.99,241.58 L378.47,242.77 L378.94,243.36 L379.42,243.71 L379.89,242.72 L380.37,243.15 L380.84,242.74 L381.32,243.47 L381.8,243.9 L382.27,244.12 L382.75,244.61 L383.22,244.71 L383.7,244.35 L384.17,244.59 L384.65,244.77 L385.13,244.45 L385.6,244.74 L386.08,243.83 L386.55,244.4 L387.03,244.53 L387.5,244.27 L387.98,244.58 L388.46,244.47 L388.93,244.32 L389.41,243.51 L389.88,242.97 L390.36,242.17 L390.83,242.08 L391.31,242.6 L391.78,243.71 L392.26,244.23 L392.74,244.24 L393.21,244.76 L393.69,244.44 L394.16,244.61 L394.64,242.52 L395.11,237.13 L395.59,239.34 L396.07,240.58 L396.54,242.65 L397.02,243.19 L397.49,244.25 L397.97,244.4 L398.44,244.66 L398.92,244.67 L399.4,244.56 L399.87,244.76 L400.35,244.4 L400.82,244.78 L401.3,244.74 L401.77,244.69 L402.25,244.39 L402.73,244.51 L403.2,244.78 L403.68,244.64 L404.15,244.56 L404.63,244.57 L405.1,244.63 L405.58,244.17 L406.06,244.05 L406.53,244.3 L407.01,244.74 L407.48,244.44 L407.96,244.72 L408.43,244.73 L408.91,244.47 L409.39,242.05 L409.86,236.4 L410.34,241.27 L410.81,242.92 L411.29,244.71 L411.76,244.71 L412.24,244.34 L412.72,244.55 L413.19,243.85 L413.67,243.47 L414.14,243.3 L414.62,243.81 L415.09,244.2 L415.57,244.52 L416.05,244.68 L416.52,244.64 L417,244.5 L417.47,244.62 L417.95,244.74 L418.42,244.38 L418.9,244.63 L419.38,244.67 L419.85,244.62 L420.33,244.45 L420.8,244.66 L421.28,244.45 L421.75,244.68 L422.23,244.72 L422.71,244.69 L423.18,244.64 L423.66,244.46 L424.13,244.3 L424.61,244 L425.08,242.94 L425.56,241.74 L426.04,241.12 L426.51,241.89 L426.99,243.13 L427.46,241.94 L427.94,239.65 L428.41,240.67 L428.89,242.92 L429.37,243.54 L429.84,244.61 L430.32,244.44 L430.79,244.66 L431.27,243.92 L431.74,244.13 L432.22,242.84 L432.7,242.38 L433.17,241.85 L433.65,241.89 L434.12,242.67 L434.6,243.78 L435.07,244.33 L435.55,244.12 L436.03,244.44 L436.5,244.54 L436.98,244.67 L437.45,244.38 L437.93,244.33 L438.4,244.67 L438.88,244.57 L439.35,244.52 L439.83,244.59 L440.31,242.96 L440.78,242.32 L441.26,243.29 L441.73,243.69 L442.21,244.2 L442.68,244.55 L443.16,244.45 L443.64,244.05 L444.11,244.55 L444.59,244.15 L445.06,244.62 L445.54,244.65 L446.01,244.31 L446.49,244.18 L446.97,244.68 L447.44,244.56 L447.92,244.71 L448.39,244.57 L448.87,244.34 L449.34,244.54 L449.82,244.46 L450.3,244.72 L450.77,244.19 L451.25,244.48 L451.72,244.64 L452.2,241.87 L452.67,238.68 L453.15,241.51 L453.63,242.94 L454.1,243.8 L454.58,244.55 L455.05,244.72 L455.53,244.77 L456,244.77 L456.48,244.14 L456.96,244.71 L457.43,244.7 L457.91,244.78 L458.38,244.6 L458.86,244.67 L459.33,243.55 L459.81,243.06 L460.29,243.66 L460.76,243.93 L461.24,244.39 L461.71,244.48 L462.19,244.02 L462.66,243.85 L463.14,242.5 L463.62,241.55 L464.09,240.45 L464.57,240.35 L465.04,241.61 L465.52,243.62 L465.99,244.48 L466.47,244.46 L466.95,244.78 L467.42,244.74 L467.9,244.22 L468.37,244.09 L468.85,243.72 L469.32,242.29 L469.8,239.28 L470.28,236.93 L470.75,241.28 L471.23,242.87 L471.7,243.64 L472.18,244.62 L472.65,244.24 L473.13,244.21 L473.61,244.61 L474.08,244.18 L474.56,244.32 L475.03,244.57 L475.51,244.39 L475.98,244.53 L476.46,244.47 L476.94,244.3 L477.41,244.29 L477.89,244.25 L478.36,244.71 L478.84,244.28 L479.31,244.67 L479.79,244.62 L480.27,244.75 L480.74,241.44 L481.22,237.02 L481.69,240.58 L482.17,241.92 L482.64,243.25 L483.12,244.55 L483.6,244.68 L484.07,244.48 L484.55,244.54 L485.02,244.72 L485.5,244.49 L485.97,244.57 L486.45,244.21 L486.92,243.85 L487.4,242.8 L487.88,241.52 L488.35,242.23 L488.83,243.43 L489.3,244.32 L489.78,244.64 L490.25,244.02 L490.73,243.77 L491.21,242.35 L491.68,241.78 L492.16,240.91 L492.63,241.28 L493.11,241.94 L493.58,243.16 L494.06,244.15 L494.54,244.09 L495.01,244.48 L495.49,244.43 L495.96,244.48 L496.44,244.5 L496.91,244.32 L497.39,243.6 L497.87,242.77 L498.34,241.72 L498.82,241.95 L499.29,242.53 L499.77,243.62 L500.24,244.4 L500.72,244.47 L501.2,243.9 L501.67,244.27 L502.15,243.65 L502.62,243.21 L503.1,243.76 L503.57,244.02 L504.05,244.21 L504.53,244.64 L505,244.74 L505.48,244.4 L505.95,244.65 L506.43,244.74 L506.9,244.32 L507.38,244.53 L507.86,244.32 L508.33,244.67 L508.81,244.55 L509.28,244.46 L509.76,244.03 L510.23,243.66 L510.71,243.32 L511.19,242.75 L511.66,242.54 L512.14,242.65 L512.61,243.65 L513.09,243.91 L513.56,244.36 L514.04,243.17 L514.52,242.78 L514.99,243.2 L515.47,243.88 L515.94,244.18 L516.42,244.02 L516.89,244.49 L517.37,244.17 L517.85,244.08 L518.32,243.77 L518.8,243.88 L519.27,243.72 L519.75,243.33 L520.22,243.31 L520.7,242.75 L521.18,242.63 L521.65,242.58 L522.13,242.21 L522.6,242.48 L523.08,242.15 L523.55,241.31 L524.03,240.89 L524.51,240.06 L524.98,239.67 L525.46,239.22 L525.93,238.91 L526.41,239.01" fill="none" stroke="#ff0000" stroke-width="1.25" stroke-linejoin="round"/><path d="M317.1,224.12 L317.58,233.3 L318.05,236.46 L318.53,239.79 L319,239.43 L319.48,239.72 L319.95,240.12 L320.43,240.84 L320.91,241.35 L321.38,242.72 L321.86,242.77 L322.33,243.18 L322.81,243.37 L323.28,243.33 L323.76,243.8 L324.24,243.86 L324.71,243.72 L325.19,244.12 L325.66,244.09 L326.14,243.95 L326.61,242.47 L327.09,240.87 L327.57,241.98 L328.04,242.89 L328.52,243.35 L328.99,244.09 L329.47,243.91 L329.94,244.35 L330.42,243.75 L330.9,243.88 L331.37,244.1 L331.85,244.12 L332.32,244.3 L332.8,244.16 L333.27,243.96 L333.75,241.91 L334.23,240.06 L334.7,241.85 L335.18,242.94 L335.65,243.51 L336.13,243.89 L336.6,244.24 L337.08,244.01 L337.56,244.09 L338.03,243.96 L338.51,243.65 L338.98,243.14 L339.46,242.97 L339.93,243.3 L340.41,243.77 L340.89,243.98 L341.36,244.3 L341.84,243.87 L342.31,244.11 L342.79,242 L343.26,237.7 L343.74,233.25 L344.21,228.67 L344.69,232.77 L345.17,236.03 L345.64,238.14 L346.12,239.48 L346.59,240.67 L347.07,242.07 L347.54,243.36 L348.02,244.1 L348.5,244.27 L348.97,243.99 L349.45,244.33 L349.92,244 L350.4,244.2 L350.87,243.8 L351.35,242.09 L351.83,239.93 L352.3,241.84 L352.78,242.76 L353.25,243.39 L353.73,243.74 L354.2,244.18 L354.68,244.29 L355.16,243.74 L355.63,244.35 L356.11,243.76 L356.58,240.63 L357.06,237.97 L357.53,240.78 L358.01,242.05 L358.49,242.84 L358.96,243.71 L359.44,244.19 L359.91,244.22 L360.39,244.34 L360.86,244.19 L361.34,244.25 L361.82,244.23 L362.29,244.26 L362.77,244.08 L363.24,241.4 L363.72,238.75 L364.19,241.32 L364.67,242.31 L365.15,243.19 L365.62,243.82 L366.1,243.84 L366.57,244.34 L367.05,244.15 L367.52,243.56 L368,242.59 L368.48,242.03 L368.95,243.14 L369.43,242.57 L369.9,241.36 L370.38,242.42 L370.85,242.98 L371.33,243.01 L371.81,243.22 L372.28,243.31 L372.76,243.31 L373.23,243.42 L373.71,244.01 L374.18,244.22 L374.66,244.06 L375.14,244.28 L375.61,244.11 L376.09,244.14 L376.56,243.71 L377.04,243.8 L377.51,244.15 L377.99,243.69 L378.47,242.95 L378.94,242.94 L379.42,242.31 L379.89,241.21 L380.37,242.76 L380.84,243.49 L381.32,243.71 L381.8,244.01 L382.27,244.03 L382.75,244.23 L383.22,243.76 L383.7,243.32 L384.17,243.3 L384.65,242.58 L385.13,242.32 L385.6,242.68 L386.08,243.55 L386.55,244.08 L387.03,243.91 L387.5,244.31 L387.98,244.11 L388.46,244.06 L388.93,244.19 L389.41,244.07 L389.88,244.24 L390.36,244.32 L390.83,244.07 L391.31,244.25 L391.78,243.89 L392.26,244.18 L392.74,244.26 L393.21,244 L393.69,244.13 L394.16,243.34 L394.64,241.67 L395.11,240.17 L395.59,241.02 L396.07,241.41 L396.54,242.91 L397.02,243.57 L397.49,244.14 L397.97,244.07 L398.44,244.27 L398.92,244.04 L399.4,244.29 L399.87,243.81 L400.35,244.13 L400.82,243.7 L401.3,243.88 L401.77,244.19 L402.25,244.28 L402.73,244.32 L403.2,243.79 L403.68,242.73 L404.15,241.52 L404.63,242.43 L405.1,243.81 L405.58,244.17 L406.06,243.72 L406.53,243.33 L407.01,242.35 L407.48,241.92 L407.96,241.47 L408.43,241.79 L408.91,242.34 L409.39,240.64 L409.86,238.87 L410.34,241.01 L410.81,242.31 L411.29,243.26 L411.76,243.92 L412.24,244.12 L412.72,244.25 L413.19,243.83 L413.67,244.01 L414.14,243.6 L414.62,244.17 L415.09,243.99 L415.57,244.24 L416.05,243.87 L416.52,243.53 L417,242.64 L417.47,242.68 L417.95,243.63 L418.42,243.99 L418.9,244.3 L419.38,244.23 L419.85,244.34 L420.33,244.01 L420.8,244.01 L421.28,244.26 L421.75,244.03 L422.23,244.11 L422.71,243.9 L423.18,243.8 L423.66,244.01 L424.13,244.08 L424.61,244.27 L425.08,244.32 L425.56,244.12 L426.04,243.48 L426.51,244.29 L426.99,244.17 L427.46,242.77 L427.94,241.55 L428.41,242.56 L428.89,243.31 L429.37,243.44 L429.84,244.09 L430.32,244.07 L430.79,244.34 L431.27,244.22 L431.74,244.07 L432.22,244.21 L432.7,244.05 L433.17,244.07 L433.65,244.23 L434.12,243.93 L434.6,244.28 L435.07,243.88 L435.55,244.23 L436.03,244.34 L436.5,244 L436.98,244.24 L437.45,244.04 L437.93,244.33 L438.4,244.06 L438.88,244.19 L439.35,244.17 L439.83,243.77 L440.31,242.71 L440.78,241.31 L441.26,242.23 L441.73,242.68 L442.21,243.49 L442.68,243.59 L443.16,244.06 L443.64,243.97 L444.11,243.96 L444.59,244.17 L445.06,244.29 L445.54,243.95 L446.01,244.27 L446.49,244.22 L446.97,244.17 L447.44,244.33 L447.92,244.32 L448.39,243.97 L448.87,244.28 L449.34,243.99 L449.82,244.32 L450.3,243.58 L450.77,244.32 L451.25,244.31 L451.72,244.1 L452.2,241.08 L452.67,237.67 L453.15,241.01 L453.63,242.12 L454.1,243.27 L454.58,243.85 L455.05,243.84 L455.53,244.26 L456,244.23 L456.48,244 L456.96,244.02 L457.43,243.92 L457.91,244.24 L458.38,243.96 L458.86,243.89 L459.33,243.45 L459.81,242.75 L460.29,243.28 L460.76,243.59 L461.24,243.55 L461.71,244.05 L462.19,244.02 L462.66,244.11 L463.14,243.77 L463.62,243.98 L464.09,243.28 L464.57,242.59 L465.04,242.43 L465.52,243.01 L465.99,243.71 L466.47,244.08 L466.95,243.87 L467.42,244.33 L467.9,243.99 L468.37,244.16 L468.85,243.98 L469.32,244.21 L469.8,241.41 L470.28,237.47 L470.75,240.91 L471.23,242.05 L471.7,242.82 L472.18,242.72 L472.65,241.91 L473.13,241.83 L473.61,242.8 L474.08,243.67 L474.56,244.12 L475.03,244.07 L475.51,244.18 L475.98,243.97 L476.46,243.51 L476.94,243.35 L477.41,242.84 L477.89,243.13 L478.36,243.47 L478.84,243.81 L479.31,244.27 L479.79,244.26 L480.27,243.91 L480.74,241.07 L481.22,237.32 L481.69,240.73 L482.17,242.26 L482.64,243.14 L483.12,244.18 L483.6,244.18 L484.07,244.29 L484.55,244.2 L485.02,243.88 L485.5,243.81 L485.97,242.34 L486.45,240.86 L486.92,239.98 L487.4,241.6 L487.88,243.01 L488.35,243.75 L488.83,244.07 L489.3,244.06 L489.78,244.2 L490.25,243.9 L490.73,244.03 L491.21,244.01 L491.68,244.32 L492.16,243.9 L492.63,243.73 L493.11,242.94 L493.58,243.38 L494.06,243.54 L494.54,243.97 L495.01,244.23 L495.49,243.99 L495.96,244.32 L496.44,244.24 L496.91,244.33 L497.39,243.98 L497.87,243.92 L498.34,243.34 L498.82,241.34 L499.29,241.25 L499.77,243.21 L500.24,244.01 L500.72,244.14 L501.2,243.74 L501.67,242.31 L502.15,241.65 L502.62,242.46 L503.1,243.08 L503.57,243.28 L504.05,243.98 L504.53,244.07 L505,243.72 L505.48,244.15 L505.95,244.31 L506.43,244.24 L506.9,244.1 L507.38,243.9 L507.86,243.86 L508.33,244.24 L508.81,244.16 L509.28,243.22 L509.76,241.84 L510.23,242.96 L510.71,243.61 L511.19,243.62 L511.66,244.04 L512.14,244.09 L512.61,243.29 L513.09,243.09 L513.56,242.71 L514.04,240.95 L514.52,239.26 L514.99,240.5 L515.47,241.67 L515.94,241.82 L516.42,241.56 L516.89,241.5 L517.37,241.29 L517.85,241.27 L518.32,241.04 L518.8,240.91 L519.27,240.94 L519.75,240.38 L520.22,240.55 L520.7,239.82 L521.18,239.76 L521.65,239.59 L522.13,239.47 L522.6,239.22 L523.08,239.17 L523.55,234.98 L524.03,231.53 L524.51,235.19 L524.98,231.79" fill="none" stroke="#000000" stroke-width="1.25" stroke-linejoin="round"/><path d="M307,199.3 L307,251.3 L537.6,251.3" fill="none" stroke="#111" stroke-width="1.1"/></g></svg>
</body></html>
